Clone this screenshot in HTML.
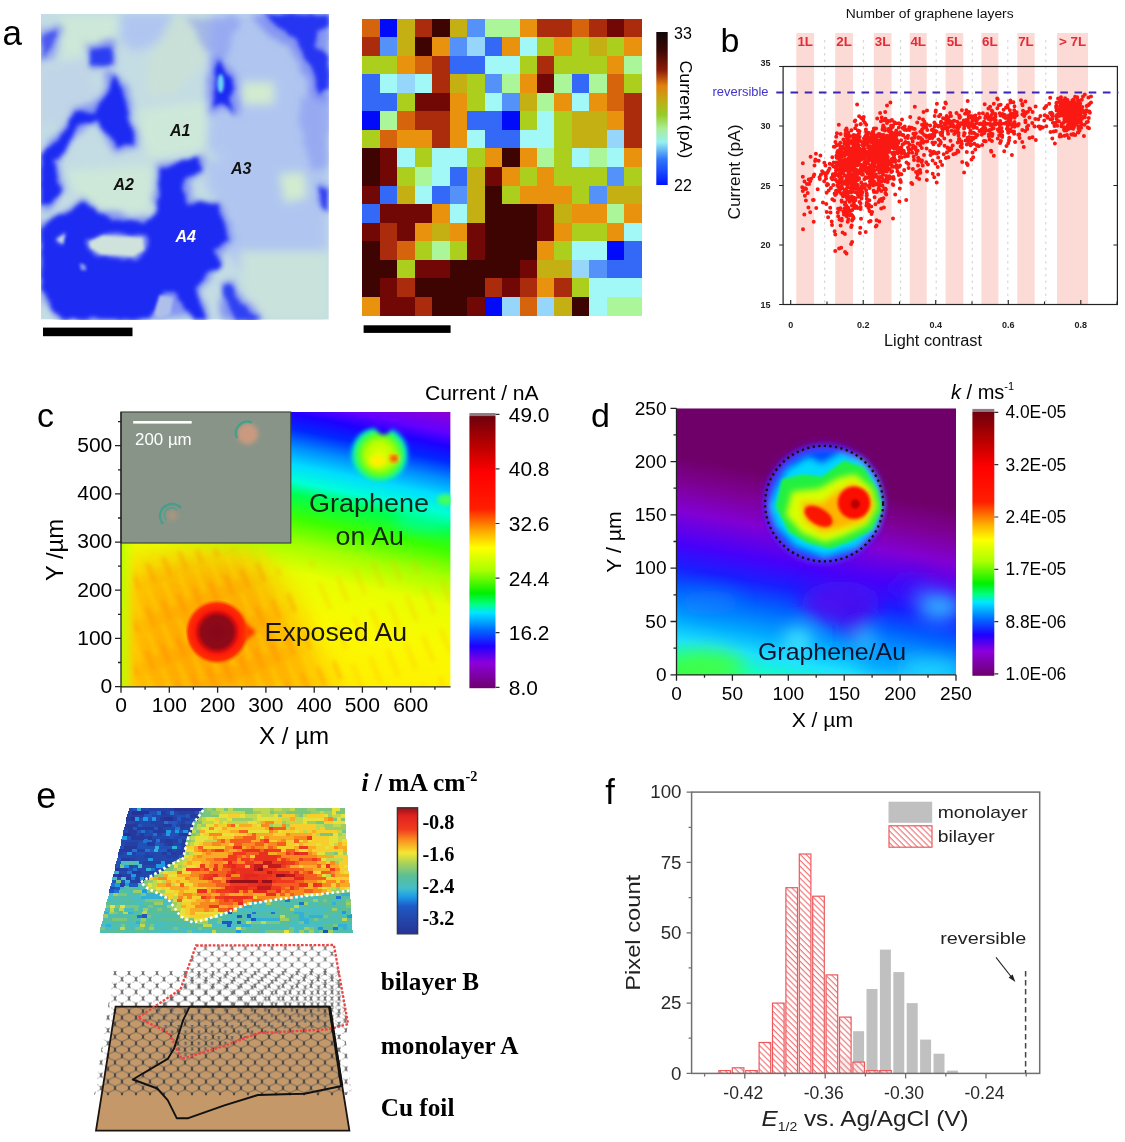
<!DOCTYPE html>
<html><head><meta charset="utf-8"><title>Figure</title>
<style>html,body{margin:0;padding:0;background:#fff}svg{display:block}text{font-family:"Liberation Sans",sans-serif}.sf{font-family:"Liberation Serif",serif}</style>
</head><body>
<svg width="1125" height="1142" viewBox="0 0 1125 1142">
<rect width="1125" height="1142" fill="#fff"/>
<g>
<defs><clipPath id="ca"><rect x="41" y="14" width="287.5" height="305.3"/></clipPath><filter id="ba" x="-5%" y="-5%" width="110%" height="110%"><feTurbulence type="fractalNoise" baseFrequency="0.07" numOctaves="2" seed="4" result="n"/><feDisplacementMap in="SourceGraphic" in2="n" scale="7.5" xChannelSelector="R" yChannelSelector="G"/><feGaussianBlur stdDeviation="2.1"/></filter><filter id="bap" x="-20%" y="-20%" width="140%" height="140%"><feGaussianBlur stdDeviation="1.6"/></filter><filter id="ba2" x="-20%" y="-20%" width="140%" height="140%"><feGaussianBlur stdDeviation="5"/></filter><filter id="ba3" x="-20%" y="-20%" width="140%" height="140%"><feTurbulence type="fractalNoise" baseFrequency="0.05" numOctaves="2" seed="9" result="n"/><feDisplacementMap in="SourceGraphic" in2="n" scale="14" xChannelSelector="R" yChannelSelector="G"/><feGaussianBlur stdDeviation="3.6"/></filter></defs>
<g clip-path="url(#ca)">
<rect x="41" y="14" width="288" height="306" fill="#c4dde4"/>
<g filter="url(#ba2)">
<polygon points="211.9,13.3 267.0,13.3 305.6,43.6 327.6,87.7 327.6,175.8 250.4,175.8 222.9,159.3 206.4,148.3 209.1,120.7 206.4,95.9 209.1,60.1" fill="#b0c6f0"/>
<polygon points="206.4,160.0 327.6,160.0 327.6,250.9 278.0,250.9 267.0,275.7 239.4,270.2 222.9,242.7 228.4,215.1 206.4,187.6" fill="#b0c6f0"/>
<polygon points="120.9,13.3 173.3,13.3 162.3,40.8 134.7,51.8 120.9,40.8" fill="#b0c6f0"/>
<polygon points="41.0,68.4 85.1,60.1 96.1,95.9 71.3,120.7 41.0,126.2" fill="#bccbea" opacity=".45"/>
<polygon points="140.2,109.7 206.4,101.4 206.4,148.3 151.2,159.3 140.2,134.5" fill="#cde8d8"/>
<polygon points="57.6,16.0 118.2,16.0 112.7,43.6 63.1,60.1" fill="#cde8d8"/>
<polygon points="173.3,16.0 211.9,16.0 206.4,60.1 173.3,95.9 145.7,95.9 148.5,60.1" fill="#c9e0d8"/>
<polygon points="242.2,82.2 273.9,82.2 273.9,104.2 242.2,104.2" fill="#d2ebcf"/>
<polygon points="278.0,21.5 322.1,38.1 316.6,60.1 286.3,46.3" fill="#c9e0d8"/>
<polygon points="65.8,171.0 151.2,165.5 151.2,209.6 112.7,215.1 79.6,198.6" fill="#cde8d8"/>
<polygon points="279.4,173.8 304.2,172.4 306.9,197.2 284.9,202.7" fill="#d2ebcf"/>
<polygon points="239.4,250.9 327.6,250.9 327.6,319.3 267.0,319.3 244.9,292.3" fill="#c9e2dc"/>
</g>
<g filter="url(#ba3)" fill="#8494f2">
<polygon points="184.3,18.8 239.4,18.8 228.4,57.4 206.4,51.8" opacity=".55"/>
<polygon points="251.8,14.3 328.6,14.3 328.6,101.0 317.2,103.9 307.3,84.0 301.6,66.9 293.1,51.3 274.6,38.4 260.3,27.1"/>
<polygon points="303.0,95.3 328.6,95.3 328.6,170.0 310.1,170.0 300.2,138.0 298.0,109.6" opacity=".55"/>
<polygon points="85.1,43.6 115.4,40.8 116.8,67.0 90.6,72.5"/>
<polygon points="109.9,69.8 126.4,84.9 138.8,145.5 118.2,151.0 96.1,126.2 79.6,131.8 63.1,159.3 41.0,175.8 41.0,148.3 57.6,134.5 74.1,107.0 92.0,108.3"/>
<polygon points="41.0,27.0 60.3,24.3 57.6,49.1 41.0,65.6" opacity=".8"/>
<polygon points="209.1,57.4 222.9,54.6 239.4,87.7 238.0,118.0 222.9,107.0 209.1,113.8"/>
<polygon points="155.4,165.5 206.4,155.9 206.4,173.8 188.4,179.3 191.2,201.3 220.1,201.3 235.3,239.9 217.4,250.9 225.6,266.1 200.8,292.3 209.1,319.3 184.3,314.3 162.3,319.3 54.8,319.3 41.0,297.8 41.0,223.4 71.3,206.8 85.1,197.2 98.9,209.6 148.5,219.2 155.4,209.6"/>
<polygon points="41.0,154.5 54.8,154.5 63.1,193.1 50.7,208.2 41.0,209.6"/>
<polygon points="220.1,281.2 233.9,281.2 244.9,303.3 267.0,319.3 222.9,319.3"/>
<polygon points="316.6,182.0 327.6,187.6 327.6,215.1 319.3,206.8"/>
</g>
<g filter="url(#ba)" fill="#1c2af2">
<polygon points="41.0,35.3 56.2,29.8 52.0,46.3 42.4,60.1" opacity=".6"/>
<polygon points="90.1,50.5 112.7,46.3 113.5,63.4 92.8,67.8" opacity=".82"/>
<polygon points="112.7,75.3 123.1,87.7 134.2,142.8 118.7,146.1 95.6,121.3 77.4,126.8 65.8,149.7 57.6,159.3 41.0,171.7 41.0,155.2 59.8,138.6 76.3,111.1 93.9,113.0 109.4,89.0"/>
<polygon points="263.2,14.3 328.6,14.3 327.9,27.1 317.2,31.3 315.1,38.4 317.2,46.3 328.6,56.9 328.6,89.7 318.7,95.3 315.8,81.1 311.6,66.9 303.0,56.9 300.2,47.0 297.3,39.2 283.1,31.3" opacity=".92"/>
<polygon points="220.1,61.5 229.0,77.2 234.5,87.7 229.0,98.7 234.5,113.8 222.9,102.0 213.0,108.6 215.2,87.7 213.0,73.9"/>
<path fill-rule="evenodd" d="M159.5,168.3 176.0,162.8 198.6,157.8 202.2,171.0 184.3,176.5 183.2,187.6 187.1,206.3 200.8,201.3 217.4,205.5 222.9,223.4 229.8,239.9 211.9,248.2 220.7,264.7 206.4,275.7 195.3,289.5 206.4,319.3 195.3,319.3 184.3,308.8 176.0,295.0 165.0,292.8 156.8,306.0 148.5,319.3 60.3,319.3 41.0,289.5 41.0,228.9 57.6,215.1 74.1,209.6 83.7,201.3 96.1,212.4 112.7,217.9 145.7,223.4 156.8,212.4 159.5,187.6Z M85.7,240.5 102.2,233.3 145.7,236.1 146.8,250.9 134.7,259.2 98.9,256.4 87.0,248.7Z M55.4,239.4 65.8,232.2 63.6,245.4Z"/>
<polygon points="41.0,154.5 52.0,154.5 57.6,176.5 60.3,193.1 49.3,204.1 41.0,206.8"/>
<polygon points="222.9,284.0 231.2,284.0 240.0,303.3 261.5,319.3 234.5,319.3 224.3,295.0" opacity=".8"/>
<polygon points="319.3,184.8 327.6,190.3 327.6,212.4 321.3,204.1" opacity=".85"/>
</g>
<g filter="url(#bap)">
<ellipse cx="220.7" cy="83.5" rx="3.2" ry="9.5" fill="#6cd4f6"/>
<polygon points="79.6,263.3 85.1,264.7 86.5,270.2 81.0,270.2" fill="#8f9cec"/>
<polygon points="89.2,241.6 103.0,235.5 143.0,237.7 144.1,249.8 133.6,256.4 100.3,254.2 90.1,247.6" fill="#cfe3dc"/>
<polygon points="56.5,239.4 65.3,233.3 63.1,244.3" fill="#c4d4e8"/>
<polygon points="159.5,295.0 173.3,297.8 170.5,314.3 159.5,319.3 154.0,314.3" fill="#aebfea"/>
</g>
</g>
<text x="170.0" y="136.0" font-size="16.5" fill="#111" textLength="20.5" lengthAdjust="spacingAndGlyphs" font-weight="bold" font-style="italic">A1</text>
<text x="231.0" y="174.0" font-size="16.5" fill="#111" textLength="20.5" lengthAdjust="spacingAndGlyphs" font-weight="bold" font-style="italic">A3</text>
<text x="113.5" y="190.0" font-size="16.5" fill="#111" textLength="20.5" lengthAdjust="spacingAndGlyphs" font-weight="bold" font-style="italic">A2</text>
<text x="175.5" y="241.7" font-size="16.5" fill="#fff" textLength="20.5" lengthAdjust="spacingAndGlyphs" font-weight="bold" font-style="italic">A4</text>
<rect x="43" y="327.6" width="89.5" height="8.6" fill="#000"/>
<text x="2.6" y="45.3" font-size="35">a</text>
</g>
<g>
<g shape-rendering="crispEdges">
<rect x="362.4" y="18.5" width="17.8" height="18.9" fill="#d6640c"/>
<rect x="379.9" y="18.5" width="17.8" height="18.9" fill="#020afa"/>
<rect x="397.3" y="18.5" width="17.8" height="18.9" fill="#c4b012"/>
<rect x="414.8" y="18.5" width="17.8" height="18.9" fill="#aa2c0c"/>
<rect x="432.2" y="18.5" width="17.8" height="18.9" fill="#3e0402"/>
<rect x="449.7" y="18.5" width="17.8" height="18.9" fill="#c4b012"/>
<rect x="467.1" y="18.5" width="17.8" height="18.9" fill="#5492fa"/>
<rect x="484.6" y="18.5" width="35.2" height="18.9" fill="#aaf698"/>
<rect x="519.5" y="18.5" width="17.8" height="18.9" fill="#e8920e"/>
<rect x="537.0" y="18.5" width="35.2" height="18.9" fill="#aa2c0c"/>
<rect x="571.9" y="18.5" width="17.8" height="18.9" fill="#d6640c"/>
<rect x="589.3" y="18.5" width="17.8" height="18.9" fill="#aa2c0c"/>
<rect x="606.8" y="18.5" width="17.8" height="18.9" fill="#720806"/>
<rect x="624.2" y="18.5" width="17.8" height="18.9" fill="#aa2c0c"/>
<rect x="362.4" y="37.0" width="17.8" height="18.9" fill="#aa2c0c"/>
<rect x="379.9" y="37.0" width="17.8" height="18.9" fill="#5492fa"/>
<rect x="397.3" y="37.0" width="17.8" height="18.9" fill="#c4b012"/>
<rect x="414.8" y="37.0" width="17.8" height="18.9" fill="#3e0402"/>
<rect x="432.2" y="37.0" width="17.8" height="18.9" fill="#e8920e"/>
<rect x="449.7" y="37.0" width="17.8" height="18.9" fill="#5492fa"/>
<rect x="467.1" y="37.0" width="17.8" height="18.9" fill="#96d6fa"/>
<rect x="484.6" y="37.0" width="17.8" height="18.9" fill="#3468f6"/>
<rect x="502.1" y="37.0" width="17.8" height="18.9" fill="#e8920e"/>
<rect x="519.5" y="37.0" width="17.8" height="18.9" fill="#a2f8f6"/>
<rect x="537.0" y="37.0" width="17.8" height="18.9" fill="#acce1c"/>
<rect x="554.4" y="37.0" width="17.8" height="18.9" fill="#e8920e"/>
<rect x="571.9" y="37.0" width="17.8" height="18.9" fill="#acce1c"/>
<rect x="589.3" y="37.0" width="17.8" height="18.9" fill="#c4b012"/>
<rect x="606.8" y="37.0" width="17.8" height="18.9" fill="#acce1c"/>
<rect x="624.2" y="37.0" width="17.8" height="18.9" fill="#e8920e"/>
<rect x="362.4" y="55.6" width="35.2" height="18.9" fill="#acce1c"/>
<rect x="397.3" y="55.6" width="17.8" height="18.9" fill="#e8920e"/>
<rect x="414.8" y="55.6" width="17.8" height="18.9" fill="#d6640c"/>
<rect x="432.2" y="55.6" width="17.8" height="18.9" fill="#aa2c0c"/>
<rect x="449.7" y="55.6" width="35.2" height="18.9" fill="#3468f6"/>
<rect x="484.6" y="55.6" width="35.2" height="18.9" fill="#a2f8f6"/>
<rect x="519.5" y="55.6" width="17.8" height="18.9" fill="#acce1c"/>
<rect x="537.0" y="55.6" width="17.8" height="18.9" fill="#aa2c0c"/>
<rect x="554.4" y="55.6" width="52.7" height="18.9" fill="#acce1c"/>
<rect x="606.8" y="55.6" width="17.8" height="18.9" fill="#e8920e"/>
<rect x="624.2" y="55.6" width="17.8" height="18.9" fill="#aaf698"/>
<rect x="362.4" y="74.2" width="17.8" height="18.9" fill="#3468f6"/>
<rect x="379.9" y="74.2" width="17.8" height="18.9" fill="#a2f8f6"/>
<rect x="397.3" y="74.2" width="17.8" height="18.9" fill="#96d6fa"/>
<rect x="414.8" y="74.2" width="17.8" height="18.9" fill="#a2f8f6"/>
<rect x="432.2" y="74.2" width="17.8" height="18.9" fill="#aa2c0c"/>
<rect x="449.7" y="74.2" width="17.8" height="18.9" fill="#c4b012"/>
<rect x="467.1" y="74.2" width="17.8" height="18.9" fill="#acce1c"/>
<rect x="484.6" y="74.2" width="17.8" height="18.9" fill="#5492fa"/>
<rect x="502.1" y="74.2" width="17.8" height="18.9" fill="#aaf698"/>
<rect x="519.5" y="74.2" width="17.8" height="18.9" fill="#e8920e"/>
<rect x="537.0" y="74.2" width="17.8" height="18.9" fill="#720806"/>
<rect x="554.4" y="74.2" width="17.8" height="18.9" fill="#aaf698"/>
<rect x="571.9" y="74.2" width="17.8" height="18.9" fill="#3468f6"/>
<rect x="589.3" y="74.2" width="17.8" height="18.9" fill="#aaf698"/>
<rect x="606.8" y="74.2" width="17.8" height="18.9" fill="#d6640c"/>
<rect x="624.2" y="74.2" width="17.8" height="18.9" fill="#acce1c"/>
<rect x="362.4" y="92.7" width="35.2" height="18.9" fill="#3468f6"/>
<rect x="397.3" y="92.7" width="17.8" height="18.9" fill="#acce1c"/>
<rect x="414.8" y="92.7" width="35.2" height="18.9" fill="#720806"/>
<rect x="449.7" y="92.7" width="17.8" height="18.9" fill="#e8920e"/>
<rect x="467.1" y="92.7" width="17.8" height="18.9" fill="#acce1c"/>
<rect x="484.6" y="92.7" width="17.8" height="18.9" fill="#a2f8f6"/>
<rect x="502.1" y="92.7" width="17.8" height="18.9" fill="#5492fa"/>
<rect x="519.5" y="92.7" width="17.8" height="18.9" fill="#c4b012"/>
<rect x="537.0" y="92.7" width="17.8" height="18.9" fill="#aaf698"/>
<rect x="554.4" y="92.7" width="17.8" height="18.9" fill="#e8920e"/>
<rect x="571.9" y="92.7" width="17.8" height="18.9" fill="#a2f8f6"/>
<rect x="589.3" y="92.7" width="17.8" height="18.9" fill="#e8920e"/>
<rect x="606.8" y="92.7" width="17.8" height="18.9" fill="#d6640c"/>
<rect x="624.2" y="92.7" width="17.8" height="18.9" fill="#aa2c0c"/>
<rect x="362.4" y="111.2" width="17.8" height="18.9" fill="#020afa"/>
<rect x="379.9" y="111.2" width="17.8" height="18.9" fill="#aaf698"/>
<rect x="397.3" y="111.2" width="17.8" height="18.9" fill="#d6640c"/>
<rect x="414.8" y="111.2" width="35.2" height="18.9" fill="#aa2c0c"/>
<rect x="449.7" y="111.2" width="17.8" height="18.9" fill="#e8920e"/>
<rect x="467.1" y="111.2" width="35.2" height="18.9" fill="#3468f6"/>
<rect x="502.1" y="111.2" width="17.8" height="18.9" fill="#020afa"/>
<rect x="519.5" y="111.2" width="17.8" height="18.9" fill="#acce1c"/>
<rect x="537.0" y="111.2" width="17.8" height="18.9" fill="#a2f8f6"/>
<rect x="554.4" y="111.2" width="17.8" height="18.9" fill="#acce1c"/>
<rect x="571.9" y="111.2" width="35.2" height="18.9" fill="#c4b012"/>
<rect x="606.8" y="111.2" width="17.8" height="18.9" fill="#e8920e"/>
<rect x="624.2" y="111.2" width="17.8" height="18.9" fill="#aa2c0c"/>
<rect x="362.4" y="129.8" width="17.8" height="18.9" fill="#acce1c"/>
<rect x="379.9" y="129.8" width="17.8" height="18.9" fill="#d6640c"/>
<rect x="397.3" y="129.8" width="35.2" height="18.9" fill="#e8920e"/>
<rect x="432.2" y="129.8" width="17.8" height="18.9" fill="#aa2c0c"/>
<rect x="449.7" y="129.8" width="17.8" height="18.9" fill="#e8920e"/>
<rect x="467.1" y="129.8" width="17.8" height="18.9" fill="#a2f8f6"/>
<rect x="484.6" y="129.8" width="35.2" height="18.9" fill="#3468f6"/>
<rect x="519.5" y="129.8" width="35.2" height="18.9" fill="#a2f8f6"/>
<rect x="554.4" y="129.8" width="17.8" height="18.9" fill="#acce1c"/>
<rect x="571.9" y="129.8" width="35.2" height="18.9" fill="#c4b012"/>
<rect x="606.8" y="129.8" width="17.8" height="18.9" fill="#96d6fa"/>
<rect x="624.2" y="129.8" width="17.8" height="18.9" fill="#aa2c0c"/>
<rect x="362.4" y="148.3" width="17.8" height="18.9" fill="#3e0402"/>
<rect x="379.9" y="148.3" width="17.8" height="18.9" fill="#720806"/>
<rect x="397.3" y="148.3" width="17.8" height="18.9" fill="#a2f8f6"/>
<rect x="414.8" y="148.3" width="17.8" height="18.9" fill="#acce1c"/>
<rect x="432.2" y="148.3" width="35.2" height="18.9" fill="#a2f8f6"/>
<rect x="467.1" y="148.3" width="17.8" height="18.9" fill="#acce1c"/>
<rect x="484.6" y="148.3" width="17.8" height="18.9" fill="#e8920e"/>
<rect x="502.1" y="148.3" width="17.8" height="18.9" fill="#3e0402"/>
<rect x="519.5" y="148.3" width="17.8" height="18.9" fill="#e8920e"/>
<rect x="537.0" y="148.3" width="17.8" height="18.9" fill="#aaf698"/>
<rect x="554.4" y="148.3" width="17.8" height="18.9" fill="#acce1c"/>
<rect x="571.9" y="148.3" width="17.8" height="18.9" fill="#a2f8f6"/>
<rect x="589.3" y="148.3" width="17.8" height="18.9" fill="#aaf698"/>
<rect x="606.8" y="148.3" width="17.8" height="18.9" fill="#a2f8f6"/>
<rect x="624.2" y="148.3" width="17.8" height="18.9" fill="#e8920e"/>
<rect x="362.4" y="166.9" width="17.8" height="18.9" fill="#3e0402"/>
<rect x="379.9" y="166.9" width="17.8" height="18.9" fill="#720806"/>
<rect x="397.3" y="166.9" width="17.8" height="18.9" fill="#acce1c"/>
<rect x="414.8" y="166.9" width="17.8" height="18.9" fill="#aaf698"/>
<rect x="432.2" y="166.9" width="17.8" height="18.9" fill="#a2f8f6"/>
<rect x="449.7" y="166.9" width="17.8" height="18.9" fill="#3468f6"/>
<rect x="467.1" y="166.9" width="17.8" height="18.9" fill="#c4b012"/>
<rect x="484.6" y="166.9" width="17.8" height="18.9" fill="#720806"/>
<rect x="502.1" y="166.9" width="17.8" height="18.9" fill="#e8920e"/>
<rect x="519.5" y="166.9" width="17.8" height="18.9" fill="#acce1c"/>
<rect x="537.0" y="166.9" width="17.8" height="18.9" fill="#e8920e"/>
<rect x="554.4" y="166.9" width="52.7" height="18.9" fill="#acce1c"/>
<rect x="606.8" y="166.9" width="17.8" height="18.9" fill="#5492fa"/>
<rect x="624.2" y="166.9" width="17.8" height="18.9" fill="#acce1c"/>
<rect x="362.4" y="185.5" width="17.8" height="18.9" fill="#720806"/>
<rect x="379.9" y="185.5" width="17.8" height="18.9" fill="#3468f6"/>
<rect x="397.3" y="185.5" width="17.8" height="18.9" fill="#c4b012"/>
<rect x="414.8" y="185.5" width="17.8" height="18.9" fill="#a2f8f6"/>
<rect x="432.2" y="185.5" width="17.8" height="18.9" fill="#3468f6"/>
<rect x="449.7" y="185.5" width="17.8" height="18.9" fill="#5492fa"/>
<rect x="467.1" y="185.5" width="17.8" height="18.9" fill="#c4b012"/>
<rect x="484.6" y="185.5" width="17.8" height="18.9" fill="#3e0402"/>
<rect x="502.1" y="185.5" width="17.8" height="18.9" fill="#acce1c"/>
<rect x="519.5" y="185.5" width="52.7" height="18.9" fill="#e8920e"/>
<rect x="571.9" y="185.5" width="17.8" height="18.9" fill="#acce1c"/>
<rect x="589.3" y="185.5" width="17.8" height="18.9" fill="#5492fa"/>
<rect x="606.8" y="185.5" width="35.2" height="18.9" fill="#c4b012"/>
<rect x="362.4" y="204.0" width="17.8" height="18.9" fill="#3468f6"/>
<rect x="379.9" y="204.0" width="52.7" height="18.9" fill="#720806"/>
<rect x="432.2" y="204.0" width="17.8" height="18.9" fill="#e8920e"/>
<rect x="449.7" y="204.0" width="17.8" height="18.9" fill="#a2f8f6"/>
<rect x="467.1" y="204.0" width="17.8" height="18.9" fill="#c4b012"/>
<rect x="484.6" y="204.0" width="52.7" height="18.9" fill="#3e0402"/>
<rect x="537.0" y="204.0" width="17.8" height="18.9" fill="#720806"/>
<rect x="554.4" y="204.0" width="17.8" height="18.9" fill="#c4b012"/>
<rect x="571.9" y="204.0" width="35.2" height="18.9" fill="#e8920e"/>
<rect x="606.8" y="204.0" width="17.8" height="18.9" fill="#aaf698"/>
<rect x="624.2" y="204.0" width="17.8" height="18.9" fill="#e8920e"/>
<rect x="362.4" y="222.6" width="17.8" height="18.9" fill="#720806"/>
<rect x="379.9" y="222.6" width="17.8" height="18.9" fill="#aa2c0c"/>
<rect x="397.3" y="222.6" width="17.8" height="18.9" fill="#720806"/>
<rect x="414.8" y="222.6" width="17.8" height="18.9" fill="#e8920e"/>
<rect x="432.2" y="222.6" width="17.8" height="18.9" fill="#c4b012"/>
<rect x="449.7" y="222.6" width="17.8" height="18.9" fill="#e8920e"/>
<rect x="467.1" y="222.6" width="17.8" height="18.9" fill="#720806"/>
<rect x="484.6" y="222.6" width="52.7" height="18.9" fill="#3e0402"/>
<rect x="537.0" y="222.6" width="17.8" height="18.9" fill="#720806"/>
<rect x="554.4" y="222.6" width="17.8" height="18.9" fill="#e8920e"/>
<rect x="571.9" y="222.6" width="35.2" height="18.9" fill="#acce1c"/>
<rect x="606.8" y="222.6" width="17.8" height="18.9" fill="#e8920e"/>
<rect x="624.2" y="222.6" width="17.8" height="18.9" fill="#a2f8f6"/>
<rect x="362.4" y="241.1" width="17.8" height="18.9" fill="#3e0402"/>
<rect x="379.9" y="241.1" width="17.8" height="18.9" fill="#aa2c0c"/>
<rect x="397.3" y="241.1" width="17.8" height="18.9" fill="#d6640c"/>
<rect x="414.8" y="241.1" width="17.8" height="18.9" fill="#acce1c"/>
<rect x="432.2" y="241.1" width="17.8" height="18.9" fill="#aaf698"/>
<rect x="449.7" y="241.1" width="17.8" height="18.9" fill="#acce1c"/>
<rect x="467.1" y="241.1" width="17.8" height="18.9" fill="#720806"/>
<rect x="484.6" y="241.1" width="52.7" height="18.9" fill="#3e0402"/>
<rect x="537.0" y="241.1" width="17.8" height="18.9" fill="#e8920e"/>
<rect x="554.4" y="241.1" width="17.8" height="18.9" fill="#acce1c"/>
<rect x="571.9" y="241.1" width="35.2" height="18.9" fill="#a2f8f6"/>
<rect x="606.8" y="241.1" width="17.8" height="18.9" fill="#020afa"/>
<rect x="624.2" y="241.1" width="17.8" height="18.9" fill="#3468f6"/>
<rect x="362.4" y="259.6" width="35.2" height="18.9" fill="#3e0402"/>
<rect x="397.3" y="259.6" width="17.8" height="18.9" fill="#acce1c"/>
<rect x="414.8" y="259.6" width="35.2" height="18.9" fill="#720806"/>
<rect x="449.7" y="259.6" width="70.1" height="18.9" fill="#3e0402"/>
<rect x="519.5" y="259.6" width="17.8" height="18.9" fill="#720806"/>
<rect x="537.0" y="259.6" width="35.2" height="18.9" fill="#c4b012"/>
<rect x="571.9" y="259.6" width="17.8" height="18.9" fill="#96d6fa"/>
<rect x="589.3" y="259.6" width="17.8" height="18.9" fill="#5492fa"/>
<rect x="606.8" y="259.6" width="35.2" height="18.9" fill="#3468f6"/>
<rect x="362.4" y="278.2" width="17.8" height="18.9" fill="#3e0402"/>
<rect x="379.9" y="278.2" width="17.8" height="18.9" fill="#720806"/>
<rect x="397.3" y="278.2" width="17.8" height="18.9" fill="#aa2c0c"/>
<rect x="414.8" y="278.2" width="70.1" height="18.9" fill="#3e0402"/>
<rect x="484.6" y="278.2" width="17.8" height="18.9" fill="#aa2c0c"/>
<rect x="502.1" y="278.2" width="17.8" height="18.9" fill="#720806"/>
<rect x="519.5" y="278.2" width="17.8" height="18.9" fill="#aa2c0c"/>
<rect x="537.0" y="278.2" width="17.8" height="18.9" fill="#e8920e"/>
<rect x="554.4" y="278.2" width="17.8" height="18.9" fill="#aa2c0c"/>
<rect x="571.9" y="278.2" width="17.8" height="18.9" fill="#acce1c"/>
<rect x="589.3" y="278.2" width="52.7" height="18.9" fill="#a2f8f6"/>
<rect x="362.4" y="296.8" width="17.8" height="18.9" fill="#e8920e"/>
<rect x="379.9" y="296.8" width="35.2" height="18.9" fill="#720806"/>
<rect x="414.8" y="296.8" width="17.8" height="18.9" fill="#aa2c0c"/>
<rect x="432.2" y="296.8" width="35.2" height="18.9" fill="#3e0402"/>
<rect x="467.1" y="296.8" width="17.8" height="18.9" fill="#720806"/>
<rect x="484.6" y="296.8" width="17.8" height="18.9" fill="#020afa"/>
<rect x="502.1" y="296.8" width="17.8" height="18.9" fill="#96d6fa"/>
<rect x="519.5" y="296.8" width="17.8" height="18.9" fill="#d6640c"/>
<rect x="537.0" y="296.8" width="17.8" height="18.9" fill="#96d6fa"/>
<rect x="554.4" y="296.8" width="17.8" height="18.9" fill="#c4b012"/>
<rect x="571.9" y="296.8" width="17.8" height="18.9" fill="#3e0402"/>
<rect x="589.3" y="296.8" width="17.8" height="18.9" fill="#a2f8f6"/>
<rect x="606.8" y="296.8" width="35.2" height="18.9" fill="#aaf698"/>
</g>
<rect x="363.6" y="325.3" width="87" height="7.6" fill="#000"/>
<defs><linearGradient id="ga2" x1="0" y1="32" x2="0" y2="185" gradientUnits="userSpaceOnUse"><stop offset="0.000" stop-color="#100808"/><stop offset="0.120" stop-color="#3c0804"/><stop offset="0.250" stop-color="#8c1c08"/><stop offset="0.350" stop-color="#e2800e"/><stop offset="0.450" stop-color="#c0ac14"/><stop offset="0.540" stop-color="#96cc28"/><stop offset="0.630" stop-color="#aaec96"/><stop offset="0.720" stop-color="#96f0f0"/><stop offset="0.830" stop-color="#3278fa"/><stop offset="1.000" stop-color="#0014ff"/></linearGradient></defs>
<rect x="656.3" y="32" width="11.4" height="153" fill="url(#ga2)"/>
<text x="674.0" y="38.9" font-size="16" textLength="17.8" lengthAdjust="spacingAndGlyphs">33</text>
<text x="674.0" y="191.2" font-size="16" textLength="17.8" lengthAdjust="spacingAndGlyphs">22</text>
<text x="679.5" y="60.5" font-size="16" textLength="98.0" lengthAdjust="spacingAndGlyphs" transform="rotate(90 679.5 60.5)">Current  (pA)</text>
</g>
<g>
<rect x="796.3" y="33" width="17.8" height="271.5" fill="#fcdad6"/>
<rect x="835.2" y="33" width="17.8" height="271.5" fill="#fcdad6"/>
<rect x="873.8" y="33" width="17.7" height="271.5" fill="#fcdad6"/>
<rect x="909.7" y="33" width="17.0" height="271.5" fill="#fcdad6"/>
<rect x="945.6" y="33" width="17.7" height="271.5" fill="#fcdad6"/>
<rect x="981.4" y="33" width="17.0" height="271.5" fill="#fcdad6"/>
<rect x="1017.3" y="33" width="17.4" height="271.5" fill="#fcdad6"/>
<rect x="1057" y="33" width="31.0" height="271.5" fill="#fcdad6"/>
<line x1="824.7" y1="40" x2="824.7" y2="304" stroke="#d4d4d4" stroke-width="1.1" stroke-dasharray="2.5 4"/>
<line x1="863.4" y1="40" x2="863.4" y2="304" stroke="#d4d4d4" stroke-width="1.1" stroke-dasharray="2.5 4"/>
<line x1="900.6" y1="40" x2="900.6" y2="304" stroke="#d4d4d4" stroke-width="1.1" stroke-dasharray="2.5 4"/>
<line x1="936.2" y1="40" x2="936.2" y2="304" stroke="#d4d4d4" stroke-width="1.1" stroke-dasharray="2.5 4"/>
<line x1="972.3" y1="40" x2="972.3" y2="304" stroke="#d4d4d4" stroke-width="1.1" stroke-dasharray="2.5 4"/>
<line x1="1007.8" y1="40" x2="1007.8" y2="304" stroke="#d4d4d4" stroke-width="1.1" stroke-dasharray="2.5 4"/>
<line x1="1045.8" y1="40" x2="1045.8" y2="304" stroke="#d4d4d4" stroke-width="1.1" stroke-dasharray="2.5 4"/>
<text x="805.2" y="45.6" font-size="13.4" text-anchor="middle" fill="#e22c38" font-weight="bold">1L</text>
<text x="844.1" y="45.6" font-size="13.4" text-anchor="middle" fill="#e22c38" font-weight="bold">2L</text>
<text x="882.6" y="45.6" font-size="13.4" text-anchor="middle" fill="#e22c38" font-weight="bold">3L</text>
<text x="918.2" y="45.6" font-size="13.4" text-anchor="middle" fill="#e22c38" font-weight="bold">4L</text>
<text x="954.5" y="45.6" font-size="13.4" text-anchor="middle" fill="#e22c38" font-weight="bold">5L</text>
<text x="989.9" y="45.6" font-size="13.4" text-anchor="middle" fill="#e22c38" font-weight="bold">6L</text>
<text x="1026.0" y="45.6" font-size="13.4" text-anchor="middle" fill="#e22c38" font-weight="bold">7L</text>
<text x="1072.5" y="45.6" font-size="13.4" text-anchor="middle" fill="#e22c38" font-weight="bold">&gt; 7L</text>
<path d="M890.6 131.5h.01M841.8 178.0h.01M847.9 168.6h.01M885.6 148.7h.01M883.9 163.2h.01M834.6 231.2h.01M912.3 152.8h.01M879.3 185.1h.01M992.0 128.8h.01M877.6 157.4h.01M854.4 138.5h.01M875.7 135.4h.01M885.3 140.1h.01M897.5 141.1h.01M836.7 157.7h.01M847.9 167.9h.01M950.5 140.8h.01M1024.1 111.7h.01M1060.1 113.1h.01M846.4 210.1h.01M1074.6 121.6h.01M880.2 158.3h.01M848.5 164.9h.01M1002.8 114.0h.01M839.2 165.0h.01M1078.4 132.5h.01M872.5 148.9h.01M1076.1 115.3h.01M851.3 153.1h.01M966.1 120.1h.01M890.5 134.6h.01M1008.2 132.2h.01M913.4 133.7h.01M832.3 165.0h.01M850.5 171.2h.01M1073.1 118.5h.01M847.0 184.9h.01M857.9 130.4h.01M936.7 182.4h.01M1008.3 130.5h.01M1071.2 124.7h.01M1081.0 112.9h.01M992.0 136.0h.01M1068.2 109.5h.01M941.9 126.3h.01M942.1 165.1h.01M983.5 126.9h.01M1083.9 136.0h.01M1077.8 105.7h.01M848.0 166.4h.01M856.7 206.8h.01M935.4 163.6h.01M835.1 194.9h.01M985.2 124.3h.01M1009.1 118.8h.01M854.8 137.6h.01M840.9 146.7h.01M899.4 201.5h.01M855.2 208.1h.01M850.5 182.9h.01M1077.2 97.2h.01M853.1 144.6h.01M892.6 125.7h.01M1076.6 123.8h.01M1032.5 137.3h.01M866.1 155.7h.01M843.4 211.6h.01M942.2 133.0h.01M871.0 169.5h.01M958.4 151.7h.01M968.7 122.8h.01M1027.0 126.9h.01M1056.2 116.5h.01M1081.9 110.7h.01M846.2 179.9h.01M851.8 141.7h.01M886.7 140.8h.01M868.8 204.5h.01M859.6 170.7h.01M1078.0 122.6h.01M847.8 192.7h.01M854.7 182.0h.01M921.8 130.4h.01M819.5 177.3h.01M849.7 135.9h.01M886.0 140.1h.01M1077.8 110.8h.01M843.9 148.5h.01M826.6 192.7h.01M904.4 129.8h.01M1025.4 101.4h.01M947.4 122.9h.01M813.6 176.2h.01M849.1 143.7h.01M859.1 178.9h.01M893.0 218.5h.01M861.6 159.2h.01M1065.7 115.4h.01M962.2 162.1h.01M1067.0 117.2h.01M856.7 152.1h.01M840.6 133.9h.01M958.5 135.5h.01M940.3 132.9h.01M995.0 117.3h.01M859.1 116.3h.01M1010.3 129.6h.01M854.0 150.2h.01M848.0 141.2h.01M851.2 179.1h.01M952.6 121.5h.01M851.7 196.8h.01M972.3 137.4h.01M938.5 139.4h.01M837.2 152.6h.01M1006.5 146.1h.01M1071.9 127.9h.01M806.1 189.1h.01M920.6 138.0h.01M976.9 128.0h.01M1010.5 121.1h.01M975.4 119.1h.01M833.5 175.3h.01M930.1 151.0h.01M992.5 118.7h.01M853.0 166.7h.01M872.5 178.7h.01M1076.2 110.2h.01M906.7 154.7h.01M1072.6 106.5h.01M833.6 166.4h.01M1065.7 112.5h.01M856.6 170.4h.01M943.0 118.3h.01M1049.2 103.8h.01M1046.2 105.9h.01M884.6 151.6h.01M888.4 140.9h.01M875.6 141.4h.01M1072.1 112.8h.01M873.1 134.3h.01M881.2 170.9h.01M853.8 137.5h.01M893.7 138.0h.01M847.7 187.5h.01M880.9 121.2h.01M977.7 135.1h.01M974.8 133.4h.01M1068.8 138.0h.01M926.4 135.7h.01M879.3 221.4h.01M846.1 190.2h.01M911.7 127.8h.01M932.2 129.8h.01M1067.6 113.0h.01M857.8 154.6h.01M851.0 152.4h.01M977.4 145.2h.01M861.0 167.7h.01M961.9 110.2h.01M857.9 179.9h.01M922.1 129.6h.01M1010.7 113.5h.01M833.8 146.8h.01M1040.4 115.9h.01M844.0 161.2h.01M992.1 125.3h.01M850.6 168.4h.01M848.2 171.5h.01M958.6 133.0h.01M846.2 208.2h.01M879.1 150.5h.01M863.1 170.5h.01M1080.1 126.7h.01M900.8 182.0h.01M866.5 140.8h.01M841.5 168.7h.01M892.7 184.3h.01M902.7 144.6h.01M1007.9 130.5h.01M934.1 136.1h.01M1008.2 143.3h.01M1055.8 130.9h.01M1073.4 113.3h.01M917.6 174.5h.01M1082.3 117.1h.01M1044.2 120.4h.01M1076.2 113.7h.01M920.2 145.2h.01M832.0 225.1h.01M869.4 146.9h.01M879.7 140.8h.01M863.1 142.1h.01M885.1 142.8h.01M877.9 151.4h.01M879.7 143.4h.01M835.6 167.7h.01M1072.3 114.8h.01M1084.9 117.3h.01M1077.1 119.7h.01M889.9 162.2h.01M967.9 120.2h.01M1008.5 120.4h.01M1056.6 110.4h.01M1007.8 125.3h.01M911.9 138.6h.01M887.6 181.9h.01M862.2 156.7h.01M903.7 150.8h.01M1071.4 110.5h.01M835.7 174.4h.01M867.0 159.9h.01M991.3 151.8h.01M880.4 141.3h.01M844.9 165.2h.01M846.5 128.5h.01M857.1 158.3h.01M837.1 181.5h.01M848.0 167.0h.01M855.6 178.2h.01M906.0 137.6h.01M1075.2 134.9h.01M868.8 146.0h.01M842.9 162.8h.01M828.1 217.2h.01M843.1 182.1h.01M854.4 166.2h.01M865.0 136.7h.01M870.9 140.6h.01M861.3 157.7h.01M915.5 147.2h.01M847.4 178.7h.01M870.8 180.3h.01M906.5 162.6h.01M877.2 118.5h.01M853.7 155.7h.01M864.9 122.8h.01M882.2 145.9h.01M1064.4 121.1h.01M851.9 205.4h.01M1068.1 104.1h.01M889.4 163.3h.01M881.2 208.5h.01M847.7 221.8h.01M1072.6 112.5h.01M1075.6 104.0h.01M848.9 151.2h.01M1068.2 129.1h.01M838.5 170.1h.01M873.8 138.5h.01M836.0 170.6h.01M908.7 129.4h.01M1073.8 120.3h.01M1078.3 126.6h.01M922.6 165.6h.01M876.6 184.2h.01M888.3 164.5h.01M871.4 134.2h.01M979.5 124.0h.01M1027.9 111.7h.01M857.8 194.6h.01M854.5 172.7h.01M1018.7 124.0h.01M1051.4 112.8h.01M994.9 123.0h.01M1051.8 114.9h.01M1078.9 100.5h.01M1078.5 110.3h.01M999.8 113.3h.01M844.7 148.6h.01M899.4 152.3h.01M852.8 155.9h.01M1064.5 135.8h.01M851.5 180.4h.01M918.0 165.6h.01M984.7 104.3h.01M877.2 148.2h.01M888.2 145.1h.01M908.4 163.9h.01M1091.0 96.5h.01M897.0 168.2h.01M922.3 132.9h.01M863.6 151.5h.01M868.0 163.5h.01M879.5 145.8h.01M884.4 164.5h.01M855.2 206.7h.01M885.3 167.0h.01M854.8 187.2h.01M870.3 175.0h.01M1064.9 115.6h.01M1065.7 104.2h.01M885.0 151.5h.01M805.0 188.3h.01M854.6 141.3h.01M980.7 131.5h.01M973.5 127.7h.01M991.8 110.4h.01M857.2 149.7h.01M999.0 123.2h.01M947.6 148.1h.01M1055.3 123.0h.01M1089.3 104.0h.01M856.3 135.5h.01M840.3 148.8h.01M868.1 186.0h.01M890.8 128.8h.01M1057.3 109.4h.01M949.7 150.3h.01M879.1 185.9h.01M884.9 130.4h.01M855.0 173.2h.01M867.5 134.5h.01M883.0 149.7h.01M845.8 209.0h.01M873.2 143.6h.01M997.2 98.4h.01M851.8 157.6h.01M860.5 203.2h.01M959.4 138.9h.01M908.1 142.7h.01M889.7 148.6h.01M879.1 177.3h.01M893.9 154.7h.01M867.9 138.5h.01M852.8 174.7h.01M989.3 123.9h.01M856.9 163.7h.01M863.9 138.4h.01M953.5 121.0h.01M845.9 183.7h.01M824.2 181.3h.01M924.3 121.6h.01M870.0 173.2h.01M873.0 185.5h.01M855.7 139.0h.01M1070.5 106.0h.01M868.4 142.2h.01M931.8 130.1h.01M882.4 137.8h.01M940.5 143.5h.01M844.7 141.7h.01M969.9 132.9h.01M1076.3 114.3h.01M1068.1 107.5h.01M1076.4 109.8h.01M864.4 152.2h.01M863.2 156.2h.01M859.5 202.0h.01M959.5 117.8h.01M849.8 136.8h.01M851.4 130.3h.01M965.6 140.4h.01M1061.6 124.2h.01M840.8 167.7h.01M886.4 153.6h.01M1084.1 112.6h.01M992.6 113.2h.01M975.1 119.2h.01M845.4 149.1h.01M832.6 176.6h.01M893.6 138.0h.01M840.0 189.8h.01M960.6 146.6h.01M1070.6 110.9h.01M897.4 146.8h.01M1067.7 116.7h.01M884.3 155.3h.01M882.4 185.8h.01M889.4 151.8h.01M1064.0 108.5h.01M1080.3 116.2h.01M853.7 170.0h.01M855.5 160.5h.01M984.3 133.0h.01M883.8 149.0h.01M970.5 145.2h.01M1067.8 125.6h.01M917.7 150.7h.01M825.4 165.4h.01M1073.4 116.8h.01M1054.5 126.0h.01M985.1 127.9h.01M871.4 150.8h.01M895.0 159.7h.01M848.5 198.6h.01M1035.8 140.0h.01M1008.7 131.2h.01M848.0 154.1h.01M859.0 178.0h.01M940.7 133.2h.01M844.3 143.5h.01M934.2 177.2h.01M862.2 186.5h.01M840.4 208.3h.01M1064.0 129.8h.01M936.9 103.7h.01M846.3 164.1h.01M845.9 192.3h.01M1002.2 135.5h.01M907.8 137.9h.01M872.7 157.3h.01M1073.8 118.4h.01M889.6 178.4h.01M973.3 138.7h.01M815.5 159.5h.01M872.4 148.0h.01M976.6 122.9h.01M1014.5 106.2h.01M1068.5 112.5h.01M1087.8 111.3h.01M845.1 141.8h.01M1072.6 111.9h.01M839.2 189.4h.01M1062.0 114.9h.01M927.3 141.2h.01M882.0 201.0h.01M1061.4 126.3h.01M852.0 178.4h.01M845.4 167.7h.01M835.5 174.6h.01M858.2 149.2h.01M870.5 169.6h.01M1059.2 115.9h.01M933.4 144.2h.01M1073.6 113.2h.01M861.2 189.7h.01M910.2 117.0h.01M1007.7 128.3h.01M848.1 195.9h.01M922.0 124.8h.01M1073.9 127.3h.01M908.6 129.2h.01M1032.6 111.9h.01M868.5 208.0h.01M891.2 162.0h.01M1061.8 112.5h.01M843.3 173.2h.01M1029.4 108.6h.01M895.9 123.2h.01M1084.8 94.6h.01M981.6 129.5h.01M1024.2 115.9h.01M891.6 144.0h.01M1060.1 112.6h.01M840.4 160.5h.01M835.3 234.6h.01M1063.6 127.2h.01M854.4 169.5h.01M951.2 148.9h.01M857.1 104.5h.01M891.6 132.3h.01M954.2 120.8h.01M877.6 161.7h.01M858.9 188.9h.01M1004.2 151.3h.01M1009.9 110.3h.01M1014.7 117.8h.01M1044.7 115.3h.01M1060.2 134.4h.01M826.7 211.9h.01M911.3 182.9h.01M883.0 127.2h.01M871.5 179.3h.01M848.4 170.3h.01M1071.2 103.7h.01M1014.2 110.3h.01M1082.3 117.0h.01M879.3 172.7h.01M873.2 146.3h.01M862.9 149.6h.01M1078.7 120.8h.01M1073.1 119.9h.01M957.4 125.7h.01M828.7 190.5h.01M927.9 164.5h.01M852.4 164.9h.01M956.1 127.0h.01M845.9 163.5h.01M886.6 169.4h.01M842.3 170.2h.01M1088.4 97.4h.01M861.6 186.5h.01M842.9 168.6h.01M853.2 149.0h.01M1089.9 112.8h.01M845.6 130.2h.01M849.4 191.7h.01M1086.1 111.3h.01M881.8 152.4h.01M891.5 134.1h.01M884.2 139.3h.01M865.9 129.5h.01M974.5 124.5h.01M892.5 141.7h.01M864.6 149.0h.01M880.7 161.7h.01M991.4 114.9h.01M838.8 162.2h.01M855.0 188.4h.01M841.8 152.6h.01M840.4 176.3h.01M972.0 123.5h.01M1052.3 138.5h.01M1062.1 114.6h.01M951.6 130.8h.01M856.4 164.2h.01M867.9 137.0h.01M858.9 138.9h.01M947.6 131.1h.01M887.0 145.6h.01M867.3 154.1h.01M832.3 199.2h.01M848.8 183.8h.01M870.8 154.5h.01M995.3 124.4h.01M898.9 160.7h.01M881.9 138.6h.01M900.9 150.9h.01M1077.9 132.2h.01M826.9 185.3h.01M1071.8 105.0h.01M903.3 151.9h.01M927.3 130.1h.01M1063.2 102.5h.01M853.4 175.4h.01M957.8 142.5h.01M857.4 162.4h.01M857.1 152.9h.01M872.7 141.1h.01M1074.4 116.4h.01M1061.8 100.2h.01M975.3 149.4h.01M950.1 126.5h.01M956.5 112.9h.01M810.2 212.2h.01M804.9 195.8h.01M877.4 143.3h.01M1072.3 111.1h.01M838.3 186.8h.01M874.2 181.8h.01M900.4 124.0h.01M1070.9 128.0h.01M857.5 156.3h.01M895.6 144.4h.01M1014.8 125.5h.01M999.4 128.4h.01M884.0 163.7h.01M879.7 144.7h.01M879.6 154.6h.01M869.8 152.5h.01M922.7 140.8h.01M921.2 141.7h.01M848.8 157.9h.01M876.6 176.8h.01M894.3 122.2h.01M1073.5 114.6h.01M856.8 178.3h.01M957.6 150.5h.01M917.7 143.5h.01M804.5 181.5h.01M887.5 179.5h.01M1067.8 104.6h.01M1014.9 123.9h.01M877.3 183.6h.01M880.1 112.9h.01M1014.0 131.5h.01M999.2 135.2h.01M841.8 201.8h.01M896.8 148.8h.01M836.4 155.8h.01M881.0 155.5h.01M889.3 176.2h.01M939.0 116.3h.01M841.7 218.7h.01M839.4 177.0h.01M870.9 138.7h.01M932.1 153.5h.01M899.5 173.8h.01M850.1 158.7h.01M1065.3 119.7h.01M871.5 213.9h.01M867.7 173.5h.01M845.6 135.6h.01M872.4 132.1h.01M869.5 211.1h.01M900.2 179.9h.01M926.2 127.5h.01M889.6 169.1h.01M903.8 143.8h.01M874.9 144.5h.01M1065.8 103.7h.01M1056.1 106.3h.01M934.3 136.0h.01M896.9 143.5h.01M848.3 132.7h.01M833.7 162.5h.01M917.0 177.4h.01M867.1 139.8h.01M847.1 183.7h.01M1000.2 121.1h.01M914.4 136.9h.01M904.4 152.9h.01M849.5 183.5h.01M847.0 213.1h.01M866.2 124.8h.01M892.6 135.0h.01M846.4 135.2h.01M868.4 132.7h.01M976.9 120.3h.01M878.7 146.7h.01M1060.1 101.5h.01M1080.8 111.2h.01M866.1 134.4h.01M1000.5 134.0h.01M975.7 137.2h.01M1064.5 130.5h.01M844.1 212.3h.01M887.9 121.0h.01M881.5 153.0h.01M1070.8 116.8h.01M883.0 174.6h.01M1060.3 107.9h.01M1067.5 119.5h.01M1007.8 107.4h.01M958.9 141.1h.01M990.5 133.6h.01M1072.1 109.0h.01M839.8 154.9h.01M864.6 164.8h.01M874.7 162.3h.01M967.7 124.4h.01M900.0 132.2h.01M838.8 152.2h.01M886.8 178.5h.01M964.7 122.8h.01M842.4 172.9h.01M999.6 124.9h.01M847.5 199.3h.01M845.7 150.3h.01M883.4 147.1h.01M866.2 161.8h.01M845.1 252.1h.01M937.7 167.0h.01M882.7 159.5h.01M885.0 181.2h.01M983.9 141.0h.01M846.4 162.5h.01M894.3 155.0h.01M1070.2 118.8h.01M957.2 121.8h.01M900.0 165.4h.01M891.5 143.9h.01M844.4 208.8h.01M998.6 130.9h.01M887.2 177.5h.01M842.6 169.5h.01M1012.3 115.5h.01M862.5 142.6h.01M920.4 172.8h.01M914.8 106.7h.01M851.8 170.7h.01M841.4 161.9h.01M945.9 158.0h.01M866.5 167.5h.01M840.0 156.8h.01M856.1 206.2h.01M873.7 183.9h.01M870.6 139.5h.01M858.2 188.8h.01M897.1 152.0h.01M1006.9 128.8h.01M959.3 125.9h.01M875.1 155.8h.01M891.8 165.6h.01M865.0 165.4h.01M966.7 163.3h.01M839.3 173.4h.01M1066.3 130.6h.01M892.4 143.3h.01M839.8 180.4h.01M852.2 187.5h.01M835.2 251.0h.01M949.0 122.6h.01M897.0 145.6h.01M920.0 170.0h.01M813.7 200.0h.01M811.1 178.7h.01M854.1 146.6h.01M963.9 135.6h.01M850.8 141.6h.01M1086.7 122.2h.01M1015.1 142.1h.01M1079.0 112.8h.01M831.4 177.9h.01M891.0 127.3h.01M926.8 180.0h.01M872.1 161.0h.01M845.9 183.8h.01M913.7 156.7h.01M856.2 186.4h.01M846.5 253.6h.01M857.5 147.2h.01M894.2 152.4h.01M861.5 192.1h.01M1067.6 112.2h.01M996.1 123.6h.01M918.5 137.9h.01M874.2 174.2h.01M960.0 117.0h.01M869.0 169.4h.01M1060.3 113.0h.01M1062.5 104.1h.01M820.9 174.7h.01M923.5 111.9h.01M1067.9 117.6h.01M950.3 125.2h.01M1074.0 121.7h.01M876.6 220.3h.01M1003.6 116.7h.01M891.9 120.0h.01M1013.4 123.4h.01M874.0 149.3h.01M1082.0 117.3h.01M1070.5 119.9h.01M855.5 198.3h.01M803.0 229.2h.01M834.1 200.4h.01M966.6 111.7h.01M861.5 198.6h.01M838.1 208.7h.01M1056.4 103.0h.01M1078.6 112.3h.01M926.4 136.9h.01M852.1 220.5h.01M877.5 169.6h.01M886.6 140.2h.01M837.8 212.6h.01M961.8 144.1h.01M901.7 153.4h.01M859.9 232.9h.01M843.9 192.5h.01M1082.0 118.8h.01M844.4 175.5h.01M873.9 128.6h.01M943.7 154.3h.01M1012.8 115.8h.01M1088.8 118.0h.01M809.0 184.1h.01M844.7 194.1h.01M1081.3 109.2h.01M904.2 170.3h.01M901.6 150.1h.01M873.5 168.8h.01M891.5 136.3h.01M1065.3 112.1h.01M1062.9 112.3h.01M827.3 184.0h.01M854.4 155.4h.01M875.4 204.3h.01M835.4 141.9h.01M870.3 148.3h.01M870.6 221.1h.01M886.6 150.1h.01M1089.3 111.5h.01M850.2 180.3h.01M848.8 179.4h.01M896.4 165.2h.01M1073.8 114.3h.01M854.3 207.1h.01M843.7 171.1h.01M883.1 150.7h.01M1065.1 98.2h.01M845.5 168.7h.01M888.5 129.1h.01M849.7 201.7h.01M843.8 152.5h.01M1068.5 109.4h.01M1081.3 124.5h.01M885.1 140.7h.01M861.4 156.1h.01M871.7 165.7h.01M845.3 210.0h.01M968.3 139.5h.01M887.0 135.8h.01M879.5 165.6h.01M1074.1 102.0h.01M1072.1 114.5h.01M896.3 147.2h.01M856.8 146.5h.01M1060.1 102.1h.01M886.5 169.5h.01M870.4 157.0h.01M940.9 134.7h.01M839.9 209.6h.01M878.8 178.3h.01M966.4 110.2h.01M979.8 117.6h.01M1059.1 112.9h.01M934.7 116.1h.01M888.7 147.8h.01M887.7 157.1h.01M851.2 181.4h.01M867.3 132.9h.01M867.0 144.9h.01M870.8 138.9h.01M964.1 172.5h.01M927.0 110.4h.01M966.8 151.9h.01M985.3 124.1h.01M854.3 142.5h.01M857.1 138.0h.01M877.7 143.8h.01M827.1 173.1h.01M974.1 116.0h.01M869.6 140.4h.01M873.3 161.7h.01M964.6 126.2h.01M911.4 149.3h.01M830.2 207.7h.01M923.3 128.0h.01M944.5 145.7h.01M869.4 200.3h.01M834.6 193.6h.01M805.9 200.4h.01M1000.1 124.6h.01M1010.4 102.5h.01M1071.5 109.3h.01M1013.8 113.6h.01M921.7 161.8h.01M876.9 141.8h.01M1073.9 108.4h.01M832.9 174.3h.01M933.9 132.3h.01M1004.9 114.9h.01M815.9 153.8h.01M872.5 165.9h.01M883.9 171.4h.01M953.4 154.2h.01M859.0 159.6h.01M836.3 162.4h.01M940.4 161.5h.01M883.9 152.0h.01M856.1 173.7h.01M864.2 143.3h.01M1061.7 108.4h.01M862.4 184.3h.01M864.2 151.1h.01M854.6 185.3h.01M843.3 183.7h.01M1002.1 131.5h.01M1070.0 118.2h.01M1066.7 117.5h.01M886.9 171.6h.01M838.5 165.7h.01M886.9 156.6h.01M883.1 161.7h.01M874.3 170.7h.01M881.4 181.8h.01M1079.4 108.0h.01M1063.6 122.7h.01M855.3 153.5h.01M1074.9 120.1h.01M1082.3 110.8h.01M1061.0 97.3h.01M914.0 160.1h.01M882.5 129.4h.01M1003.6 109.8h.01M967.9 113.8h.01M884.9 160.1h.01M822.9 202.4h.01M878.9 163.4h.01M839.5 219.4h.01M881.0 145.8h.01M854.8 153.0h.01M892.1 171.2h.01M850.1 183.3h.01M854.1 162.8h.01M1050.2 97.8h.01M1022.4 114.4h.01M1080.3 110.6h.01M884.9 158.3h.01M866.9 156.4h.01M877.5 145.5h.01M850.4 159.5h.01M930.5 155.1h.01M810.6 156.8h.01M886.3 150.1h.01M1066.4 121.3h.01M836.9 133.2h.01M850.9 192.4h.01M849.2 176.0h.01M1070.0 106.3h.01M884.6 189.3h.01M938.2 174.4h.01M861.0 218.7h.01M1071.2 134.4h.01M929.5 137.8h.01M873.6 190.6h.01M899.8 188.4h.01M1062.1 123.5h.01M885.4 193.1h.01M989.0 117.2h.01M964.2 133.0h.01M802.8 163.3h.01M916.3 153.9h.01M883.7 137.9h.01M974.5 120.0h.01M1071.5 125.2h.01M857.0 158.5h.01M896.3 135.8h.01M874.8 150.1h.01M886.7 138.1h.01M1056.6 119.1h.01M1078.2 110.5h.01M1071.9 128.2h.01M860.8 124.0h.01M901.4 174.2h.01M1011.9 154.9h.01M1081.0 122.8h.01M843.3 193.8h.01M1064.1 104.9h.01M906.5 130.1h.01M874.3 150.5h.01M948.1 133.7h.01M875.1 156.9h.01M1007.6 105.2h.01M1086.7 105.9h.01M923.0 125.1h.01M869.1 221.8h.01M966.2 113.5h.01M918.1 157.8h.01M815.1 161.0h.01M851.7 176.0h.01M865.0 165.3h.01M1053.6 131.6h.01M968.8 142.0h.01M871.6 169.2h.01M859.7 164.3h.01M892.2 137.4h.01M848.8 150.6h.01M981.8 134.7h.01M848.4 145.1h.01M1038.4 119.3h.01M1079.2 121.9h.01M874.1 160.1h.01M909.8 144.8h.01M857.5 208.1h.01M916.8 151.3h.01M1074.2 109.2h.01M881.2 199.0h.01M923.0 119.5h.01M890.0 121.0h.01M965.2 122.0h.01M856.9 192.1h.01M951.2 124.6h.01M848.3 219.3h.01M1039.7 126.8h.01M1000.1 143.0h.01M1080.2 103.6h.01M972.5 125.5h.01M1000.9 141.1h.01M839.1 248.5h.01M902.0 119.4h.01M866.7 202.8h.01M942.1 128.6h.01M852.7 178.2h.01M844.6 189.9h.01M874.4 163.5h.01M859.9 160.6h.01M920.2 131.8h.01M924.2 135.0h.01M1087.6 105.6h.01M855.2 157.7h.01M932.4 137.4h.01M847.1 178.3h.01M850.8 178.4h.01M1085.5 111.4h.01M1009.0 140.5h.01M1067.1 114.9h.01M1052.3 119.1h.01M835.7 173.8h.01M1073.0 116.6h.01M837.4 185.3h.01M1078.4 109.5h.01M994.6 119.7h.01M840.7 163.1h.01M1014.1 117.1h.01M934.5 126.8h.01M841.2 193.8h.01M892.6 139.8h.01M1080.2 114.7h.01M986.9 123.8h.01M851.7 190.6h.01M845.8 153.2h.01M813.7 221.7h.01M948.4 157.2h.01M851.8 164.6h.01M905.0 129.3h.01M858.2 157.1h.01M970.9 115.9h.01M972.7 119.5h.01M1081.8 99.7h.01M1047.5 117.7h.01M1069.4 116.6h.01M857.3 165.3h.01M886.2 194.4h.01M1008.6 115.8h.01M847.1 198.1h.01M1073.4 99.5h.01M846.4 205.8h.01M876.4 137.4h.01M1068.6 111.8h.01M852.5 182.0h.01M983.1 125.0h.01M956.8 131.4h.01M956.9 132.5h.01M989.6 123.7h.01M846.5 215.9h.01M1076.1 123.1h.01M848.0 175.3h.01M919.2 178.9h.01M877.8 136.4h.01M895.1 141.5h.01M942.4 131.4h.01M1081.0 119.5h.01M851.4 214.8h.01M853.8 164.5h.01M883.8 150.7h.01M883.5 160.1h.01M847.8 151.8h.01M891.1 140.2h.01M1061.2 136.2h.01M1014.6 122.1h.01M889.5 139.0h.01M1072.5 107.2h.01M1017.9 125.6h.01M988.9 136.2h.01M854.4 150.5h.01M857.8 138.4h.01M855.1 128.2h.01M1018.3 134.8h.01M851.2 227.0h.01M922.0 160.4h.01M842.2 156.2h.01M878.5 188.8h.01M870.6 141.5h.01M984.7 140.9h.01M969.1 111.9h.01M822.1 171.3h.01M940.9 122.4h.01M1067.5 114.8h.01M849.9 148.6h.01M1064.9 112.8h.01M837.9 151.1h.01M852.8 149.3h.01M866.5 195.7h.01M864.5 144.2h.01M888.7 146.1h.01M1074.5 125.3h.01M863.9 143.6h.01M870.6 183.3h.01M874.8 160.1h.01M880.5 177.1h.01M840.6 225.6h.01M1078.5 101.0h.01M1083.0 110.8h.01M1073.0 134.8h.01M856.3 177.8h.01M858.0 153.1h.01M878.9 136.2h.01M947.8 127.8h.01M898.4 142.9h.01M853.2 152.2h.01M868.3 147.7h.01M995.7 120.2h.01M861.3 173.3h.01M859.5 131.3h.01M856.9 156.8h.01M1059.2 111.8h.01M842.6 166.0h.01M845.9 193.5h.01M861.3 164.9h.01M864.2 158.7h.01M808.4 207.6h.01M970.5 130.6h.01M888.6 164.0h.01M859.1 194.3h.01M865.6 154.0h.01M848.3 148.4h.01M852.8 154.8h.01M1063.9 101.1h.01M857.0 170.3h.01M1007.6 125.9h.01M1066.8 111.0h.01M892.8 146.4h.01M1065.5 114.6h.01M848.1 207.8h.01M1016.6 112.2h.01M855.4 200.3h.01M922.1 139.2h.01M1075.8 111.0h.01M963.9 124.2h.01M847.1 165.0h.01M1022.2 103.9h.01M832.3 157.2h.01M847.1 161.0h.01M848.3 174.0h.01M1078.1 107.4h.01M1038.6 126.5h.01M944.0 107.9h.01M836.2 136.8h.01M968.6 117.1h.01M1008.9 123.7h.01M935.1 142.5h.01M804.3 214.5h.01M1073.2 110.2h.01M1071.2 124.6h.01M848.0 168.7h.01M938.5 152.6h.01M851.7 153.7h.01M855.5 162.3h.01M877.5 151.7h.01M951.1 148.3h.01M896.5 139.0h.01M1019.6 138.0h.01M1073.3 134.1h.01M978.8 146.3h.01M873.1 132.8h.01M1045.9 106.8h.01M872.5 162.7h.01M1035.3 119.0h.01M851.5 152.1h.01M1077.2 110.4h.01M852.5 177.0h.01M882.1 163.4h.01M1084.5 124.7h.01M869.2 159.2h.01M853.9 155.7h.01M1071.0 120.2h.01M860.3 227.8h.01M991.0 150.7h.01M879.7 171.3h.01M1025.5 113.6h.01M1022.5 105.2h.01M933.3 130.4h.01M862.2 174.8h.01M845.3 202.4h.01M810.2 181.3h.01M972.5 152.6h.01M837.1 191.3h.01M863.4 153.9h.01M972.3 120.8h.01M872.1 160.2h.01M907.9 155.9h.01M1071.3 107.2h.01M843.2 154.0h.01M972.3 118.4h.01M873.9 165.0h.01M931.7 135.1h.01M1060.9 108.3h.01M973.6 132.7h.01M979.4 131.1h.01M1065.0 129.5h.01M884.6 128.0h.01M876.3 143.8h.01M1001.5 128.1h.01M866.2 154.4h.01M852.8 219.1h.01M847.0 153.9h.01M897.8 153.3h.01M854.6 156.0h.01M849.7 170.9h.01M1054.9 143.5h.01M882.2 146.1h.01M892.7 127.0h.01M893.8 148.5h.01M885.8 139.4h.01M878.6 202.1h.01M985.8 115.9h.01M841.2 169.5h.01M1060.9 107.5h.01M903.7 151.0h.01M873.3 173.8h.01M883.0 154.0h.01M1012.7 115.0h.01M838.2 164.1h.01M846.8 181.1h.01M893.4 166.8h.01M853.6 175.1h.01M836.8 164.4h.01M877.3 150.0h.01M1056.2 107.7h.01M1064.6 110.2h.01M1056.9 106.0h.01M990.7 129.6h.01M886.4 148.3h.01M1073.2 115.3h.01M871.8 177.2h.01M859.1 193.3h.01M870.9 155.2h.01M951.0 116.1h.01M870.9 142.1h.01M841.8 220.6h.01M936.7 153.5h.01M844.7 156.1h.01M1070.3 119.4h.01M1082.1 110.7h.01M879.0 179.8h.01M833.3 184.9h.01M901.1 140.2h.01M1087.9 121.8h.01M893.9 142.5h.01M1050.4 119.2h.01M1011.6 131.2h.01M1052.9 122.7h.01M1058.9 121.3h.01M1060.0 99.7h.01M861.5 158.6h.01M1087.8 127.6h.01M1062.0 109.6h.01M858.8 145.1h.01M896.2 130.4h.01M853.1 216.8h.01M1078.8 100.6h.01M866.4 205.4h.01M838.2 216.3h.01M971.4 140.5h.01M941.0 121.7h.01M847.0 138.2h.01M841.3 157.0h.01M1064.7 101.8h.01M852.3 155.7h.01M874.5 170.6h.01M851.3 158.9h.01M846.0 148.6h.01M840.5 169.4h.01M1052.6 114.1h.01M856.8 184.3h.01M881.3 160.2h.01M852.9 168.3h.01M961.5 144.4h.01M1070.9 114.7h.01M917.2 122.6h.01M846.6 197.3h.01M837.8 190.7h.01M912.9 168.9h.01M894.3 158.2h.01M883.6 145.2h.01M1072.3 116.4h.01M868.7 155.9h.01M889.3 163.5h.01M960.6 123.3h.01M959.4 124.2h.01M873.5 146.2h.01M1065.5 116.8h.01M884.1 165.0h.01M807.7 193.1h.01M875.4 152.3h.01M860.4 124.2h.01M846.8 154.0h.01M1079.6 112.7h.01M938.9 145.2h.01M869.6 187.9h.01M856.1 153.3h.01M851.9 161.8h.01M879.1 168.3h.01M893.3 177.1h.01M855.9 145.1h.01M879.8 154.3h.01M1077.5 100.1h.01M850.1 162.6h.01M887.0 151.8h.01M868.3 167.8h.01M865.3 142.7h.01M871.3 206.4h.01M1057.0 102.4h.01M993.8 155.7h.01M991.8 124.2h.01M874.5 184.8h.01M915.7 149.4h.01M858.9 136.9h.01M1014.1 133.8h.01M881.8 172.1h.01M993.8 103.7h.01M1067.0 134.9h.01M851.4 177.3h.01M883.3 160.4h.01M802.8 176.7h.01M849.8 158.3h.01M1059.7 110.1h.01M848.8 210.0h.01M835.5 173.6h.01M846.2 189.0h.01M904.2 169.9h.01M1062.4 109.8h.01M932.7 173.7h.01M834.7 146.8h.01M884.0 180.2h.01M940.3 114.8h.01M825.8 176.1h.01M1082.3 107.0h.01M971.5 123.2h.01M1035.6 106.6h.01M1021.0 100.3h.01M861.3 182.6h.01M1073.2 128.8h.01M1040.2 128.8h.01M887.5 136.6h.01M935.8 131.1h.01M1078.2 102.5h.01M914.7 129.1h.01M1066.4 119.2h.01M913.2 145.8h.01M1058.1 98.6h.01M1078.4 104.8h.01M1064.2 107.4h.01M888.6 148.7h.01M847.7 142.4h.01M967.6 164.6h.01M853.2 139.5h.01M846.9 164.1h.01M887.9 160.0h.01M919.0 170.8h.01M845.8 170.0h.01M988.4 108.4h.01M870.7 159.6h.01M846.7 129.4h.01M945.4 125.1h.01M851.0 162.4h.01M1068.5 116.8h.01M1010.4 100.4h.01M1082.3 111.2h.01M989.6 139.6h.01M1071.0 112.1h.01M850.8 198.9h.01M887.2 166.6h.01M857.0 148.7h.01M847.0 182.6h.01M1025.2 131.1h.01M872.1 166.9h.01M851.4 167.9h.01M1063.1 103.0h.01M928.6 136.9h.01M1034.6 126.5h.01M1067.7 118.6h.01M857.9 155.4h.01M844.7 195.4h.01M855.9 169.4h.01M855.1 151.9h.01M895.7 166.9h.01M883.0 148.4h.01M858.4 196.0h.01M848.2 175.3h.01M895.2 161.8h.01M922.6 140.3h.01M836.2 168.1h.01M925.3 126.5h.01M850.2 177.0h.01M874.6 166.2h.01M841.3 149.8h.01M1076.0 110.2h.01M892.8 154.1h.01M872.9 152.4h.01M884.3 155.1h.01M848.7 138.1h.01M874.6 159.8h.01M854.7 121.3h.01M859.0 133.4h.01M884.4 164.7h.01M883.8 144.7h.01M921.8 147.9h.01M844.4 167.1h.01M846.7 146.8h.01M866.3 171.8h.01M948.4 117.3h.01M1059.7 136.4h.01M942.2 135.6h.01M875.8 226.5h.01M985.7 141.2h.01M877.8 168.4h.01M980.5 123.5h.01M839.4 151.8h.01M875.5 162.1h.01M1030.1 109.1h.01M971.2 144.4h.01M898.8 127.5h.01M990.4 125.1h.01M885.2 112.1h.01M988.7 119.1h.01M864.3 155.6h.01M853.5 169.6h.01M992.5 111.8h.01M884.9 144.3h.01M1000.6 104.7h.01M871.3 136.2h.01M863.0 150.3h.01M898.9 123.2h.01M897.4 171.4h.01M858.1 145.6h.01M882.7 137.3h.01M894.5 147.4h.01M839.7 191.9h.01M862.6 145.2h.01M935.0 123.8h.01M876.9 140.3h.01M852.4 150.5h.01M866.0 131.4h.01M857.5 165.3h.01M952.7 145.4h.01M934.7 152.7h.01M964.2 127.0h.01M946.7 115.9h.01M875.7 174.6h.01M1010.4 131.1h.01M820.4 155.5h.01M869.5 149.8h.01M877.5 183.5h.01M1076.3 104.7h.01M905.4 142.0h.01M948.4 120.7h.01M904.7 126.5h.01M893.3 134.1h.01M893.0 161.5h.01M1078.8 120.3h.01M857.9 184.9h.01M898.7 174.9h.01M865.5 184.3h.01M836.5 145.3h.01M878.7 151.6h.01M1025.2 130.9h.01M839.1 183.2h.01M940.8 142.2h.01M864.5 169.4h.01M904.9 156.5h.01M1019.3 134.4h.01M1009.0 121.2h.01M1072.3 124.2h.01M841.6 200.5h.01M944.6 123.3h.01M998.8 105.3h.01M855.3 192.2h.01M853.9 150.8h.01M883.3 146.9h.01M887.5 148.5h.01M885.5 118.8h.01M1023.8 147.0h.01M1006.0 107.5h.01M997.8 129.6h.01M982.9 113.2h.01M830.9 188.0h.01M838.8 124.8h.01M855.3 120.5h.01M868.5 160.5h.01M850.9 214.8h.01M1068.3 109.7h.01M879.6 189.8h.01M875.1 158.0h.01M1062.4 113.1h.01M973.2 157.3h.01M841.8 180.5h.01M885.9 189.6h.01M869.8 145.9h.01M860.7 159.5h.01M958.9 139.0h.01M893.8 179.0h.01M929.7 135.2h.01M886.0 165.0h.01M850.2 154.8h.01M843.6 160.2h.01M861.8 195.0h.01M883.5 198.3h.01M850.1 155.9h.01M847.9 165.6h.01M982.2 144.9h.01M967.6 137.7h.01M961.2 142.5h.01M836.0 190.7h.01M860.6 209.1h.01M850.6 159.1h.01M859.9 151.8h.01M847.3 148.6h.01M885.5 188.7h.01M850.7 164.5h.01M894.4 133.6h.01M1079.6 117.4h.01M897.3 133.6h.01M861.2 172.4h.01M980.3 130.4h.01M1086.5 110.3h.01M844.7 159.8h.01M1091.0 102.5h.01M850.2 191.9h.01M860.0 148.7h.01M845.6 168.6h.01M1061.3 110.0h.01M1076.7 106.9h.01M847.9 150.6h.01M946.7 120.3h.01M893.0 145.6h.01M1027.2 129.1h.01M1067.5 99.9h.01M1068.6 128.7h.01M1008.2 132.7h.01M1070.8 122.7h.01M857.3 148.1h.01M923.1 142.7h.01M962.5 124.1h.01M1014.6 126.8h.01M885.9 142.2h.01M868.4 170.3h.01M1001.9 123.7h.01M1068.9 108.6h.01M807.0 183.9h.01M826.3 204.1h.01M874.0 191.9h.01M918.0 160.7h.01M945.9 103.6h.01M886.3 148.6h.01M874.5 163.8h.01M966.4 124.0h.01M892.1 165.9h.01M876.6 161.8h.01M940.0 140.7h.01M885.8 168.7h.01M881.7 117.5h.01M967.7 100.9h.01M849.1 157.5h.01M838.6 144.7h.01M957.4 131.1h.01M872.1 212.0h.01M888.6 130.4h.01M883.5 167.0h.01M949.2 120.7h.01M964.7 133.3h.01M869.5 171.4h.01M873.7 177.0h.01M1078.7 112.6h.01M990.1 106.7h.01M1064.8 112.7h.01M1076.3 106.5h.01M838.9 158.7h.01M860.7 168.7h.01M854.3 169.2h.01M992.5 133.9h.01M856.3 125.2h.01M1073.4 104.4h.01M977.8 118.8h.01M848.9 159.3h.01M964.1 128.5h.01M861.0 155.0h.01M971.5 133.0h.01M886.7 153.6h.01M860.0 171.7h.01M977.0 145.8h.01M912.9 148.1h.01M850.4 169.8h.01M828.0 184.5h.01M934.4 122.6h.01M1069.9 120.4h.01M849.9 211.2h.01M895.1 143.0h.01M936.2 125.0h.01M817.7 189.3h.01M1008.6 120.9h.01M852.5 161.5h.01M873.2 136.6h.01M902.4 134.9h.01M866.7 152.3h.01M887.0 105.6h.01M860.6 207.1h.01M938.3 126.4h.01M921.6 162.0h.01M893.7 155.5h.01M830.5 212.6h.01M974.7 127.1h.01M1085.1 114.4h.01M860.6 190.2h.01M899.2 166.7h.01M1071.9 102.7h.01M876.1 128.6h.01M945.9 119.6h.01M1066.4 105.0h.01M1010.7 119.1h.01M884.1 156.5h.01M878.3 166.7h.01M997.4 108.3h.01M868.1 154.0h.01M1012.4 126.4h.01M878.6 163.4h.01M915.9 133.3h.01M866.1 140.0h.01M816.2 208.0h.01M1077.8 106.5h.01M853.8 154.9h.01M881.8 142.9h.01M841.5 162.0h.01M863.4 120.3h.01M852.2 215.5h.01M1013.2 115.6h.01M849.8 175.2h.01M841.5 186.5h.01M891.2 172.1h.01M1072.3 100.6h.01M835.6 179.8h.01M886.0 149.1h.01M879.4 181.4h.01M884.5 142.3h.01M1089.2 111.8h.01M889.8 138.0h.01M862.9 174.3h.01M845.5 161.8h.01M916.0 172.1h.01M847.6 186.9h.01M887.3 152.1h.01M873.8 166.6h.01M935.8 110.5h.01M1061.9 111.4h.01M1071.5 107.4h.01M834.4 176.1h.01M824.3 162.8h.01M991.1 129.5h.01M1008.3 117.8h.01M872.4 158.9h.01M1002.1 136.9h.01M842.0 172.2h.01M861.6 174.0h.01M862.5 192.2h.01M1069.6 107.8h.01M843.4 139.6h.01M992.1 124.7h.01M884.4 137.4h.01M932.4 142.6h.01M853.9 202.8h.01M926.2 141.4h.01M899.7 157.0h.01M1078.6 113.8h.01M944.3 138.6h.01M849.4 160.3h.01M842.6 170.8h.01M1069.0 112.5h.01M849.8 215.2h.01M873.4 130.9h.01M869.9 181.4h.01M900.6 149.4h.01M1064.1 116.1h.01M861.1 158.5h.01M1052.5 115.7h.01M1028.2 125.4h.01M864.4 167.0h.01M878.5 180.1h.01M891.4 125.9h.01M882.3 168.6h.01M961.5 141.4h.01M979.1 113.4h.01M852.3 163.4h.01M1071.6 103.4h.01M883.9 150.6h.01M842.4 165.9h.01M938.2 157.6h.01M884.2 188.6h.01M879.1 166.6h.01M1025.4 122.3h.01M861.2 117.9h.01M863.7 146.2h.01M1072.7 112.3h.01M887.1 156.1h.01M909.4 129.9h.01M900.5 180.8h.01M881.3 190.9h.01M872.8 154.7h.01M903.3 134.9h.01M854.7 185.8h.01M856.6 177.2h.01M857.2 152.2h.01M853.6 152.9h.01M926.2 162.3h.01M935.6 111.8h.01M1071.9 107.4h.01M867.3 133.0h.01M853.6 218.3h.01M876.8 192.1h.01M850.7 188.3h.01M1065.7 109.3h.01M864.3 162.5h.01M855.2 181.9h.01M958.1 132.4h.01M853.8 134.9h.01M914.7 135.4h.01M866.2 190.3h.01M851.1 243.9h.01M930.1 138.2h.01M829.5 168.6h.01M902.6 128.1h.01M1005.4 118.0h.01M870.0 184.2h.01M853.9 137.2h.01M990.7 120.0h.01M1004.7 123.6h.01M1006.6 122.3h.01M1073.6 114.3h.01M853.2 135.5h.01M850.0 143.1h.01M883.2 125.4h.01M890.7 164.6h.01M1013.4 102.3h.01M969.1 136.9h.01M981.6 124.0h.01M1067.7 121.9h.01M854.1 205.0h.01M1050.1 112.9h.01M1072.0 112.5h.01M879.2 146.4h.01M905.3 137.7h.01M1046.9 116.2h.01M947.7 147.5h.01M848.4 150.6h.01M826.0 178.6h.01M1009.7 116.6h.01M1064.8 127.5h.01M939.5 125.7h.01M889.7 177.4h.01M887.1 170.4h.01M888.6 143.8h.01M849.8 172.5h.01M966.8 144.4h.01M871.0 140.2h.01M1063.0 109.5h.01M988.9 130.3h.01M891.6 133.8h.01M1078.8 116.0h.01M840.3 142.8h.01M856.2 154.5h.01M1050.5 131.9h.01M842.2 188.1h.01M864.3 179.3h.01M851.7 149.6h.01M892.2 153.0h.01M1062.2 115.6h.01M1068.8 107.8h.01M1072.4 109.4h.01M926.6 124.2h.01M846.0 144.5h.01M1065.6 115.5h.01M878.5 164.7h.01M864.6 188.0h.01M1046.3 126.3h.01M882.0 177.7h.01M912.3 184.0h.01M860.1 140.9h.01M908.0 147.4h.01M879.7 199.9h.01M944.8 128.6h.01M863.6 146.6h.01M854.5 167.9h.01M847.3 147.3h.01M988.8 134.4h.01M837.5 175.0h.01M866.7 193.6h.01M1081.6 107.6h.01M1075.0 104.4h.01M932.4 138.1h.01M868.8 172.5h.01M1065.6 116.1h.01M854.7 147.6h.01M906.2 199.9h.01M866.9 177.9h.01M844.9 233.9h.01M859.1 150.0h.01M944.2 118.6h.01M919.2 118.2h.01M901.5 157.5h.01M878.2 134.2h.01M808.7 179.4h.01M845.5 133.8h.01M967.8 140.3h.01M870.4 149.4h.01M851.9 148.2h.01M955.7 153.4h.01M1010.1 124.6h.01M886.4 162.0h.01M970.7 117.4h.01M1047.6 116.6h.01M843.0 196.2h.01M1081.2 127.8h.01M854.2 180.0h.01M864.5 163.9h.01M967.3 125.0h.01M918.4 137.2h.01M1074.0 125.2h.01M869.3 187.2h.01M952.2 125.7h.01M1067.8 109.5h.01M1072.8 113.6h.01M851.5 182.8h.01M887.0 123.0h.01M847.1 161.5h.01M874.6 197.3h.01M1066.7 105.4h.01M852.7 176.6h.01M986.2 130.4h.01M1072.5 104.1h.01M912.7 141.5h.01M814.2 174.4h.01M855.6 187.4h.01M991.9 141.1h.01M945.4 102.6h.01M1032.2 123.0h.01M1000.4 115.6h.01M848.8 153.0h.01M851.6 190.4h.01M954.2 133.9h.01M961.8 147.5h.01M883.5 135.1h.01M853.5 160.3h.01M1029.4 117.5h.01M913.3 128.7h.01M1061.6 105.4h.01M1077.0 119.9h.01M1029.4 138.1h.01M841.1 220.0h.01M1068.3 110.6h.01M879.4 133.9h.01M1071.6 114.1h.01M1073.5 115.1h.01M895.2 194.6h.01M1063.0 110.0h.01M926.6 148.6h.01M842.2 152.3h.01M847.0 210.5h.01M853.7 170.7h.01M898.8 148.8h.01M927.0 171.6h.01M1065.5 116.4h.01M974.4 143.7h.01M857.2 151.2h.01M872.0 171.7h.01M884.2 138.6h.01M882.7 141.5h.01M1056.9 115.1h.01M968.8 127.3h.01M849.9 153.4h.01M829.7 163.8h.01M865.7 232.1h.01M893.2 159.3h.01M860.3 197.1h.01M891.1 146.8h.01M844.8 192.9h.01M1065.4 103.1h.01M882.8 136.5h.01M967.6 164.9h.01M882.0 135.1h.01M1077.8 109.1h.01M899.3 134.6h.01M922.8 165.5h.01M1076.2 111.4h.01M1078.7 106.7h.01M959.3 126.3h.01M852.8 163.6h.01M894.5 145.3h.01M993.6 128.2h.01M855.4 153.5h.01M901.2 147.6h.01M832.3 179.3h.01M867.0 163.1h.01M1078.5 128.4h.01M882.4 156.7h.01M975.4 115.4h.01M950.2 112.9h.01M845.8 154.5h.01M870.7 165.3h.01M802.8 191.0h.01M997.8 138.5h.01M865.7 141.5h.01M945.7 125.4h.01M856.3 145.5h.01M1025.4 120.5h.01M850.6 187.8h.01M863.7 116.9h.01M846.0 165.3h.01M1059.3 114.9h.01M914.5 137.7h.01M1080.1 113.1h.01M884.5 165.3h.01M1075.4 117.2h.01M853.3 197.5h.01M1069.3 102.8h.01M858.1 154.2h.01M1072.7 128.6h.01M878.6 153.4h.01M896.4 133.8h.01M934.2 134.4h.01M889.0 131.3h.01M1022.3 130.1h.01M953.0 125.1h.01M866.3 151.7h.01M841.8 179.0h.01M936.6 131.4h.01M846.5 176.7h.01M887.7 143.0h.01M824.0 173.1h.01M841.1 151.8h.01M1068.6 108.8h.01M955.0 131.0h.01M893.0 125.6h.01M858.0 173.9h.01M990.0 118.5h.01M885.0 136.6h.01M844.3 162.8h.01M869.4 148.7h.01M854.1 177.5h.01M841.2 247.7h.01M851.5 159.1h.01M995.4 113.9h.01M1088.6 105.1h.01M844.9 204.8h.01M1071.8 119.1h.01M891.8 158.9h.01M1062.6 104.7h.01M958.0 128.8h.01M1009.3 137.7h.01M949.8 121.5h.01M874.2 170.8h.01M880.3 140.1h.01M1059.7 109.6h.01M1042.7 127.5h.01M853.4 200.2h.01M883.9 137.8h.01M857.2 154.5h.01M891.7 177.7h.01M881.3 151.2h.01M906.1 142.4h.01M891.1 125.8h.01M1088.4 111.5h.01M858.9 196.7h.01M813.0 199.9h.01M908.0 135.7h.01M873.4 182.2h.01M892.5 136.3h.01M876.2 146.1h.01M876.6 225.4h.01M852.7 157.8h.01M866.8 199.1h.01M1023.0 110.7h.01M886.2 176.1h.01M1065.6 113.7h.01M847.5 168.3h.01M859.2 188.4h.01M1077.0 105.6h.01M831.7 221.6h.01M1071.1 102.9h.01M846.9 160.9h.01M846.5 154.2h.01M930.1 125.4h.01M852.5 191.7h.01M884.6 155.4h.01M873.7 153.7h.01M859.6 136.8h.01M1076.3 109.4h.01M1075.1 96.7h.01M847.3 153.2h.01M884.0 143.9h.01M1060.5 106.4h.01M819.8 179.0h.01M869.6 151.2h.01M851.7 225.5h.01M900.1 147.7h.01M878.1 161.0h.01M827.8 172.1h.01M853.6 168.8h.01M1083.0 96.5h.01M846.9 160.4h.01M1079.6 130.5h.01M850.2 169.7h.01M852.2 210.0h.01M1076.1 111.2h.01M860.0 152.3h.01M971.5 159.6h.01M1016.8 115.3h.01M854.0 166.6h.01M924.0 155.1h.01M1066.6 118.5h.01M919.3 159.4h.01M871.2 153.7h.01M886.1 164.0h.01M959.1 115.5h.01M852.1 162.9h.01M1060.7 104.3h.01M848.1 159.2h.01M876.9 176.8h.01M868.4 177.6h.01M856.5 179.9h.01M908.6 168.1h.01M965.0 113.7h.01M909.3 127.2h.01M1067.1 127.4h.01M883.9 207.4h.01M802.2 187.3h.01M862.3 158.6h.01M881.4 143.8h.01M873.9 144.6h.01M848.5 174.0h.01M879.3 154.7h.01M842.6 147.0h.01M851.5 185.1h.01M1080.6 116.4h.01M908.8 149.7h.01M881.3 167.1h.01M1080.0 106.5h.01M847.9 158.9h.01M814.5 165.6h.01M841.4 155.1h.01M1064.4 119.3h.01M849.9 166.8h.01M892.7 166.8h.01M883.5 156.3h.01M843.9 214.4h.01M851.9 176.6h.01M875.5 153.7h.01M842.6 232.4h.01M970.3 126.0h.01M987.2 113.9h.01M880.7 145.4h.01M908.8 152.9h.01M842.3 183.0h.01M881.1 171.5h.01M881.9 145.9h.01M1074.8 118.8h.01M1034.4 126.3h.01M843.0 161.1h.01M860.7 191.5h.01M953.8 127.1h.01M851.7 140.9h.01M1025.7 113.6h.01M1089.0 128.2h.01M876.3 156.4h.01M892.8 140.8h.01M1072.3 124.2h.01M884.6 155.3h.01M1040.6 126.8h.01M995.4 116.4h.01M853.3 201.1h.01M963.8 120.4h.01M1073.3 120.0h.01M836.2 193.9h.01M852.1 242.0h.01M1022.3 142.0h.01M977.2 135.0h.01M1080.0 109.2h.01M857.4 144.6h.01M889.9 144.4h.01M888.1 146.2h.01M1057.6 121.5h.01M984.1 121.8h.01M861.7 168.4h.01M883.1 126.4h.01M947.0 152.2h.01M933.7 151.8h.01M818.7 160.7h.01M892.7 126.7h.01M885.4 139.7h.01M877.3 167.6h.01M893.6 160.1h.01M932.8 153.4h.01M983.7 130.3h.01M893.3 184.9h.01M866.9 195.3h.01M969.9 124.3h.01M979.8 124.1h.01M935.7 132.1h.01M884.2 120.3h.01M890.4 102.4h.01M849.3 163.1h.01M1069.5 113.6h.01M1079.4 119.5h.01M883.1 146.1h.01M875.8 160.1h.01M889.7 136.8h.01M894.0 133.2h.01M1057.2 125.8h.01M873.6 165.9h.01M961.9 123.3h.01M1073.3 113.3h.01M865.6 177.3h.01M850.0 165.1h.01M945.9 126.7h.01M828.5 170.6h.01M870.7 167.1h.01M997.7 99.2h.01M985.2 118.1h.01M857.5 142.3h.01M880.5 147.9h.01M1066.8 106.0h.01M890.4 142.8h.01M1044.4 108.3h.01M896.2 142.4h.01M932.6 160.5h.01" stroke="#fa1812" stroke-width="4" stroke-linecap="round" fill="none"/>
<rect x="783.1" y="66.5" width="334.3" height="238.0" fill="none" stroke="#222" stroke-width="1.2"/>
<line x1="776.3" y1="92.6" x2="1118.4" y2="92.6" stroke="#3a26b4" stroke-width="2" stroke-dasharray="7.6 6.6"/>
<text x="712.5" y="95.5" font-size="12.5" fill="#4035c8" textLength="56.0" lengthAdjust="spacingAndGlyphs">reversible</text>
<text x="770.5" y="307.7" font-size="9" text-anchor="end" fill="#222" font-weight="bold">15</text>
<text x="770.5" y="248.2" font-size="9" text-anchor="end" fill="#222" font-weight="bold">20</text>
<text x="770.5" y="188.7" font-size="9" text-anchor="end" fill="#222" font-weight="bold">25</text>
<text x="770.5" y="129.2" font-size="9" text-anchor="end" fill="#222" font-weight="bold">30</text>
<text x="770.5" y="66.3" font-size="9" text-anchor="end" fill="#222" font-weight="bold">35</text>
<text x="790.7" y="328.2" font-size="9" text-anchor="middle" fill="#222" font-weight="bold">0</text>
<text x="863.2" y="328.2" font-size="9" text-anchor="middle" fill="#222" font-weight="bold">0.2</text>
<text x="935.7" y="328.2" font-size="9" text-anchor="middle" fill="#222" font-weight="bold">0.4</text>
<text x="1008.3" y="328.2" font-size="9" text-anchor="middle" fill="#222" font-weight="bold">0.6</text>
<text x="1080.8" y="328.2" font-size="9" text-anchor="middle" fill="#222" font-weight="bold">0.8</text>
<path d="M779.1 304.5H783.1M1113.4 304.5H1117.4M779.1 245.0H783.1M1113.4 245.0H1117.4M779.1 185.5H783.1M1113.4 185.5H1117.4M779.1 126.0H783.1M1113.4 126.0H1117.4M779.1 66.5H783.1M1113.4 66.5H1117.4M790.7 304.5V300.0M863.2 304.5V300.0M935.7 304.5V300.0M1008.3 304.5V300.0M1080.8 304.5V300.0M827.0 304.5V301.5M899.5 304.5V301.5M972.0 304.5V301.5M1044.5 304.5V301.5M1117.0 304.5V301.5" stroke="#222" stroke-width="1.1" fill="none"/>
<text x="929.7" y="17.5" font-size="12.5" text-anchor="middle" fill="#111" textLength="168.0" lengthAdjust="spacingAndGlyphs">Number of graphene layers</text>
<text x="740.0" y="172.0" font-size="16" text-anchor="middle" fill="#111" textLength="95.0" lengthAdjust="spacingAndGlyphs" transform="rotate(-90 740.0 172.0)">Current  (pA)</text>
<text x="933.0" y="346.0" font-size="16" text-anchor="middle" fill="#111" textLength="98.0" lengthAdjust="spacingAndGlyphs">Light contrast</text>
<text x="720.5" y="52.0" font-size="34">b</text>
</g>
<g>
<defs><linearGradient id="gc" x1="298.6" y1="375.8" x2="227.65" y2="714.5" gradientUnits="userSpaceOnUse"><stop offset="0.000" stop-color="#9600c8"/><stop offset="0.071" stop-color="#6400ff"/><stop offset="0.110" stop-color="#1e00ff"/><stop offset="0.154" stop-color="#0028ff"/><stop offset="0.204" stop-color="#008cff"/><stop offset="0.254" stop-color="#00dcff"/><stop offset="0.301" stop-color="#00ffd7"/><stop offset="0.338" stop-color="#00ff50"/><stop offset="0.405" stop-color="#3cff00"/><stop offset="0.480" stop-color="#a5ff00"/><stop offset="0.561" stop-color="#e8ff00"/><stop offset="0.682" stop-color="#fafa00"/><stop offset="0.827" stop-color="#fff000"/><stop offset="1.000" stop-color="#ffe100"/></linearGradient><linearGradient id="gcb" x1="0" y1="413" x2="0" y2="688.2" gradientUnits="userSpaceOnUse"><stop offset="0.000" stop-color="#928086"/><stop offset="0.010" stop-color="#8c767e"/><stop offset="0.013" stop-color="#70000c"/><stop offset="0.114" stop-color="#b60000"/><stop offset="0.216" stop-color="#ff0000"/><stop offset="0.348" stop-color="#ff1e00"/><stop offset="0.389" stop-color="#ff6400"/><stop offset="0.430" stop-color="#ffaa00"/><stop offset="0.490" stop-color="#ffff00"/><stop offset="0.572" stop-color="#aaff00"/><stop offset="0.654" stop-color="#00f000"/><stop offset="0.695" stop-color="#00ff82"/><stop offset="0.725" stop-color="#00e6ff"/><stop offset="0.786" stop-color="#006eff"/><stop offset="0.847" stop-color="#1e00ff"/><stop offset="0.908" stop-color="#8c00dc"/><stop offset="1.000" stop-color="#6e006e"/></linearGradient><radialGradient id="gc1" cx="217" cy="632" r="33" gradientUnits="userSpaceOnUse"><stop offset="0" stop-color="#86081a"/><stop offset=".48" stop-color="#8e0a18"/><stop offset=".6" stop-color="#d80c0c"/><stop offset=".68" stop-color="#fb1a0a"/><stop offset=".86" stop-color="#ff3000"/><stop offset="1" stop-color="#ff7a00" stop-opacity="0"/></radialGradient><radialGradient id="gc2" cx="215" cy="640" r="110" gradientUnits="userSpaceOnUse"><stop offset="0" stop-color="#ff8400" stop-opacity=".6"/><stop offset=".5" stop-color="#ff9400" stop-opacity=".3"/><stop offset="1" stop-color="#ffb000" stop-opacity="0"/></radialGradient><radialGradient id="gc3" cx="378" cy="452" r="29" gradientUnits="userSpaceOnUse"><stop offset="0" stop-color="#e8ff00"/><stop offset=".45" stop-color="#b4ff00"/><stop offset=".72" stop-color="#30ff30"/><stop offset=".86" stop-color="#00f0c0"/><stop offset="1" stop-color="#00c0ff" stop-opacity="0"/></radialGradient><linearGradient id="gc4" x1="121" y1="0" x2="136" y2="0" gradientUnits="userSpaceOnUse"><stop offset="0" stop-color="#b0ff00" stop-opacity=".9"/><stop offset="1" stop-color="#d0ff00" stop-opacity="0"/></linearGradient><clipPath id="cc"><rect x="121.0" y="412.0" width="329.6" height="274.8"/></clipPath><filter id="bc" x="-30%" y="-30%" width="160%" height="160%"><feGaussianBlur stdDeviation="2.2"/></filter><pattern id="stk" width="17" height="40" patternUnits="userSpaceOnUse" patternTransform="rotate(-22)"><rect x="0" y="0" width="4" height="26" fill="#ffe000"/><rect x="9" y="18" width="3" height="20" fill="#ff7800"/></pattern><pattern id="stk2" width="19" height="44" patternUnits="userSpaceOnUse" patternTransform="rotate(-22)"><rect x="0" y="0" width="4" height="28" fill="#ffb000"/></pattern><filter id="bc3" x="-50%" y="-50%" width="200%" height="200%"><feGaussianBlur stdDeviation="15"/></filter><filter id="bc2" x="-30%" y="-30%" width="160%" height="160%"><feGaussianBlur stdDeviation="6"/></filter></defs>
<g clip-path="url(#cc)">
<rect x="121.0" y="412.0" width="329.6" height="274.8" fill="url(#gc)"/>
<rect x="121.0" y="412.0" width="329.6" height="274.8" fill="url(#gc2)"/>
<polygon points="128,562 248,556 276,592 338,700 128,700" fill="#ff9800" opacity=".62" filter="url(#bc3)"/>
<polygon points="134,552 262,548 300,600 352,690 300,690 134,690" fill="url(#stk)" opacity=".42" filter="url(#bc)"/>
<polygon points="300,560 450,560 450,690 360,690" fill="url(#stk2)" opacity=".26" filter="url(#bc)"/>
<rect x="121.0" y="543" width="16" height="144" fill="url(#gc4)"/>
<ellipse cx="446" cy="500" rx="9" ry="6" fill="#40ff60" filter="url(#bc)"/>
<ellipse cx="425" cy="520" rx="30" ry="12" fill="#00ffd0" opacity=".45" filter="url(#bc2)"/>
<path d="M186 631 C186 612 200 600 217 600 C234 600 246 612 249 624 L257 632 L248 641 C244 656 232 664 218 664 C200 664 186 650 186 631Z" fill="url(#gc1)"/>
<polygon points="245,623 256.5,632 245,641" fill="#ff3400" filter="url(#bc)"/>
<g transform="translate(379.5 455) scale(1.06) translate(-378 -452)"><g filter="url(#bc)"><path d="M351 452 C351 436 362 426 374 427 C379 435 385 435 390 427 C400 428 406 440 405 452 C405 466 394 477 380 477 C364 478 351 468 351 452Z" fill="url(#gc3)"/><ellipse cx="376" cy="458" rx="8" ry="5" fill="#fff000"/><ellipse cx="391" cy="455" rx="5" ry="4.5" fill="#ffb000"/></g>
<circle cx="391.8" cy="455.4" r="2.6" fill="#f02000" filter="url(#bc)" /></g>
</g>
<rect x="121" y="412" width="169.8" height="131" fill="#899488" stroke="#3c463c" stroke-width="1.2"/>
<circle cx="247.7" cy="433.8" r="10.5" fill="#c99a80" filter="url(#bc)"/>
<path d="M237 438 A11.5 11.5 0 0 1 252 422.6" fill="none" stroke="#3fa08c" stroke-width="2.6" opacity=".9"/>
<circle cx="172.2" cy="515.5" r="5" fill="#a89680" filter="url(#bc)"/>
<path d="M163 524 A11 11 0 0 1 181 508" fill="none" stroke="#3fa08c" stroke-width="2.4" opacity=".9"/>
<path d="M166.5 520 A7 7 0 0 1 177 510" fill="none" stroke="#4aa090" stroke-width="1.6" opacity=".8"/>
<rect x="133.2" y="421" width="58.5" height="2.6" fill="#fff"/>
<text x="135.0" y="445.2" font-size="16" fill="#fff" textLength="56.7" lengthAdjust="spacingAndGlyphs">200 µm</text>
<text x="121.0" y="711.8" font-size="20" text-anchor="middle" textLength="11.7" lengthAdjust="spacingAndGlyphs">0</text>
<text x="169.3" y="711.8" font-size="20" text-anchor="middle" textLength="35.1" lengthAdjust="spacingAndGlyphs">100</text>
<text x="217.6" y="711.8" font-size="20" text-anchor="middle" textLength="35.1" lengthAdjust="spacingAndGlyphs">200</text>
<text x="265.9" y="711.8" font-size="20" text-anchor="middle" textLength="35.1" lengthAdjust="spacingAndGlyphs">300</text>
<text x="314.2" y="711.8" font-size="20" text-anchor="middle" textLength="35.1" lengthAdjust="spacingAndGlyphs">400</text>
<text x="362.4" y="711.8" font-size="20" text-anchor="middle" textLength="35.1" lengthAdjust="spacingAndGlyphs">500</text>
<text x="410.7" y="711.8" font-size="20" text-anchor="middle" textLength="35.1" lengthAdjust="spacingAndGlyphs">600</text>
<text x="112.3" y="692.9" font-size="20" text-anchor="end" textLength="11.7" lengthAdjust="spacingAndGlyphs">0</text>
<text x="112.3" y="644.7" font-size="20" text-anchor="end" textLength="35.1" lengthAdjust="spacingAndGlyphs">100</text>
<text x="112.3" y="596.5" font-size="20" text-anchor="end" textLength="35.1" lengthAdjust="spacingAndGlyphs">200</text>
<text x="112.3" y="548.4" font-size="20" text-anchor="end" textLength="35.1" lengthAdjust="spacingAndGlyphs">300</text>
<text x="112.3" y="500.2" font-size="20" text-anchor="end" textLength="35.1" lengthAdjust="spacingAndGlyphs">400</text>
<text x="112.3" y="452.0" font-size="20" text-anchor="end" textLength="35.1" lengthAdjust="spacingAndGlyphs">500</text>
<path d="M121.0 412.0V686.8H450.6M121.0 686.8v6M145.1 686.8v3M169.3 686.8v6M193.4 686.8v3M217.6 686.8v6M241.7 686.8v3M265.9 686.8v6M290.0 686.8v3M314.2 686.8v6M338.3 686.8v3M362.4 686.8v6M386.6 686.8v3M410.7 686.8v6M434.9 686.8v3M121.0 686.6h-6M121.0 662.5h-3M121.0 638.4h-6M121.0 614.3h-3M121.0 590.2h-6M121.0 566.1h-3M121.0 542.1h-6M121.0 518.0h-3M121.0 493.9h-6M121.0 469.8h-3M121.0 445.7h-6M121.0 421.6h-3" stroke="#222" stroke-width="1.3" fill="none"/>
<text x="294.0" y="743.5" font-size="24" text-anchor="middle" textLength="70.0" lengthAdjust="spacingAndGlyphs">X / µm</text>
<text x="62.8" y="550.0" font-size="24" text-anchor="middle" textLength="62.0" lengthAdjust="spacingAndGlyphs" transform="rotate(-90 62.8 550.0)">Y /µm</text>
<text x="309.0" y="512.0" font-size="25.5" fill="#142814" textLength="120.0" lengthAdjust="spacingAndGlyphs">Graphene</text>
<text x="335.5" y="544.7" font-size="25.5" fill="#142814" textLength="68.5" lengthAdjust="spacingAndGlyphs">on Au</text>
<text x="264.6" y="641.1" font-size="25.5" fill="#1a1408" textLength="142.5" lengthAdjust="spacingAndGlyphs">Exposed Au</text>
<rect x="469.4" y="413" width="26.1" height="275.2" fill="url(#gcb)"/>
<text x="508.8" y="421.7" font-size="20" textLength="40.6" lengthAdjust="spacingAndGlyphs">49.0</text>
<text x="508.8" y="476.3" font-size="20" textLength="40.6" lengthAdjust="spacingAndGlyphs">40.8</text>
<text x="508.8" y="530.9" font-size="20" textLength="40.6" lengthAdjust="spacingAndGlyphs">32.6</text>
<text x="508.8" y="585.5" font-size="20" textLength="40.6" lengthAdjust="spacingAndGlyphs">24.4</text>
<text x="508.8" y="640.1" font-size="20" textLength="40.6" lengthAdjust="spacingAndGlyphs">16.2</text>
<text x="508.8" y="694.7" font-size="20" textLength="29.0" lengthAdjust="spacingAndGlyphs">8.0</text>
<path d="M495.5 414.3h4M495.5 468.9h4M495.5 523.5h4M495.5 578.1h4M495.5 632.7h4M495.5 687.3h4" stroke="#333" stroke-width="1.2" fill="none"/>
<text x="424.9" y="400.0" font-size="20" textLength="113.8" lengthAdjust="spacingAndGlyphs">Current / nA</text>
<text x="37.0" y="426.5" font-size="34">c</text>
</g>
<g>
<defs><linearGradient id="gd" x1="678.5" y1="355.2" x2="619.8" y2="663.7" gradientUnits="userSpaceOnUse"><stop offset="0.000" stop-color="#700069"/><stop offset="0.315" stop-color="#700069"/><stop offset="0.400" stop-color="#7e0096"/><stop offset="0.485" stop-color="#8200d2"/><stop offset="0.587" stop-color="#4800fa"/><stop offset="0.663" stop-color="#191eff"/><stop offset="0.739" stop-color="#0064ff"/><stop offset="0.824" stop-color="#00aaff"/><stop offset="0.892" stop-color="#1ee1ff"/><stop offset="0.952" stop-color="#14ffbe"/><stop offset="1.000" stop-color="#28ff3c"/></linearGradient><linearGradient id="gdb" x1="0" y1="408.9" x2="0" y2="675.8" gradientUnits="userSpaceOnUse"><stop offset="0.000" stop-color="#928086"/><stop offset="0.010" stop-color="#8c767e"/><stop offset="0.013" stop-color="#70000c"/><stop offset="0.114" stop-color="#b60000"/><stop offset="0.216" stop-color="#ff0000"/><stop offset="0.348" stop-color="#ff1e00"/><stop offset="0.389" stop-color="#ff6400"/><stop offset="0.430" stop-color="#ffaa00"/><stop offset="0.490" stop-color="#ffff00"/><stop offset="0.572" stop-color="#aaff00"/><stop offset="0.654" stop-color="#00f000"/><stop offset="0.695" stop-color="#00ff82"/><stop offset="0.725" stop-color="#00e6ff"/><stop offset="0.786" stop-color="#006eff"/><stop offset="0.847" stop-color="#1e00ff"/><stop offset="0.908" stop-color="#8c00dc"/><stop offset="1.000" stop-color="#6e006e"/></linearGradient><clipPath id="cd"><rect x="676.5" y="408.3" width="279.5" height="266.5"/></clipPath><filter id="bd" x="-30%" y="-30%" width="160%" height="160%"><feGaussianBlur stdDeviation="3"/></filter><filter id="bd1" x="-30%" y="-30%" width="160%" height="160%"><feGaussianBlur stdDeviation="1.8"/></filter><filter id="bd2" x="-100%" y="-100%" width="300%" height="300%"><feGaussianBlur stdDeviation="9"/></filter></defs>
<g clip-path="url(#cd)">
<rect x="676.5" y="408.3" width="279.5" height="266.5" fill="url(#gd)"/>
<g filter="url(#bd2)">
<ellipse cx="840.7" cy="602.7" rx="40" ry="22" fill="#5008f0" opacity="0.9"/>
<ellipse cx="855.3" cy="618.7" rx="14" ry="22" fill="#4008f0" opacity="0.9"/>
<ellipse cx="939.3" cy="606.7" rx="22" ry="14" fill="#30b4ff" opacity="0.95"/>
<ellipse cx="910.0" cy="586.7" rx="20" ry="10" fill="#3020f8" opacity="0.7"/>
<ellipse cx="888.7" cy="660.0" rx="30" ry="12" fill="#0090ff" opacity="0.7"/>
<ellipse cx="798.0" cy="641.3" rx="14" ry="14" fill="#50f0ff" opacity="0.85"/>
<ellipse cx="864.7" cy="640.0" rx="10" ry="10" fill="#40e0ff" opacity="0.7"/>
<ellipse cx="704.7" cy="666.7" rx="40" ry="16" fill="#40ff40" opacity="0.95"/>
<ellipse cx="710.0" cy="602.7" rx="30" ry="12" fill="#1080ff" opacity="0.6"/>
<ellipse cx="931.3" cy="669.3" rx="30" ry="10" fill="#30e0ff" opacity="0.7"/>
</g>
<g filter="url(#bd)">
<circle cx="824.1" cy="504" r="61" fill="#5a10f0"/>
<circle cx="824.1" cy="504" r="56" fill="#0050ff"/>
<polygon points="777.4,488.2 787.9,469.9 808.9,458.0 822.0,464.6 840.4,454.1 861.4,460.7 875.9,480.4 882.4,504.0 875.9,527.6 856.2,546.0 824.7,555.2 795.8,544.7 777.4,525.0 770.8,506.6" fill="#00d8ff"/>
</g>
<g filter="url(#bd1)">
<polygon points="781.9,479.2 802.6,474.5 821.9,476.4 844.0,460.4 863.9,467.6 877.7,490.2 881.8,509.5 872.2,529.4 852.8,540.4 830.2,548.7 808.1,543.2 788.8,532.2 775.8,506.8" fill="#20f040"/>
</g><g filter="url(#bd)">
<polygon points="792.0,491.5 819.1,488.7 838.6,477.7 855.2,474.0 872.4,488.7 877.4,506.8 867.7,524.8 844.1,535.9 824.7,542.3 801.9,533.1 785.9,515.1" fill="#d8ff00"/>
<polygon points="801.1,501.2 821.9,502.6 835.8,491.5 852.4,482.4 869.6,492.4 873.8,506.8 864.1,521.2 841.3,528.4 821.9,533.1 804.2,521.2" fill="#ffb400"/>
</g><g filter="url(#bd1)">
<circle cx="854.0" cy="502.7" r="16.2" fill="#fb0a00"/>
<ellipse cx="818.5" cy="516.3" rx="15.5" ry="8.5" fill="#fb1400" transform="rotate(30 818.5 516.3)"/>
<circle cx="855.3" cy="504.0" r="4.5" fill="#b40000"/>
</g>
<ellipse cx="824.1" cy="503.6" rx="59" ry="57.8" fill="none" stroke="#111" stroke-width="2.3" stroke-dasharray="2.3 3.3"/>
</g>
<text x="758.0" y="660.0" font-size="24" fill="#0a1430" textLength="148.0" lengthAdjust="spacingAndGlyphs">Graphene/Au</text>
<text x="676.5" y="699.7" font-size="19" text-anchor="middle" textLength="10.6" lengthAdjust="spacingAndGlyphs">0</text>
<text x="666.5" y="681.0" font-size="19" text-anchor="end" textLength="10.6" lengthAdjust="spacingAndGlyphs">0</text>
<text x="732.4" y="699.7" font-size="19" text-anchor="middle" textLength="21.2" lengthAdjust="spacingAndGlyphs">50</text>
<text x="666.5" y="627.7" font-size="19" text-anchor="end" textLength="21.2" lengthAdjust="spacingAndGlyphs">50</text>
<text x="788.3" y="699.7" font-size="19" text-anchor="middle" textLength="31.8" lengthAdjust="spacingAndGlyphs">100</text>
<text x="666.5" y="574.4" font-size="19" text-anchor="end" textLength="31.8" lengthAdjust="spacingAndGlyphs">100</text>
<text x="844.2" y="699.7" font-size="19" text-anchor="middle" textLength="31.8" lengthAdjust="spacingAndGlyphs">150</text>
<text x="666.5" y="521.1" font-size="19" text-anchor="end" textLength="31.8" lengthAdjust="spacingAndGlyphs">150</text>
<text x="900.1" y="699.7" font-size="19" text-anchor="middle" textLength="31.8" lengthAdjust="spacingAndGlyphs">200</text>
<text x="666.5" y="467.8" font-size="19" text-anchor="end" textLength="31.8" lengthAdjust="spacingAndGlyphs">200</text>
<text x="956.0" y="699.7" font-size="19" text-anchor="middle" textLength="31.8" lengthAdjust="spacingAndGlyphs">250</text>
<text x="666.5" y="414.5" font-size="19" text-anchor="end" textLength="31.8" lengthAdjust="spacingAndGlyphs">250</text>
<path d="M676.5 408.3V674.8H956.0M676.5 674.8v6M676.5 674.8h-6M704.5 674.8v3M676.5 648.2h-3M732.4 674.8v6M676.5 621.5h-6M760.4 674.8v3M676.5 594.9h-3M788.3 674.8v6M676.5 568.2h-6M816.2 674.8v3M676.5 541.5h-3M844.2 674.8v6M676.5 514.9h-6M872.1 674.8v3M676.5 488.2h-3M900.1 674.8v6M676.5 461.6h-6M928.0 674.8v3M676.5 434.9h-3M956.0 674.8v6M676.5 408.3h-6" stroke="#222" stroke-width="1.3" fill="none"/>
<text x="822.4" y="727.1" font-size="21" text-anchor="middle" textLength="61.5" lengthAdjust="spacingAndGlyphs">X / µm</text>
<text x="621.4" y="542.0" font-size="21" text-anchor="middle" textLength="61.7" lengthAdjust="spacingAndGlyphs" transform="rotate(-90 621.4 542.0)">Y / µm</text>
<rect x="972.4" y="408.9" width="21.9" height="266.9" fill="url(#gdb)"/>
<text x="1005.4" y="418.3" font-size="17.5" textLength="60.9" lengthAdjust="spacingAndGlyphs">4.0E-05</text>
<text x="1005.4" y="470.6" font-size="17.5" textLength="60.9" lengthAdjust="spacingAndGlyphs">3.2E-05</text>
<text x="1005.4" y="522.9" font-size="17.5" textLength="60.9" lengthAdjust="spacingAndGlyphs">2.4E-05</text>
<text x="1005.4" y="575.2" font-size="17.5" textLength="60.9" lengthAdjust="spacingAndGlyphs">1.7E-05</text>
<text x="1005.4" y="627.5" font-size="17.5" textLength="60.9" lengthAdjust="spacingAndGlyphs">8.8E-06</text>
<text x="1005.4" y="679.8" font-size="17.5" textLength="60.9" lengthAdjust="spacingAndGlyphs">1.0E-06</text>
<path d="M994.3 412.4h4M994.3 464.7h4M994.3 517.0h4M994.3 569.3h4M994.3 621.6h4M994.3 673.9h4" stroke="#333" stroke-width="1.2" fill="none"/>
<text x="951" y="399.2" font-size="20"><tspan font-style="italic">k</tspan> / ms<tspan font-size="11" dy="-9">-1</tspan></text>
<text x="591.0" y="426.8" font-size="34">d</text>
</g>
<g>
<defs><linearGradient id="geb" x1="0" y1="807.2" x2="0" y2="934.2" gradientUnits="userSpaceOnUse"><stop offset="0.000" stop-color="#960f19"/><stop offset="0.070" stop-color="#e1231e"/><stop offset="0.175" stop-color="#f03c1e"/><stop offset="0.254" stop-color="#fa8c1e"/><stop offset="0.360" stop-color="#f5e632"/><stop offset="0.440" stop-color="#aad25a"/><stop offset="0.543" stop-color="#5abe96"/><stop offset="0.636" stop-color="#46bec8"/><stop offset="0.700" stop-color="#1ea0e6"/><stop offset="0.780" stop-color="#1e5ac8"/><stop offset="0.885" stop-color="#2346aa"/><stop offset="1.000" stop-color="#283296"/></linearGradient><pattern id="hex" width="14" height="12.8" patternUnits="userSpaceOnUse" x="3" y="971"><path d="M0 3.6L7 6.4L14 3.6M0 12.8L7 10L14 12.8" stroke="#a8a8a8" stroke-width=".8" fill="none" stroke-dasharray="2.4 1.2"/><path d="M0 .2V3.4M14 .2V3.4M7 6.6V9.8" stroke="#505050" stroke-width="1.5" fill="none"/><path d="M-1.7 .4H1.7M-1.7 3.2H1.7M12.3 .4H15.7M12.3 3.2H15.7M5.3 6.8H8.7M5.3 9.6H8.7" stroke="#606060" stroke-width=".9" fill="none"/></pattern><pattern id="hex3" width="14" height="12.8" patternUnits="userSpaceOnUse" x="3" y="971"><path d="M0 3.6L7 6.4L14 3.6M0 12.8L7 10L14 12.8" stroke="#7c6850" stroke-width="1.3" fill="none" opacity=".75"/><path d="M0 .2V3.4M14 .2V3.4M7 6.6V9.8" stroke="#4a4038" stroke-width="1.7" fill="none"/></pattern><pattern id="hex2" width="13.3" height="11.2" patternUnits="userSpaceOnUse" x="6" y="946.5"><path d="M0 3.2L6.65 5.6L13.3 3.2M0 11.2L6.65 8.8L13.3 11.2" stroke="#a8a8a8" stroke-width=".8" fill="none" stroke-dasharray="2.4 1.2"/><path d="M0 .2V3M13.3 .2V3M6.65 5.8V8.6" stroke="#505050" stroke-width="1.5" fill="none"/><path d="M-1.6 .4H1.6M-1.6 2.8H1.6M11.7 .4H14.9M11.7 2.8H14.9M5.05 6H8.25M5.05 8.4H8.25" stroke="#606060" stroke-width=".9" fill="none"/></pattern></defs>
<g shape-rendering="crispEdges">
<path fill="#2348ad" d="M128.6 808.0H133.0V811.3H128.6ZM145.2 808.0H149.6V811.3H145.2ZM165.4 811.1H169.7V814.5H165.4ZM173.7 811.1H178.1V814.5H173.7ZM152.2 814.3H156.6V817.6H152.2ZM156.4 814.3H160.8V817.6H156.4ZM173.2 814.3H177.6V817.6H173.2ZM155.8 817.4H160.2V820.7H155.8ZM189.4 817.4H193.8V820.7H189.4ZM193.6 817.4H198.0V820.7H193.6ZM125.7 820.5H130.1V823.9H125.7ZM129.9 820.5H134.3V823.9H129.9ZM138.3 820.5H142.7V823.9H138.3ZM142.5 820.5H147.0V823.9H142.5ZM146.8 820.5H151.2V823.9H146.8ZM176.3 820.5H180.7V823.9H176.3ZM141.9 823.6H146.3V827.0H141.9ZM146.1 823.6H150.5V827.0H146.1ZM150.3 823.6H154.8V827.0H150.3ZM175.8 823.6H180.2V827.0H175.8ZM162.5 826.8H166.9V830.1H162.5ZM166.7 826.8H171.2V830.1H166.7ZM171.0 826.8H175.5V830.1H171.0ZM123.4 829.9H127.9V833.2H123.4ZM144.8 829.9H149.3V833.2H144.8ZM187.6 829.9H192.0V833.2H187.6ZM135.6 833.0H140.1V836.4H135.6ZM144.2 833.0H148.7V836.4H144.2ZM148.5 833.0H152.9V836.4H148.5ZM152.1 836.2H156.6V839.5H152.1ZM156.4 836.2H161.0V839.5H156.4ZM160.8 836.2H165.3V839.5H160.8ZM165.1 836.2H169.6V839.5H165.1ZM173.7 836.2H178.2V839.5H173.7ZM178.0 836.2H182.5V839.5H178.0ZM182.3 836.2H186.8V839.5H182.3ZM121.2 839.3H125.7V842.6H121.2ZM125.5 839.3H130.1V842.6H125.5ZM129.9 839.3H134.4V842.6H129.9ZM134.2 839.3H138.7V842.6H134.2ZM138.5 839.3H143.1V842.6H138.5ZM120.5 842.4H125.0V845.8H120.5ZM172.6 842.4H177.2V845.8H172.6ZM177.0 842.4H181.5V845.8H177.0ZM171.6 848.7H176.2V852.0H171.6ZM122.6 851.8H127.2V855.2H122.6ZM149.1 851.8H153.7V855.2H149.1ZM153.5 851.8H158.1V855.2H153.5ZM157.9 851.8H162.5V855.2H157.9ZM117.5 855.0H122.1V858.3H117.5ZM121.9 855.0H126.5V858.3H121.9ZM126.3 855.0H131.0V858.3H126.3ZM130.8 855.0H135.4V858.3H130.8ZM135.2 855.0H139.8V858.3H135.2ZM139.6 855.0H144.2V858.3H139.6ZM152.9 855.0H157.5V858.3H152.9ZM157.3 855.0H161.9V858.3H157.3ZM161.7 855.0H166.3V858.3H161.7ZM134.5 858.1H139.1V861.4H134.5ZM138.9 858.1H143.6V861.4H138.9ZM143.4 858.1H148.0V861.4H143.4ZM152.3 858.1H156.9V861.4H152.3ZM156.7 858.1H161.3V861.4H156.7ZM161.1 858.1H165.8V861.4H161.1ZM165.6 858.1H170.2V861.4H165.6ZM170.0 858.1H174.7V861.4H170.0ZM174.5 858.1H179.1V861.4H174.5ZM138.3 861.2H143.0V864.5H138.3ZM128.7 864.3H133.4V867.7H128.7ZM142.1 864.3H146.8V867.7H142.1ZM146.6 864.3H151.3V867.7H146.6ZM151.1 864.3H155.8V867.7H151.1ZM137.0 867.5H141.7V870.8H137.0ZM141.5 867.5H146.2V870.8H141.5ZM155.0 867.5H159.7V870.8H155.0ZM159.5 867.5H164.2V870.8H159.5ZM118.3 870.6H123.0V873.9H118.3ZM122.8 870.6H127.5V873.9H122.8ZM140.9 870.6H145.6V873.9H140.9ZM145.4 870.6H150.1V873.9H145.4ZM154.4 870.6H159.1V873.9H154.4ZM140.2 873.7H145.0V877.1H140.2ZM144.8 873.7H149.5V877.1H144.8ZM110.1 886.2H114.9V889.6H110.1Z"/>
<path fill="#2150b9" d="M132.8 808.0H137.1V811.3H132.8ZM148.7 811.1H153.1V814.5H148.7ZM152.9 811.1H157.2V814.5H152.9ZM194.5 811.1H198.9V814.5H194.5ZM177.4 814.3H181.7V817.6H177.4ZM181.5 814.3H185.9V817.6H181.5ZM139.0 817.4H143.4V820.7H139.0ZM147.4 817.4H151.8V820.7H147.4ZM184.7 820.5H189.2V823.9H184.7ZM189.0 820.5H193.4V823.9H189.0ZM136.3 829.9H140.7V833.2H136.3ZM149.1 829.9H153.6V833.2H149.1ZM170.5 829.9H174.9V833.2H170.5ZM179.0 829.9H183.5V833.2H179.0ZM161.3 833.0H165.8V836.4H161.3ZM169.9 833.0H174.4V836.4H169.9ZM174.2 833.0H178.7V836.4H174.2ZM126.3 836.2H130.8V839.5H126.3ZM169.4 836.2H173.9V839.5H169.4ZM137.9 842.4H142.4V845.8H137.9ZM142.2 842.4H146.8V845.8H142.2ZM159.6 842.4H164.1V845.8H159.6ZM119.7 845.6H124.3V848.9H119.7ZM137.2 845.6H141.8V848.9H137.2ZM141.6 845.6H146.1V848.9H141.6ZM145.9 845.6H150.5V848.9H145.9ZM150.3 845.6H154.9V848.9H150.3ZM159.0 845.6H163.6V848.9H159.0ZM163.4 845.6H168.0V848.9H163.4ZM167.8 845.6H172.3V848.9H167.8ZM176.5 845.6H181.1V848.9H176.5ZM135.8 851.8H140.5V855.2H135.8ZM140.3 851.8H144.9V855.2H140.3ZM166.7 851.8H171.3V855.2H166.7ZM116.0 861.2H120.7V864.5H116.0ZM115.3 864.3H119.9V867.7H115.3ZM133.2 864.3H137.8V867.7H133.2ZM164.5 864.3H169.2V867.7H164.5ZM128.0 867.5H132.7V870.8H128.0ZM116.8 876.9H121.6V880.2H116.8ZM120.7 880.0H125.5V883.3H120.7ZM227.6 911.3H232.6V914.6H227.6ZM323.2 930.1H328.3V933.4H323.2Z"/>
<path fill="#33b0d6" d="M136.9 808.0H141.3V811.3H136.9ZM154.7 845.6H159.2V848.9H154.7ZM172.1 845.6H176.7V848.9H172.1ZM154.1 848.7H158.6V852.0H154.1ZM146.0 867.5H150.7V870.8H146.0ZM113.8 870.6H118.5V873.9H113.8ZM125.3 880.0H130.0V883.3H125.3ZM119.3 886.2H124.1V889.6H119.3ZM145.7 892.5H150.5V895.8H145.7ZM150.3 892.5H155.2V895.8H150.3ZM155.0 892.5H159.8V895.8H155.0ZM340.6 892.5H345.5V895.8H340.6ZM345.3 892.5H350.1V895.8H345.3ZM140.5 895.6H145.3V899.0H140.5ZM145.1 895.6H150.0V899.0H145.1ZM149.8 895.6H154.6V899.0H149.8ZM154.4 895.6H159.3V899.0H154.4ZM159.1 895.6H163.9V899.0H159.1ZM331.7 901.9H336.6V905.2H331.7ZM242.3 905.0H247.2V908.4H242.3ZM247.0 905.0H251.9V908.4H247.0ZM104.1 911.3H109.1V914.6H104.1ZM127.9 911.3H132.8V914.6H127.9ZM294.1 911.3H299.1V914.6H294.1ZM298.9 911.3H303.8V914.6H298.9ZM298.9 914.4H303.9V917.8H298.9ZM308.4 914.4H313.4V917.8H308.4ZM313.2 914.4H318.2V917.8H313.2ZM318.0 914.4H322.9V917.8H318.0ZM255.8 917.6H260.8V920.9H255.8ZM260.6 917.6H265.6V920.9H260.6ZM265.4 917.6H270.4V920.9H265.4ZM270.2 917.6H275.2V920.9H270.2ZM275.0 917.6H280.0V920.9H275.0ZM298.9 917.6H303.9V920.9H298.9ZM303.7 917.6H308.7V920.9H303.7ZM135.5 920.7H140.5V924.0H135.5ZM303.7 920.7H308.7V924.0H303.7ZM106.0 923.8H111.0V927.1H106.0ZM241.0 923.8H246.1V927.1H241.0ZM245.9 923.8H250.9V927.1H245.9ZM337.5 923.8H342.5V927.1H337.5ZM342.3 923.8H347.4V927.1H342.3ZM342.5 926.9H347.5V930.3H342.5Z"/>
<path fill="#2440a4" d="M141.1 808.0H145.4V811.3H141.1ZM149.4 808.0H153.7V811.3H149.4ZM153.5 808.0H157.9V811.3H153.5ZM157.7 808.0H162.0V811.3H157.7ZM161.8 808.0H166.2V811.3H161.8ZM166.0 808.0H170.3V811.3H166.0ZM170.1 808.0H174.5V811.3H170.1ZM127.9 811.1H132.3V814.5H127.9ZM177.9 811.1H182.2V814.5H177.9ZM182.0 811.1H186.4V814.5H182.0ZM186.2 811.1H190.6V814.5H186.2ZM190.4 811.1H194.7V814.5H190.4ZM127.1 814.3H131.5V817.6H127.1ZM131.3 814.3H135.7V817.6H131.3ZM135.5 814.3H139.9V817.6H135.5ZM139.7 814.3H144.1V817.6H139.7ZM160.6 814.3H165.0V817.6H160.6ZM164.8 814.3H169.2V817.6H164.8ZM169.0 814.3H173.4V817.6H169.0ZM172.6 817.4H177.0V820.7H172.6ZM181.0 817.4H185.4V820.7H181.0ZM185.2 817.4H189.6V820.7H185.2ZM134.1 820.5H138.5V823.9H134.1ZM151.0 820.5H155.4V823.9H151.0ZM155.2 820.5H159.6V823.9H155.2ZM159.4 820.5H163.8V823.9H159.4ZM180.5 820.5H184.9V823.9H180.5ZM154.6 823.6H159.0V827.0H154.6ZM158.8 823.6H163.3V827.0H158.8ZM184.3 823.6H188.7V827.0H184.3ZM124.2 826.8H128.6V830.1H124.2ZM179.5 826.8H184.0V830.1H179.5ZM183.8 826.8H188.2V830.1H183.8ZM188.0 826.8H192.5V830.1H188.0ZM157.0 833.0H161.5V836.4H157.0ZM143.5 836.2H148.0V839.5H143.5ZM151.5 839.3H156.0V842.6H151.5ZM160.2 839.3H164.7V842.6H160.2ZM173.2 839.3H177.7V842.6H173.2ZM124.8 842.4H129.4V845.8H124.8ZM129.2 842.4H133.7V845.8H129.2ZM133.5 842.4H138.1V845.8H133.5ZM163.9 842.4H168.5V845.8H163.9ZM181.3 842.4H185.9V845.8H181.3ZM180.9 845.6H185.4V848.9H180.9ZM136.5 848.7H141.1V852.0H136.5ZM140.9 848.7H145.5V852.0H140.9ZM176.0 848.7H180.6V852.0H176.0ZM180.4 848.7H185.0V852.0H180.4ZM118.2 851.8H122.8V855.2H118.2ZM131.4 851.8H136.0V855.2H131.4ZM144.7 851.8H149.3V855.2H144.7ZM175.5 851.8H180.1V855.2H175.5ZM144.0 855.0H148.6V858.3H144.0ZM148.4 855.0H153.1V858.3H148.4ZM166.1 855.0H170.8V858.3H166.1ZM170.6 855.0H175.2V858.3H170.6ZM175.0 855.0H179.6V858.3H175.0ZM130.1 858.1H134.7V861.4H130.1ZM142.8 861.2H147.4V864.5H142.8ZM147.2 861.2H151.9V864.5H147.2ZM151.7 861.2H156.3V864.5H151.7ZM156.1 861.2H160.8V864.5H156.1ZM165.0 861.2H169.7V864.5H165.0ZM169.5 861.2H174.2V864.5H169.5ZM119.0 867.5H123.7V870.8H119.0ZM123.5 867.5H128.2V870.8H123.5ZM149.9 870.6H154.6V873.9H149.9ZM113.0 873.7H117.8V877.1H113.0ZM122.1 873.7H126.8V877.1H122.1ZM126.6 873.7H131.4V877.1H126.6ZM135.7 873.7H140.4V877.1H135.7ZM135.0 876.9H139.8V880.2H135.0ZM144.1 876.9H148.9V880.2H144.1ZM129.8 880.0H134.6V883.3H129.8ZM134.4 880.0H139.2V883.3H134.4ZM139.0 880.0H143.7V883.3H139.0ZM120.0 883.1H124.8V886.5H120.0Z"/>
<path fill="#283296" d="M174.3 808.0H178.6V811.3H174.3ZM178.4 808.0H182.7V811.3H178.4ZM182.5 808.0H186.9V811.3H182.5ZM186.7 808.0H191.0V811.3H186.7ZM190.8 808.0H195.2V811.3H190.8ZM195.0 808.0H199.3V811.3H195.0ZM199.1 808.0H203.5V811.3H199.1ZM132.1 811.1H136.4V814.5H132.1ZM136.2 811.1H140.6V814.5H136.2ZM140.4 811.1H144.7V814.5H140.4ZM144.5 811.1H148.9V814.5H144.5ZM130.6 817.4H135.0V820.7H130.6ZM164.2 817.4H168.6V820.7H164.2ZM168.4 817.4H172.8V820.7H168.4ZM122.7 833.0H127.2V836.4H122.7ZM127.0 833.0H131.5V836.4H127.0ZM182.8 833.0H187.3V836.4H182.8ZM187.1 833.0H191.6V836.4H187.1ZM117.6 873.7H122.3V877.1H117.6Z"/>
<path fill="#7bc67d" d="M203.3 808.0H207.6V811.3H203.3ZM211.6 808.0H215.9V811.3H211.6ZM224.0 808.0H228.4V811.3H224.0ZM232.3 808.0H236.7V811.3H232.3ZM236.5 808.0H240.8V811.3H236.5ZM240.6 808.0H245.0V811.3H240.6ZM244.8 808.0H249.1V811.3H244.8ZM248.9 808.0H253.3V811.3H248.9ZM294.5 808.0H298.9V811.3H294.5ZM298.7 808.0H303.0V811.3H298.7ZM302.8 808.0H307.2V811.3H302.8ZM315.3 808.0H319.6V811.3H315.3ZM319.4 808.0H323.8V811.3H319.4ZM323.6 808.0H327.9V811.3H323.6ZM327.7 808.0H332.1V811.3H327.7ZM340.2 808.0H344.5V811.3H340.2ZM202.9 811.1H207.2V814.5H202.9ZM207.0 811.1H211.4V814.5H207.0ZM244.5 811.1H248.9V814.5H244.5ZM248.7 811.1H253.1V814.5H248.7ZM269.5 811.1H273.9V814.5H269.5ZM286.2 811.1H290.6V814.5H286.2ZM290.4 811.1H294.7V814.5H290.4ZM294.5 811.1H298.9V814.5H294.5ZM298.7 811.1H303.1V814.5H298.7ZM302.9 811.1H307.2V814.5H302.9ZM307.0 811.1H311.4V814.5H307.0ZM336.2 811.1H340.5V814.5H336.2ZM340.3 811.1H344.7V814.5H340.3ZM198.3 814.3H202.7V817.6H198.3ZM202.5 814.3H206.8V817.6H202.5ZM206.6 814.3H211.0V817.6H206.6ZM210.8 814.3H215.2V817.6H210.8ZM215.0 814.3H219.4V817.6H215.0ZM277.8 814.3H282.2V817.6H277.8ZM298.7 814.3H303.1V817.6H298.7ZM332.3 817.4H336.7V820.7H332.3ZM340.7 817.4H345.1V820.7H340.7ZM193.2 820.5H197.6V823.9H193.2ZM197.4 820.5H201.8V823.9H197.4ZM315.6 820.5H320.0V823.9H315.6ZM319.8 820.5H324.2V823.9H319.8ZM192.7 823.6H197.2V827.0H192.7ZM196.1 829.9H200.6V833.2H196.1ZM341.5 829.9H346.0V833.2H341.5ZM191.4 833.0H195.9V836.4H191.4ZM320.2 833.0H324.7V836.4H320.2ZM324.5 833.0H329.0V836.4H324.5ZM328.8 833.0H333.3V836.4H328.8ZM186.2 839.3H190.7V842.6H186.2ZM334.0 851.8H338.6V855.2H334.0ZM119.7 864.3H124.4V867.7H119.7ZM169.0 864.3H173.7V867.7H169.0ZM164.0 867.5H168.7V870.8H164.0ZM168.5 867.5H173.2V870.8H168.5ZM153.8 873.7H158.5V877.1H153.8ZM116.1 880.0H120.9V883.3H116.1ZM143.5 880.0H148.3V883.3H143.5ZM146.3 889.4H151.1V892.7H146.3ZM150.9 889.4H155.7V892.7H150.9ZM340.5 889.4H345.3V892.7H340.5ZM345.1 889.4H349.9V892.7H345.1ZM117.9 892.5H122.7V895.8H117.9ZM122.5 892.5H127.3V895.8H122.5ZM141.1 892.5H145.9V895.8H141.1ZM163.7 895.6H168.6V899.0H163.7ZM144.5 898.8H149.4V902.1H144.5ZM149.2 898.8H154.1V902.1H149.2ZM153.9 898.8H158.7V902.1H153.9ZM158.5 898.8H163.4V902.1H158.5ZM167.9 898.8H172.8V902.1H167.9ZM322.3 898.8H327.1V902.1H322.3ZM345.6 898.8H350.5V902.1H345.6ZM105.6 905.0H110.5V908.4H105.6ZM115.0 905.0H120.0V908.4H115.0ZM124.5 905.0H129.4V908.4H124.5ZM129.2 905.0H134.1V908.4H129.2ZM133.9 905.0H138.8V908.4H133.9ZM148.0 905.0H153.0V908.4H148.0ZM346.0 905.0H350.9V908.4H346.0ZM133.3 908.2H138.2V911.5H133.3ZM156.9 908.2H161.9V911.5H156.9ZM113.6 911.3H118.6V914.6H113.6ZM146.3 914.4H151.3V917.8H146.3ZM322.7 914.4H327.7V917.8H322.7ZM112.2 917.6H117.2V920.9H112.2ZM117.0 917.6H122.0V920.9H117.0ZM121.8 917.6H126.8V920.9H121.8ZM188.8 917.6H193.8V920.9H188.8ZM217.5 917.6H222.5V920.9H217.5ZM313.3 917.6H318.3V920.9H313.3ZM140.3 920.7H145.3V924.0H140.3ZM217.2 920.7H222.2V924.0H217.2ZM250.9 920.7H255.9V924.0H250.9ZM255.7 920.7H260.7V924.0H255.7ZM265.3 920.7H270.3V924.0H265.3ZM270.1 920.7H275.1V924.0H270.1ZM274.9 920.7H279.9V924.0H274.9ZM298.9 920.7H303.9V924.0H298.9ZM120.5 923.8H125.5V927.1H120.5ZM149.4 923.8H154.4V927.1H149.4ZM332.7 923.8H337.7V927.1H332.7ZM100.4 926.9H105.5V930.3H100.4ZM134.3 926.9H139.3V930.3H134.3ZM139.1 926.9H144.2V930.3H139.1ZM173.0 926.9H178.1V930.3H173.0ZM197.3 926.9H202.3V930.3H197.3ZM240.8 926.9H245.9V930.3H240.8ZM289.2 926.9H294.3V930.3H289.2ZM308.6 926.9H313.7V930.3H308.6ZM187.2 930.1H192.2V933.4H187.2ZM264.9 930.1H270.0V933.4H264.9ZM269.8 930.1H274.8V933.4H269.8ZM274.6 930.1H279.7V933.4H274.6ZM279.5 930.1H284.6V933.4H279.5ZM289.2 930.1H294.3V933.4H289.2ZM318.4 930.1H323.4V933.4H318.4Z"/>
<path fill="#9cce65" d="M207.4 808.0H211.8V811.3H207.4ZM269.6 808.0H274.0V811.3H269.6ZM282.1 808.0H286.4V811.3H282.1ZM286.2 808.0H290.6V811.3H286.2ZM307.0 808.0H311.3V811.3H307.0ZM311.1 808.0H315.5V811.3H311.1ZM211.2 811.1H215.6V814.5H211.2ZM215.4 811.1H219.7V814.5H215.4ZM252.9 811.1H257.2V814.5H252.9ZM257.0 811.1H261.4V814.5H257.0ZM273.7 811.1H278.1V814.5H273.7ZM277.9 811.1H282.2V814.5H277.9ZM282.0 811.1H286.4V814.5H282.0ZM311.2 811.1H315.6V814.5H311.2ZM315.4 811.1H319.7V814.5H315.4ZM323.7 811.1H328.0V814.5H323.7ZM327.8 811.1H332.2V814.5H327.8ZM294.5 814.3H298.9V817.6H294.5ZM328.0 814.3H332.4V817.6H328.0ZM197.8 817.4H202.2V820.7H197.8ZM231.5 817.4H235.9V820.7H231.5ZM235.7 817.4H240.1V820.7H235.7ZM239.9 817.4H244.3V820.7H239.9ZM244.1 817.4H248.5V820.7H244.1ZM248.3 817.4H252.7V820.7H248.3ZM281.8 820.5H286.2V823.9H281.8ZM307.1 820.5H311.6V823.9H307.1ZM311.4 820.5H315.8V823.9H311.4ZM201.2 823.6H205.7V827.0H201.2ZM269.0 823.6H273.5V827.0H269.0ZM286.0 823.6H290.4V827.0H286.0ZM324.1 823.6H328.6V827.0H324.1ZM328.4 823.6H332.8V827.0H328.4ZM341.1 823.6H345.5V827.0H341.1ZM192.3 826.8H196.7V830.1H192.3ZM324.3 826.8H328.7V830.1H324.3ZM328.5 826.8H333.0V830.1H328.5ZM332.8 826.8H337.2V830.1H332.8ZM337.0 826.8H341.5V830.1H337.0ZM341.3 826.8H345.7V830.1H341.3ZM195.7 833.0H200.2V836.4H195.7ZM337.4 833.0H341.9V836.4H337.4ZM186.6 836.2H191.1V839.5H186.6ZM190.5 839.3H195.0V842.6H190.5ZM185.7 842.4H190.2V845.8H185.7ZM184.3 851.8H188.9V855.2H184.3ZM325.2 851.8H329.8V855.2H325.2ZM329.6 851.8H334.2V855.2H329.6ZM342.8 851.8H347.4V855.2H342.8ZM178.9 858.1H183.5V861.4H178.9ZM174.0 861.2H178.6V864.5H174.0ZM334.5 861.2H339.1V864.5H334.5ZM177.9 864.3H182.6V867.7H177.9ZM173.0 867.5H177.6V870.8H173.0ZM158.3 873.7H163.1V877.1H158.3ZM148.1 880.0H152.9V883.3H148.1ZM142.9 883.1H147.7V886.5H142.9ZM335.7 886.2H340.5V889.6H335.7ZM132.4 889.4H137.3V892.7H132.4ZM137.1 889.4H141.9V892.7H137.1ZM160.2 889.4H165.0V892.7H160.2ZM331.2 889.4H336.0V892.7H331.2ZM335.8 889.4H340.7V892.7H335.8ZM113.2 892.5H118.1V895.8H113.2ZM312.9 898.8H317.8V902.1H312.9ZM153.3 901.9H158.2V905.2H153.3ZM158.0 901.9H162.9V905.2H158.0ZM172.1 901.9H177.0V905.2H172.1ZM266.0 901.9H270.9V905.2H266.0ZM303.6 901.9H308.5V905.2H303.6ZM345.8 901.9H350.7V905.2H345.8ZM166.9 905.0H171.8V908.4H166.9ZM171.6 905.0H176.5V908.4H171.6ZM142.7 908.2H147.7V911.5H142.7ZM171.1 908.2H176.1V911.5H171.1ZM289.4 908.2H294.4V911.5H289.4ZM332.0 908.2H336.9V911.5H332.0ZM108.9 911.3H113.8V914.6H108.9ZM222.9 911.3H227.8V914.6H222.9ZM103.4 914.4H108.4V917.8H103.4ZM140.9 917.6H145.9V920.9H140.9ZM279.8 917.6H284.7V920.9H279.8ZM284.5 917.6H289.5V920.9H284.5ZM198.0 920.7H203.0V924.0H198.0ZM202.8 920.7H207.8V924.0H202.8ZM148.8 926.9H153.9V930.3H148.8ZM303.8 926.9H308.8V930.3H303.8ZM298.9 930.1H304.0V933.4H298.9ZM308.7 930.1H313.7V933.4H308.7ZM328.1 930.1H333.2V933.4H328.1Z"/>
<path fill="#c0d84e" d="M215.7 808.0H220.1V811.3H215.7ZM219.9 808.0H224.2V811.3H219.9ZM228.2 808.0H232.5V811.3H228.2ZM253.1 808.0H257.4V811.3H253.1ZM257.2 808.0H261.6V811.3H257.2ZM261.4 808.0H265.7V811.3H261.4ZM265.5 808.0H269.8V811.3H265.5ZM273.8 808.0H278.1V811.3H273.8ZM277.9 808.0H282.3V811.3H277.9ZM290.4 808.0H294.7V811.3H290.4ZM219.5 811.1H223.9V814.5H219.5ZM223.7 811.1H228.1V814.5H223.7ZM227.9 811.1H232.2V814.5H227.9ZM232.0 811.1H236.4V814.5H232.0ZM236.2 811.1H240.6V814.5H236.2ZM240.4 811.1H244.7V814.5H240.4ZM261.2 811.1H265.6V814.5H261.2ZM265.4 811.1H269.7V814.5H265.4ZM319.5 811.1H323.9V814.5H319.5ZM244.3 814.3H248.7V817.6H244.3ZM248.5 814.3H252.9V817.6H248.5ZM252.7 814.3H257.1V817.6H252.7ZM261.0 814.3H265.4V817.6H261.0ZM265.2 814.3H269.6V817.6H265.2ZM269.4 814.3H273.8V817.6H269.4ZM302.9 814.3H307.3V817.6H302.9ZM332.2 814.3H336.6V817.6H332.2ZM336.4 814.3H340.7V817.6H336.4ZM202.0 817.4H206.4V820.7H202.0ZM218.9 817.4H223.3V820.7H218.9ZM223.1 817.4H227.5V820.7H223.1ZM252.5 817.4H256.9V820.7H252.5ZM281.9 817.4H286.3V820.7H281.9ZM286.1 817.4H290.5V820.7H286.1ZM294.5 817.4H298.9V820.7H294.5ZM298.7 817.4H303.1V820.7H298.7ZM201.6 820.5H206.1V823.9H201.6ZM205.9 820.5H210.3V823.9H205.9ZM210.1 820.5H214.5V823.9H210.1ZM218.5 820.5H222.9V823.9H218.5ZM227.0 820.5H231.4V823.9H227.0ZM231.2 820.5H235.6V823.9H231.2ZM235.4 820.5H239.8V823.9H235.4ZM239.6 820.5H244.0V823.9H239.6ZM243.8 820.5H248.3V823.9H243.8ZM256.5 820.5H260.9V823.9H256.5ZM286.0 820.5H290.5V823.9H286.0ZM290.3 820.5H294.7V823.9H290.3ZM294.5 820.5H298.9V823.9H294.5ZM298.7 820.5H303.1V823.9H298.7ZM197.0 823.6H201.4V827.0H197.0ZM273.3 823.6H277.7V827.0H273.3ZM277.5 823.6H282.0V827.0H277.5ZM315.7 823.6H320.1V827.0H315.7ZM319.9 823.6H324.3V827.0H319.9ZM332.6 823.6H337.1V827.0H332.6ZM336.9 823.6H341.3V827.0H336.9ZM196.5 826.8H201.0V830.1H196.5ZM285.9 826.8H290.4V830.1H285.9ZM315.7 826.8H320.2V830.1H315.7ZM191.8 829.9H196.3V833.2H191.8ZM303.0 829.9H307.5V833.2H303.0ZM337.2 829.9H341.7V833.2H337.2ZM315.9 833.0H320.4V836.4H315.9ZM341.7 833.0H346.2V836.4H341.7ZM190.9 836.2H195.5V839.5H190.9ZM337.5 836.2H342.1V839.5H337.5ZM341.9 836.2H346.4V839.5H341.9ZM203.5 839.3H208.0V842.6H203.5ZM207.8 839.3H212.3V842.6H207.8ZM212.1 839.3H216.7V842.6H212.1ZM337.7 839.3H342.2V842.6H337.7ZM190.0 842.4H194.6V845.8H190.0ZM333.5 842.4H338.1V845.8H333.5ZM188.7 851.8H193.3V855.2H188.7ZM183.3 858.1H188.0V861.4H183.3ZM325.4 858.1H330.1V861.4H325.4ZM329.9 858.1H334.5V861.4H329.9ZM334.3 858.1H338.9V861.4H334.3ZM338.7 858.1H343.4V861.4H338.7ZM178.4 861.2H183.1V864.5H178.4ZM182.4 864.3H187.1V867.7H182.4ZM177.4 867.5H182.1V870.8H177.4ZM158.9 870.6H163.6V873.9H158.9ZM326.0 873.7H330.7V877.1H326.0ZM152.7 880.0H157.4V883.3H152.7ZM161.8 880.0H166.6V883.3H161.8ZM152.1 883.1H156.9V886.5H152.1ZM170.4 883.1H175.2V886.5H170.4ZM146.9 886.2H151.7V889.6H146.9ZM151.5 886.2H156.3V889.6H151.5ZM326.5 886.2H331.3V889.6H326.5ZM331.1 886.2H335.9V889.6H331.1ZM155.5 889.4H160.4V892.7H155.5ZM159.6 892.5H164.5V895.8H159.6ZM173.1 895.6H177.9V899.0H173.1ZM176.8 901.9H181.7V905.2H176.8ZM176.3 905.0H181.2V908.4H176.3ZM294.2 905.0H299.1V908.4H294.2ZM109.6 908.2H114.5V911.5H109.6ZM119.1 908.2H124.0V911.5H119.1ZM175.9 908.2H180.8V911.5H175.9ZM123.1 911.3H128.1V914.6H123.1ZM142.1 911.3H147.1V914.6H142.1ZM279.8 914.4H284.8V917.8H279.8ZM184.0 917.6H189.0V920.9H184.0ZM342.0 917.6H347.0V920.9H342.0ZM246.1 920.7H251.1V924.0H246.1ZM260.5 920.7H265.5V924.0H260.5ZM139.7 923.8H144.8V927.1H139.7ZM202.5 923.8H207.5V927.1H202.5ZM207.3 923.8H212.3V927.1H207.3ZM119.8 926.9H124.8V930.3H119.8ZM211.5 930.1H216.5V933.4H211.5Z"/>
<path fill="#e7e23a" d="M331.9 808.0H336.2V811.3H331.9ZM336.0 808.0H340.4V811.3H336.0ZM332.0 811.1H336.4V814.5H332.0ZM219.2 814.3H223.6V817.6H219.2ZM223.4 814.3H227.8V817.6H223.4ZM240.1 814.3H244.5V817.6H240.1ZM256.9 814.3H261.2V817.6H256.9ZM273.6 814.3H278.0V817.6H273.6ZM323.8 814.3H328.2V817.6H323.8ZM340.5 814.3H344.9V817.6H340.5ZM206.2 817.4H210.6V820.7H206.2ZM210.4 817.4H214.9V820.7H210.4ZM227.3 817.4H231.7V820.7H227.3ZM256.7 817.4H261.1V820.7H256.7ZM260.9 817.4H265.3V820.7H260.9ZM265.1 817.4H269.5V820.7H265.1ZM269.3 817.4H273.7V820.7H269.3ZM273.5 817.4H277.9V820.7H273.5ZM302.9 817.4H307.3V820.7H302.9ZM307.1 817.4H311.5V820.7H307.1ZM311.3 817.4H315.7V820.7H311.3ZM315.5 817.4H319.9V820.7H315.5ZM319.7 817.4H324.1V820.7H319.7ZM336.5 817.4H340.9V820.7H336.5ZM214.3 820.5H218.7V823.9H214.3ZM222.7 820.5H227.2V823.9H222.7ZM248.1 820.5H252.5V823.9H248.1ZM252.3 820.5H256.7V823.9H252.3ZM302.9 820.5H307.3V823.9H302.9ZM332.5 820.5H336.9V823.9H332.5ZM336.7 820.5H341.1V823.9H336.7ZM340.9 820.5H345.3V823.9H340.9ZM205.5 823.6H209.9V827.0H205.5ZM209.7 823.6H214.1V827.0H209.7ZM235.1 823.6H239.6V827.0H235.1ZM256.3 823.6H260.8V827.0H256.3ZM200.8 826.8H205.3V830.1H200.8ZM205.1 826.8H209.5V830.1H205.1ZM213.6 826.8H218.0V830.1H213.6ZM217.8 826.8H222.3V830.1H217.8ZM204.7 829.9H209.1V833.2H204.7ZM208.9 829.9H213.4V833.2H208.9ZM213.2 829.9H217.7V833.2H213.2ZM247.4 829.9H251.9V833.2H247.4ZM251.7 829.9H256.2V833.2H251.7ZM256.0 829.9H260.4V833.2H256.0ZM260.2 829.9H264.7V833.2H260.2ZM264.5 829.9H269.0V833.2H264.5ZM277.3 829.9H281.8V833.2H277.3ZM294.5 829.9H298.9V833.2H294.5ZM200.0 833.0H204.5V836.4H200.0ZM221.4 833.0H225.9V836.4H221.4ZM225.7 833.0H230.2V836.4H225.7ZM230.0 833.0H234.5V836.4H230.0ZM333.1 833.0H337.6V836.4H333.1ZM195.3 836.2H199.8V839.5H195.3ZM199.6 836.2H204.1V839.5H199.6ZM203.9 836.2H208.4V839.5H203.9ZM259.9 836.2H264.4V839.5H259.9ZM328.9 836.2H333.4V839.5H328.9ZM333.2 836.2H337.7V839.5H333.2ZM194.8 839.3H199.3V842.6H194.8ZM199.1 839.3H203.7V842.6H199.1ZM298.7 839.3H303.3V842.6H298.7ZM307.4 839.3H311.9V842.6H307.4ZM329.1 839.3H333.6V842.6H329.1ZM333.4 839.3H337.9V842.6H333.4ZM342.0 839.3H346.6V842.6H342.0ZM194.4 842.4H198.9V845.8H194.4ZM294.4 842.4H299.0V845.8H294.4ZM316.1 842.4H320.7V845.8H316.1ZM329.2 842.4H333.7V845.8H329.2ZM325.0 845.6H329.5V848.9H325.0ZM184.8 848.7H189.3V852.0H184.8ZM189.1 848.7H193.7V852.0H189.1ZM298.8 848.7H303.4V852.0H298.8ZM303.2 848.7H307.7V852.0H303.2ZM316.4 851.8H321.0V855.2H316.4ZM320.8 851.8H325.4V855.2H320.8ZM338.4 851.8H343.0V855.2H338.4ZM183.8 855.0H188.4V858.3H183.8ZM321.0 858.1H325.6V861.4H321.0ZM173.5 864.3H178.1V867.7H173.5ZM186.9 864.3H191.6V867.7H186.9ZM191.4 864.3H196.0V867.7H191.4ZM343.6 864.3H348.2V867.7H343.6ZM181.9 867.5H186.6V870.8H181.9ZM163.4 870.6H168.1V873.9H163.4ZM181.5 870.6H186.2V873.9H181.5ZM186.0 870.6H190.7V873.9H186.0ZM316.9 870.6H321.6V873.9H316.9ZM343.9 870.6H348.7V873.9H343.9ZM167.4 873.7H172.1V877.1H167.4ZM171.9 873.7H176.7V877.1H171.9ZM321.5 873.7H326.2V877.1H321.5ZM157.2 880.0H162.0V883.3H157.2ZM147.5 883.1H152.3V886.5H147.5ZM175.0 883.1H179.8V886.5H175.0ZM184.2 883.1H189.0V886.5H184.2ZM188.8 883.1H193.6V886.5H188.8ZM156.1 886.2H160.9V889.6H156.1ZM165.3 886.2H170.1V889.6H165.3ZM321.9 886.2H326.7V889.6H321.9ZM344.9 886.2H349.7V889.6H344.9ZM164.8 889.4H169.6V892.7H164.8ZM169.4 889.4H174.2V892.7H169.4ZM173.6 892.5H178.4V895.8H173.6ZM303.5 892.5H308.3V895.8H303.5ZM308.1 892.5H313.0V895.8H308.1ZM181.9 898.8H186.8V902.1H181.9ZM186.6 898.8H191.5V902.1H186.6ZM247.2 901.9H252.1V905.2H247.2ZM110.3 905.0H115.2V908.4H110.3ZM119.8 905.0H124.7V908.4H119.8ZM180.6 908.2H185.5V911.5H180.6ZM180.1 911.3H185.1V914.6H180.1ZM194.4 911.3H199.3V914.6H194.4ZM199.1 911.3H204.1V914.6H199.1ZM203.9 911.3H208.8V914.6H203.9ZM208.6 911.3H213.6V914.6H208.6ZM213.4 911.3H218.3V914.6H213.4ZM218.1 911.3H223.1V914.6H218.1ZM179.7 914.4H184.7V917.8H179.7ZM184.5 914.4H189.4V917.8H184.5ZM213.1 914.4H218.0V917.8H213.1ZM193.6 917.6H198.6V920.9H193.6ZM198.4 917.6H203.4V920.9H198.4ZM203.2 917.6H208.2V920.9H203.2ZM236.0 926.9H241.0V930.3H236.0ZM284.4 930.1H289.4V933.4H284.4Z"/>
<path fill="#1e74d3" d="M157.0 811.1H161.4V814.5H157.0ZM169.5 811.1H173.9V814.5H169.5ZM163.6 820.5H168.1V823.9H163.6ZM175.3 826.8H179.7V830.1H175.3ZM140.5 829.9H145.0V833.2H140.5ZM152.7 833.0H157.2V836.4H152.7ZM142.9 839.3H147.4V842.6H142.9ZM147.2 839.3H151.7V842.6H147.2ZM155.8 839.3H160.4V842.6H155.8ZM132.1 848.7H136.7V852.0H132.1ZM145.3 848.7H149.9V852.0H145.3ZM132.5 867.5H137.2V870.8H132.5ZM150.5 867.5H155.2V870.8H150.5ZM127.3 870.6H132.0V873.9H127.3ZM130.5 876.9H135.2V880.2H130.5ZM110.8 883.1H115.6V886.5H110.8ZM113.9 889.4H118.8V892.7H113.9ZM336.1 895.6H341.0V899.0H336.1ZM284.8 898.8H289.7V902.1H284.8ZM298.9 901.9H303.8V905.2H298.9ZM251.4 911.3H256.3V914.6H251.4ZM270.4 911.3H275.3V914.6H270.4ZM136.8 914.4H141.7V917.8H136.8ZM332.8 926.9H337.9V930.3H332.8Z"/>
<path fill="#26399d" d="M161.2 811.1H165.6V814.5H161.2ZM189.9 814.3H194.3V817.6H189.9ZM194.1 814.3H198.5V817.6H194.1ZM126.4 817.4H130.8V820.7H126.4ZM160.0 817.4H164.4V820.7H160.0ZM124.9 823.6H129.4V827.0H124.9ZM129.2 823.6H133.6V827.0H129.2ZM133.4 823.6H137.8V827.0H133.4ZM163.1 823.6H167.5V827.0H163.1ZM167.3 823.6H171.7V827.0H167.3ZM180.0 823.6H184.5V827.0H180.0ZM188.5 823.6H192.9V827.0H188.5ZM128.4 826.8H132.9V830.1H128.4ZM136.9 826.8H141.4V830.1H136.9ZM141.2 826.8H145.7V830.1H141.2ZM145.5 826.8H149.9V830.1H145.5ZM149.7 826.8H154.2V830.1H149.7ZM158.2 826.8H162.7V830.1H158.2ZM127.7 829.9H132.2V833.2H127.7ZM132.0 829.9H136.5V833.2H132.0ZM153.4 829.9H157.8V833.2H153.4ZM157.6 829.9H162.1V833.2H157.6ZM161.9 829.9H166.4V833.2H161.9ZM131.3 833.0H135.8V836.4H131.3ZM139.9 833.0H144.4V836.4H139.9ZM178.5 833.0H183.0V836.4H178.5ZM130.6 836.2H135.1V839.5H130.6ZM134.9 836.2H139.4V839.5H134.9ZM139.2 836.2H143.7V839.5H139.2ZM147.8 836.2H152.3V839.5H147.8ZM164.5 839.3H169.0V842.6H164.5ZM168.8 839.3H173.4V842.6H168.8ZM181.8 839.3H186.4V842.6H181.8ZM146.6 842.4H151.1V845.8H146.6ZM150.9 842.4H155.4V845.8H150.9ZM168.3 842.4H172.8V845.8H168.3ZM124.1 845.6H128.7V848.9H124.1ZM128.5 845.6H133.0V848.9H128.5ZM132.8 845.6H137.4V848.9H132.8ZM119.0 848.7H123.6V852.0H119.0ZM123.4 848.7H127.9V852.0H123.4ZM127.7 848.7H132.3V852.0H127.7ZM167.2 848.7H171.8V852.0H167.2ZM162.3 851.8H166.9V855.2H162.3ZM171.1 851.8H175.7V855.2H171.1ZM179.9 851.8H184.5V855.2H179.9ZM121.2 858.1H125.8V861.4H121.2ZM125.6 858.1H130.3V861.4H125.6ZM114.5 867.5H119.2V870.8H114.5ZM131.8 870.6H136.5V873.9H131.8ZM136.3 870.6H141.1V873.9H136.3ZM125.9 876.9H130.7V880.2H125.9Z"/>
<path fill="#5bbe95" d="M198.7 811.1H203.1V814.5H198.7ZM129.4 861.2H134.0V864.5H129.4ZM128.5 886.2H133.3V889.6H128.5ZM133.1 886.2H137.9V889.6H133.1ZM142.3 886.2H147.1V889.6H142.3ZM118.6 889.4H123.4V892.7H118.6ZM322.1 892.5H326.9V895.8H322.1ZM336.0 892.5H340.8V895.8H336.0ZM112.5 895.6H117.4V899.0H112.5ZM317.5 895.6H322.4V899.0H317.5ZM322.2 895.6H327.0V899.0H322.2ZM326.8 895.6H331.7V899.0H326.8ZM331.5 895.6H336.3V899.0H331.5ZM340.8 895.6H345.7V899.0H340.8ZM121.1 898.8H126.0V902.1H121.1ZM125.8 898.8H130.7V902.1H125.8ZM303.5 898.8H308.4V902.1H303.5ZM308.2 898.8H313.1V902.1H308.2ZM341.0 898.8H345.8V902.1H341.0ZM106.4 901.9H111.2V905.2H106.4ZM143.9 901.9H148.8V905.2H143.9ZM148.6 901.9H153.5V905.2H148.6ZM270.7 901.9H275.6V905.2H270.7ZM275.4 901.9H280.3V905.2H275.4ZM317.7 901.9H322.6V905.2H317.7ZM322.4 901.9H327.3V905.2H322.4ZM327.1 901.9H331.9V905.2H327.1ZM336.4 901.9H341.3V905.2H336.4ZM341.1 901.9H346.0V905.2H341.1ZM251.7 905.0H256.7V908.4H251.7ZM275.3 905.0H280.2V908.4H275.3ZM280.0 905.0H284.9V908.4H280.0ZM298.9 905.0H303.8V908.4H298.9ZM114.3 908.2H119.3V911.5H114.3ZM152.2 908.2H157.1V911.5H152.2ZM161.7 908.2H166.6V911.5H161.7ZM166.4 908.2H171.3V911.5H166.4ZM280.0 908.2H284.9V911.5H280.0ZM284.7 908.2H289.6V911.5H284.7ZM341.5 908.2H346.4V911.5H341.5ZM346.2 908.2H351.1V911.5H346.2ZM118.4 911.3H123.3V914.6H118.4ZM137.4 911.3H142.3V914.6H137.4ZM146.9 911.3H151.8V914.6H146.9ZM151.6 911.3H156.6V914.6H151.6ZM156.4 911.3H161.3V914.6H156.4ZM165.9 911.3H170.8V914.6H165.9ZM170.6 911.3H175.6V914.6H170.6ZM175.4 911.3H180.3V914.6H175.4ZM232.4 911.3H237.3V914.6H232.4ZM246.6 911.3H251.6V914.6H246.6ZM279.9 911.3H284.8V914.6H279.9ZM284.6 911.3H289.6V914.6H284.6ZM322.6 911.3H327.6V914.6H322.6ZM327.4 911.3H332.3V914.6H327.4ZM332.1 911.3H337.1V914.6H332.1ZM132.0 914.4H137.0V917.8H132.0ZM270.3 914.4H275.3V917.8H270.3ZM275.1 914.4H280.0V917.8H275.1ZM284.6 914.4H289.6V917.8H284.6ZM289.4 914.4H294.3V917.8H289.4ZM294.1 914.4H299.1V917.8H294.1ZM337.1 914.4H342.0V917.8H337.1ZM131.4 917.6H136.4V920.9H131.4ZM160.1 917.6H165.1V920.9H160.1ZM164.9 917.6H169.9V920.9H164.9ZM169.7 917.6H174.6V920.9H169.7ZM174.4 917.6H179.4V920.9H174.4ZM179.2 917.6H184.2V920.9H179.2ZM236.7 917.6H241.7V920.9H236.7ZM241.5 917.6H246.5V920.9H241.5ZM346.8 917.6H351.8V920.9H346.8ZM279.7 920.7H284.7V924.0H279.7ZM188.0 923.8H193.0V927.1H188.0ZM192.8 923.8H197.8V927.1H192.8ZM197.6 923.8H202.7V927.1H197.6ZM284.5 923.8H289.5V927.1H284.5ZM323.0 923.8H328.1V927.1H323.0ZM327.9 923.8H332.9V927.1H327.9ZM124.6 926.9H129.7V930.3H124.6ZM144.0 926.9H149.0V930.3H144.0ZM202.1 926.9H207.1V930.3H202.1ZM206.9 926.9H212.0V930.3H206.9ZM211.8 926.9H216.8V930.3H211.8ZM216.6 926.9H221.7V930.3H216.6ZM313.5 926.9H318.5V930.3H313.5ZM109.4 930.1H114.5V933.4H109.4ZM114.3 930.1H119.3V933.4H114.3ZM119.1 930.1H124.2V933.4H119.1ZM133.7 930.1H138.8V933.4H133.7ZM138.6 930.1H143.6V933.4H138.6ZM143.4 930.1H148.5V933.4H143.4ZM177.4 930.1H182.5V933.4H177.4ZM216.3 930.1H221.4V933.4H216.3ZM221.2 930.1H226.2V933.4H221.2ZM226.0 930.1H231.1V933.4H226.0ZM230.9 930.1H236.0V933.4H230.9ZM240.6 930.1H245.7V933.4H240.6ZM245.5 930.1H250.5V933.4H245.5ZM250.3 930.1H255.4V933.4H250.3ZM255.2 930.1H260.3V933.4H255.2ZM303.8 930.1H308.9V933.4H303.8Z"/>
<path fill="#1f58c5" d="M143.9 814.3H148.3V817.6H143.9ZM148.1 814.3H152.4V817.6H148.1ZM185.7 814.3H190.1V817.6H185.7ZM176.8 817.4H181.2V820.7H176.8ZM167.9 820.5H172.3V823.9H167.9ZM172.1 820.5H176.5V823.9H172.1ZM137.6 823.6H142.1V827.0H137.6ZM171.5 823.6H176.0V827.0H171.5ZM132.7 826.8H137.1V830.1H132.7ZM154.0 826.8H158.4V830.1H154.0ZM177.5 839.3H182.0V842.6H177.5ZM155.2 842.4H159.8V845.8H155.2ZM149.7 848.7H154.3V852.0H149.7ZM158.4 848.7H163.0V852.0H158.4ZM162.8 848.7H167.4V852.0H162.8ZM179.4 855.0H184.0V858.3H179.4ZM116.7 858.1H121.4V861.4H116.7ZM149.3 873.7H154.0V877.1H149.3ZM111.6 880.0H116.3V883.3H111.6ZM129.2 883.1H133.9V886.5H129.2ZM133.7 883.1H138.5V886.5H133.7ZM114.7 886.2H119.5V889.6H114.7ZM109.3 889.4H114.1V892.7H109.3ZM141.5 914.4H146.5V917.8H141.5ZM236.9 914.4H241.9V917.8H236.9ZM246.4 914.4H251.4V917.8H246.4ZM251.0 917.6H256.0V920.9H251.0ZM222.0 920.7H227.0V924.0H222.0ZM226.8 920.7H231.8V924.0H226.8ZM236.4 920.7H241.5V924.0H236.4ZM226.6 923.8H231.6V927.1H226.6Z"/>
<path fill="#f6cf2d" d="M227.6 814.3H231.9V817.6H227.6ZM231.7 814.3H236.1V817.6H231.7ZM235.9 814.3H240.3V817.6H235.9ZM282.0 814.3H286.3V817.6H282.0ZM286.1 814.3H290.5V817.6H286.1ZM290.3 814.3H294.7V817.6H290.3ZM307.1 814.3H311.4V817.6H307.1ZM311.2 814.3H315.6V817.6H311.2ZM315.4 814.3H319.8V817.6H315.4ZM319.6 814.3H324.0V817.6H319.6ZM214.7 817.4H219.1V820.7H214.7ZM277.7 817.4H282.1V820.7H277.7ZM273.4 820.5H277.8V823.9H273.4ZM277.6 820.5H282.0V823.9H277.6ZM324.0 820.5H328.5V823.9H324.0ZM328.3 820.5H332.7V823.9H328.3ZM218.2 823.6H222.6V827.0H218.2ZM222.4 823.6H226.9V827.0H222.4ZM252.1 823.6H256.5V827.0H252.1ZM290.2 823.6H294.7V827.0H290.2ZM294.5 823.6H298.9V827.0H294.5ZM298.7 823.6H303.2V827.0H298.7ZM303.0 823.6H307.4V827.0H303.0ZM307.2 823.6H311.6V827.0H307.2ZM311.4 823.6H315.9V827.0H311.4ZM226.3 826.8H230.8V830.1H226.3ZM230.6 826.8H235.1V830.1H230.6ZM234.9 826.8H239.3V830.1H234.9ZM239.1 826.8H243.6V830.1H239.1ZM243.4 826.8H247.8V830.1H243.4ZM247.6 826.8H252.1V830.1H247.6ZM251.9 826.8H256.3V830.1H251.9ZM256.1 826.8H260.6V830.1H256.1ZM260.4 826.8H264.9V830.1H260.4ZM294.5 826.8H298.9V830.1H294.5ZM298.7 826.8H303.2V830.1H298.7ZM303.0 826.8H307.4V830.1H303.0ZM307.2 826.8H311.7V830.1H307.2ZM311.5 826.8H315.9V830.1H311.5ZM320.0 826.8H324.5V830.1H320.0ZM217.5 829.9H222.0V833.2H217.5ZM221.8 829.9H226.2V833.2H221.8ZM226.0 829.9H230.5V833.2H226.0ZM281.6 829.9H286.1V833.2H281.6ZM285.9 829.9H290.4V833.2H285.9ZM290.2 829.9H294.7V833.2H290.2ZM298.7 829.9H303.2V833.2H298.7ZM307.3 829.9H311.8V833.2H307.3ZM315.8 829.9H320.3V833.2H315.8ZM320.1 829.9H324.6V833.2H320.1ZM324.4 829.9H328.9V833.2H324.4ZM328.7 829.9H333.1V833.2H328.7ZM332.9 829.9H337.4V833.2H332.9ZM204.3 833.0H208.8V836.4H204.3ZM234.3 833.0H238.8V836.4H234.3ZM238.6 833.0H243.1V836.4H238.6ZM242.9 833.0H247.4V836.4H242.9ZM273.0 833.0H277.5V836.4H273.0ZM277.3 833.0H281.8V836.4H277.3ZM281.6 833.0H286.1V836.4H281.6ZM311.6 833.0H316.1V836.4H311.6ZM208.2 836.2H212.7V839.5H208.2ZM216.8 836.2H221.3V839.5H216.8ZM221.1 836.2H225.6V839.5H221.1ZM225.4 836.2H229.9V839.5H225.4ZM229.7 836.2H234.3V839.5H229.7ZM311.7 836.2H316.2V839.5H311.7ZM316.0 836.2H320.5V839.5H316.0ZM320.3 836.2H324.8V839.5H320.3ZM324.6 836.2H329.1V839.5H324.6ZM268.4 839.3H273.0V842.6H268.4ZM272.8 839.3H277.3V842.6H272.8ZM285.8 839.3H290.3V842.6H285.8ZM290.1 839.3H294.6V842.6H290.1ZM311.7 839.3H316.3V842.6H311.7ZM316.1 839.3H320.6V842.6H316.1ZM320.4 839.3H324.9V842.6H320.4ZM324.7 839.3H329.3V842.6H324.7ZM198.7 842.4H203.3V845.8H198.7ZM229.2 842.4H233.7V845.8H229.2ZM285.7 842.4H290.3V845.8H285.7ZM290.1 842.4H294.6V845.8H290.1ZM303.1 842.4H307.6V845.8H303.1ZM307.4 842.4H312.0V845.8H307.4ZM311.8 842.4H316.3V845.8H311.8ZM320.5 842.4H325.0V845.8H320.5ZM324.8 842.4H329.4V845.8H324.8ZM342.2 842.4H346.8V845.8H342.2ZM185.2 845.6H189.8V848.9H185.2ZM189.6 845.6H194.2V848.9H189.6ZM202.7 845.6H207.3V848.9H202.7ZM207.1 845.6H211.6V848.9H207.1ZM211.4 845.6H216.0V848.9H211.4ZM215.8 845.6H220.4V848.9H215.8ZM220.2 845.6H224.7V848.9H220.2ZM276.9 845.6H281.5V848.9H276.9ZM281.3 845.6H285.9V848.9H281.3ZM285.7 845.6H290.2V848.9H285.7ZM290.0 845.6H294.6V848.9H290.0ZM316.2 845.6H320.8V848.9H316.2ZM320.6 845.6H325.2V848.9H320.6ZM329.3 845.6H333.9V848.9H329.3ZM281.2 848.7H285.8V852.0H281.2ZM311.9 848.7H316.5V852.0H311.9ZM316.3 848.7H320.9V852.0H316.3ZM320.7 848.7H325.3V852.0H320.7ZM325.1 848.7H329.7V852.0H325.1ZM329.5 848.7H334.0V852.0H329.5ZM333.8 848.7H338.4V852.0H333.8ZM338.2 848.7H342.8V852.0H338.2ZM193.1 851.8H197.7V855.2H193.1ZM197.5 851.8H202.1V855.2H197.5ZM188.2 855.0H192.9V858.3H188.2ZM250.1 855.0H254.8V858.3H250.1ZM334.2 855.0H338.8V858.3H334.2ZM338.6 855.0H343.2V858.3H338.6ZM343.0 855.0H347.6V858.3H343.0ZM187.8 858.1H192.4V861.4H187.8ZM343.2 858.1H347.8V861.4H343.2ZM182.9 861.2H187.5V864.5H182.9ZM191.8 861.2H196.5V864.5H191.8ZM196.3 861.2H200.9V864.5H196.3ZM325.5 861.2H330.2V864.5H325.5ZM338.9 861.2H343.6V864.5H338.9ZM343.4 861.2H348.0V864.5H343.4ZM195.8 864.3H200.5V867.7H195.8ZM298.8 864.3H303.5V867.7H298.8ZM321.2 864.3H325.9V867.7H321.2ZM339.1 864.3H343.8V867.7H339.1ZM339.3 867.5H344.0V870.8H339.3ZM343.8 867.5H348.4V870.8H343.8ZM167.9 870.6H172.6V873.9H167.9ZM172.4 870.6H177.2V873.9H172.4ZM312.3 870.6H317.1V873.9H312.3ZM339.4 870.6H344.1V873.9H339.4ZM148.7 876.9H153.4V880.2H148.7ZM166.9 876.9H171.6V880.2H166.9ZM171.4 876.9H176.2V880.2H171.4ZM176.0 876.9H180.7V880.2H176.0ZM180.5 876.9H185.3V880.2H180.5ZM326.1 876.9H330.9V880.2H326.1ZM330.7 876.9H335.4V880.2H330.7ZM335.2 876.9H340.0V880.2H335.2ZM339.8 876.9H344.5V880.2H339.8ZM344.3 876.9H349.1V880.2H344.3ZM170.9 880.0H175.7V883.3H170.9ZM180.1 880.0H184.8V883.3H180.1ZM184.6 880.0H189.4V883.3H184.6ZM321.7 880.0H326.4V883.3H321.7ZM335.4 880.0H340.1V883.3H335.4ZM330.9 883.1H335.7V886.5H330.9ZM160.7 886.2H165.5V889.6H160.7ZM188.3 886.2H193.1V889.6H188.3ZM192.9 886.2H197.7V889.6H192.9ZM197.5 886.2H202.4V889.6H197.5ZM202.2 886.2H207.0V889.6H202.2ZM317.3 886.2H322.1V889.6H317.3ZM340.3 886.2H345.1V889.6H340.3ZM174.0 889.4H178.9V892.7H174.0ZM183.3 889.4H188.1V892.7H183.3ZM187.9 889.4H192.7V892.7H187.9ZM192.5 889.4H197.4V892.7H192.5ZM326.6 889.4H331.4V892.7H326.6ZM164.3 892.5H169.1V895.8H164.3ZM168.9 892.5H173.8V895.8H168.9ZM312.8 892.5H317.6V895.8H312.8ZM317.4 892.5H322.3V895.8H317.4ZM168.4 895.6H173.3V899.0H168.4ZM182.4 895.6H187.2V899.0H182.4ZM191.7 895.6H196.6V899.0H191.7ZM196.4 895.6H201.2V899.0H196.4ZM252.3 895.6H257.1V899.0H252.3ZM172.6 898.8H177.5V902.1H172.6ZM191.3 898.8H196.2V902.1H191.3ZM210.0 898.8H214.9V902.1H210.0ZM181.5 901.9H186.4V905.2H181.5ZM186.2 901.9H191.1V905.2H186.2ZM185.7 905.0H190.7V908.4H185.7ZM190.5 905.0H195.4V908.4H190.5ZM185.3 908.2H190.2V911.5H185.3ZM213.7 908.2H218.6V911.5H213.7ZM232.6 908.2H237.6V911.5H232.6ZM184.9 911.3H189.8V914.6H184.9ZM189.2 914.4H194.2V917.8H189.2ZM194.0 914.4H199.0V917.8H194.0ZM198.8 914.4H203.7V917.8H198.8ZM203.5 914.4H208.5V917.8H203.5ZM208.3 914.4H213.3V917.8H208.3Z"/>
<path fill="#1e99e3" d="M134.8 817.4H139.2V820.7H134.8ZM143.2 817.4H147.6V820.7H143.2ZM151.6 817.4H156.0V820.7H151.6ZM166.2 829.9H170.7V833.2H166.2ZM174.7 829.9H179.2V833.2H174.7ZM183.3 829.9H187.8V833.2H183.3ZM165.6 833.0H170.1V836.4H165.6ZM121.9 836.2H126.5V839.5H121.9ZM127.0 851.8H131.6V855.2H127.0ZM147.8 858.1H152.5V861.4H147.8ZM160.6 861.2H165.2V864.5H160.6ZM124.2 864.3H128.9V867.7H124.2ZM155.6 864.3H160.2V867.7H155.6ZM160.0 864.3H164.7V867.7H160.0ZM131.2 873.7H135.9V877.1H131.2ZM139.6 876.9H144.3V880.2H139.6ZM115.4 883.1H120.2V886.5H115.4ZM124.6 883.1H129.4V886.5H124.6ZM141.7 889.4H146.5V892.7H141.7ZM341.7 911.3H346.6V914.6H341.7ZM346.6 914.4H351.6V917.8H346.6ZM318.3 926.9H323.3V930.3H318.3ZM235.8 930.1H240.8V933.4H235.8Z"/>
<path fill="#f8ac25" d="M290.3 817.4H294.7V820.7H290.3ZM323.9 817.4H328.3V820.7H323.9ZM260.7 820.5H265.1V823.9H260.7ZM213.9 823.6H218.4V827.0H213.9ZM239.4 823.6H243.8V827.0H239.4ZM243.6 823.6H248.0V827.0H243.6ZM247.8 823.6H252.3V827.0H247.8ZM222.1 826.8H226.5V830.1H222.1ZM264.7 826.8H269.1V830.1H264.7ZM290.2 826.8H294.7V830.1H290.2ZM200.4 829.9H204.9V833.2H200.4ZM230.3 829.9H234.8V833.2H230.3ZM234.6 829.9H239.1V833.2H234.6ZM273.1 829.9H277.5V833.2H273.1ZM311.6 829.9H316.0V833.2H311.6ZM247.2 833.0H251.7V836.4H247.2ZM255.8 833.0H260.3V836.4H255.8ZM260.1 833.0H264.6V836.4H260.1ZM264.4 833.0H268.9V836.4H264.4ZM268.7 833.0H273.2V836.4H268.7ZM290.1 833.0H294.6V836.4H290.1ZM294.4 833.0H298.9V836.4H294.4ZM298.7 833.0H303.2V836.4H298.7ZM303.0 833.0H307.5V836.4H303.0ZM307.3 833.0H311.8V836.4H307.3ZM212.5 836.2H217.0V839.5H212.5ZM255.6 836.2H260.1V839.5H255.6ZM268.6 836.2H273.1V839.5H268.6ZM272.9 836.2H277.4V839.5H272.9ZM277.2 836.2H281.7V839.5H277.2ZM281.5 836.2H286.0V839.5H281.5ZM285.8 836.2H290.3V839.5H285.8ZM290.1 836.2H294.6V839.5H290.1ZM225.1 839.3H229.7V842.6H225.1ZM251.1 839.3H255.6V842.6H251.1ZM255.4 839.3H260.0V842.6H255.4ZM277.1 839.3H281.6V842.6H277.1ZM303.1 839.3H307.6V842.6H303.1ZM203.1 842.4H207.6V845.8H203.1ZM207.4 842.4H212.0V845.8H207.4ZM220.5 842.4H225.0V845.8H220.5ZM224.8 842.4H229.4V845.8H224.8ZM264.0 842.4H268.5V845.8H264.0ZM298.8 842.4H303.3V845.8H298.8ZM337.9 842.4H342.4V845.8H337.9ZM194.0 845.6H198.5V848.9H194.0ZM242.0 845.6H246.6V848.9H242.0ZM263.8 845.6H268.4V848.9H263.8ZM294.4 845.6H299.0V848.9H294.4ZM307.5 845.6H312.1V848.9H307.5ZM311.9 845.6H316.4V848.9H311.9ZM338.1 845.6H342.6V848.9H338.1ZM342.4 845.6H347.0V848.9H342.4ZM193.5 848.7H198.1V852.0H193.5ZM228.6 848.7H233.2V852.0H228.6ZM233.0 848.7H237.6V852.0H233.0ZM294.4 848.7H299.0V852.0H294.4ZM307.5 848.7H312.1V852.0H307.5ZM342.6 848.7H347.2V852.0H342.6ZM201.9 851.8H206.5V855.2H201.9ZM210.7 851.8H215.3V855.2H210.7ZM215.1 851.8H219.7V855.2H215.1ZM219.5 851.8H224.1V855.2H219.5ZM223.9 851.8H228.5V855.2H223.9ZM267.9 851.8H272.6V855.2H267.9ZM272.4 851.8H277.0V855.2H272.4ZM312.0 851.8H316.6V855.2H312.0ZM192.7 855.0H197.3V858.3H192.7ZM201.5 855.0H206.1V858.3H201.5ZM205.9 855.0H210.5V858.3H205.9ZM210.3 855.0H215.0V858.3H210.3ZM214.8 855.0H219.4V858.3H214.8ZM219.2 855.0H223.8V858.3H219.2ZM223.6 855.0H228.2V858.3H223.6ZM316.5 855.0H321.1V858.3H316.5ZM320.9 855.0H325.5V858.3H320.9ZM325.3 855.0H329.9V858.3H325.3ZM329.7 855.0H334.4V858.3H329.7ZM192.2 858.1H196.9V861.4H192.2ZM196.7 858.1H201.3V861.4H196.7ZM201.1 858.1H205.7V861.4H201.1ZM187.3 861.2H192.0V864.5H187.3ZM200.7 861.2H205.4V864.5H200.7ZM205.2 861.2H209.8V864.5H205.2ZM223.0 861.2H227.7V864.5H223.0ZM316.6 861.2H321.3V864.5H316.6ZM321.1 861.2H325.7V864.5H321.1ZM204.8 864.3H209.5V867.7H204.8ZM245.1 864.3H249.8V867.7H245.1ZM289.8 864.3H294.5V867.7H289.8ZM294.3 864.3H299.0V867.7H294.3ZM303.3 864.3H308.0V867.7H303.3ZM307.8 864.3H312.4V867.7H307.8ZM312.2 864.3H316.9V867.7H312.2ZM330.1 864.3H334.8V867.7H330.1ZM334.6 864.3H339.3V867.7H334.6ZM208.9 867.5H213.6V870.8H208.9ZM312.3 867.5H317.0V870.8H312.3ZM316.8 867.5H321.5V870.8H316.8ZM321.3 867.5H326.0V870.8H321.3ZM325.8 867.5H330.5V870.8H325.8ZM334.9 870.6H339.6V873.9H334.9ZM162.9 873.7H167.6V877.1H162.9ZM176.5 873.7H181.2V877.1H176.5ZM181.0 873.7H185.7V877.1H181.0ZM185.5 873.7H190.3V877.1H185.5ZM335.1 873.7H339.8V877.1H335.1ZM339.6 873.7H344.3V877.1H339.6ZM344.1 873.7H348.9V877.1H344.1ZM153.2 876.9H158.0V880.2H153.2ZM189.6 876.9H194.4V880.2H189.6ZM194.2 876.9H198.9V880.2H194.2ZM212.4 876.9H217.1V880.2H212.4ZM216.9 876.9H221.7V880.2H216.9ZM166.4 880.0H171.1V883.3H166.4ZM175.5 880.0H180.3V883.3H175.5ZM189.2 880.0H194.0V883.3H189.2ZM193.8 880.0H198.5V883.3H193.8ZM198.3 880.0H203.1V883.3H198.3ZM202.9 880.0H207.7V883.3H202.9ZM317.1 880.0H321.9V883.3H317.1ZM344.5 880.0H349.3V883.3H344.5ZM156.7 883.1H161.5V886.5H156.7ZM161.3 883.1H166.0V886.5H161.3ZM193.4 883.1H198.1V886.5H193.4ZM308.0 883.1H312.8V886.5H308.0ZM340.1 883.1H344.9V886.5H340.1ZM344.7 883.1H349.5V886.5H344.7ZM169.9 886.2H174.7V889.6H169.9ZM174.5 886.2H179.3V889.6H174.5ZM179.1 886.2H183.9V889.6H179.1ZM183.7 886.2H188.5V889.6H183.7ZM206.8 886.2H211.6V889.6H206.8ZM211.4 886.2H216.2V889.6H211.4ZM216.0 886.2H220.8V889.6H216.0ZM303.4 886.2H308.3V889.6H303.4ZM308.1 886.2H312.9V889.6H308.1ZM178.7 889.4H183.5V892.7H178.7ZM206.4 889.4H211.2V892.7H206.4ZM322.0 889.4H326.8V892.7H322.0ZM178.2 892.5H183.0V895.8H178.2ZM192.1 892.5H197.0V895.8H192.1ZM210.7 892.5H215.5V895.8H210.7ZM215.3 892.5H220.2V895.8H215.3ZM229.2 892.5H234.1V895.8H229.2ZM233.9 892.5H238.7V895.8H233.9ZM238.5 892.5H243.4V895.8H238.5ZM252.4 892.5H257.3V895.8H252.4ZM257.1 892.5H261.9V895.8H257.1ZM261.7 892.5H266.6V895.8H261.7ZM275.7 892.5H280.5V895.8H275.7ZM284.9 892.5H289.8V895.8H284.9ZM275.6 895.6H280.4V899.0H275.6ZM280.2 895.6H285.1V899.0H280.2ZM284.9 895.6H289.7V899.0H284.9ZM196.0 898.8H200.8V902.1H196.0ZM200.6 898.8H205.5V902.1H200.6ZM266.1 898.8H271.0V902.1H266.1ZM190.9 901.9H195.8V905.2H190.9ZM195.6 901.9H200.5V905.2H195.6ZM181.0 905.0H185.9V908.4H181.0ZM218.7 905.0H223.7V908.4H218.7ZM223.5 905.0H228.4V908.4H223.5ZM232.9 905.0H237.8V908.4H232.9ZM237.6 905.0H242.5V908.4H237.6ZM190.0 908.2H195.0V911.5H190.0ZM194.8 908.2H199.7V911.5H194.8ZM199.5 908.2H204.4V911.5H199.5ZM209.0 908.2H213.9V911.5H209.0ZM189.6 911.3H194.6V914.6H189.6Z"/>
<path fill="#f9881e" d="M328.1 817.4H332.5V820.7H328.1ZM264.9 820.5H269.4V823.9H264.9ZM269.2 820.5H273.6V823.9H269.2ZM226.7 823.6H231.1V827.0H226.7ZM260.6 823.6H265.0V827.0H260.6ZM264.8 823.6H269.2V827.0H264.8ZM281.8 823.6H286.2V827.0H281.8ZM209.3 826.8H213.8V830.1H209.3ZM268.8 829.9H273.3V833.2H268.8ZM208.6 833.0H213.1V836.4H208.6ZM212.9 833.0H217.4V836.4H212.9ZM217.2 833.0H221.6V836.4H217.2ZM285.9 833.0H290.3V836.4H285.9ZM234.1 836.2H238.6V839.5H234.1ZM238.4 836.2H242.9V839.5H238.4ZM264.2 836.2H268.8V839.5H264.2ZM294.4 836.2H298.9V839.5H294.4ZM298.7 836.2H303.3V839.5H298.7ZM303.1 836.2H307.6V839.5H303.1ZM216.5 839.3H221.0V842.6H216.5ZM281.4 839.3H286.0V842.6H281.4ZM211.8 842.4H216.3V845.8H211.8ZM216.1 842.4H220.7V845.8H216.1ZM242.2 842.4H246.8V845.8H242.2ZM246.6 842.4H251.1V845.8H246.6ZM250.9 842.4H255.5V845.8H250.9ZM268.3 842.4H272.9V845.8H268.3ZM272.7 842.4H277.2V845.8H272.7ZM224.5 845.6H229.1V848.9H224.5ZM228.9 845.6H233.5V848.9H228.9ZM246.4 845.6H250.9V848.9H246.4ZM255.1 845.6H259.7V848.9H255.1ZM259.5 845.6H264.0V848.9H259.5ZM272.6 845.6H277.1V848.9H272.6ZM333.7 845.6H338.3V848.9H333.7ZM197.9 848.7H202.5V852.0H197.9ZM206.7 848.7H211.3V852.0H206.7ZM224.2 848.7H228.8V852.0H224.2ZM237.4 848.7H242.0V852.0H237.4ZM206.3 851.8H210.9V855.2H206.3ZM228.3 851.8H232.9V855.2H228.3ZM276.8 851.8H281.4V855.2H276.8ZM281.2 851.8H285.8V855.2H281.2ZM307.6 851.8H312.2V855.2H307.6ZM197.1 855.0H201.7V858.3H197.1ZM241.3 855.0H245.9V858.3H241.3ZM281.1 855.0H285.7V858.3H281.1ZM285.5 855.0H290.1V858.3H285.5ZM289.9 855.0H294.6V858.3H289.9ZM294.4 855.0H299.0V858.3H294.4ZM298.8 855.0H303.4V858.3H298.8ZM303.2 855.0H307.8V858.3H303.2ZM307.6 855.0H312.2V858.3H307.6ZM312.0 855.0H316.7V858.3H312.0ZM205.5 858.1H210.2V861.4H205.5ZM210.0 858.1H214.6V861.4H210.0ZM236.6 858.1H241.3V861.4H236.6ZM276.6 858.1H281.2V861.4H276.6ZM289.9 858.1H294.5V861.4H289.9ZM294.3 858.1H299.0V861.4H294.3ZM209.6 861.2H214.3V864.5H209.6ZM214.1 861.2H218.7V864.5H214.1ZM218.5 861.2H223.2V864.5H218.5ZM236.4 861.2H241.0V864.5H236.4ZM240.8 861.2H245.5V864.5H240.8ZM298.8 861.2H303.4V864.5H298.8ZM303.2 861.2H307.9V864.5H303.2ZM307.7 861.2H312.4V864.5H307.7ZM312.2 861.2H316.8V864.5H312.2ZM330.0 861.2H334.7V864.5H330.0ZM209.3 864.3H213.9V867.7H209.3ZM218.2 864.3H222.9V867.7H218.2ZM263.0 864.3H267.7V867.7H263.0ZM217.9 867.5H222.6V870.8H217.9ZM303.3 867.5H308.0V870.8H303.3ZM307.8 867.5H312.5V870.8H307.8ZM334.8 867.5H339.5V870.8H334.8ZM190.5 870.6H195.2V873.9H190.5ZM195.0 870.6H199.7V873.9H195.0ZM199.5 870.6H204.2V873.9H199.5ZM204.0 870.6H208.8V873.9H204.0ZM298.8 870.6H303.5V873.9H298.8ZM330.4 870.6H335.1V873.9H330.4ZM190.1 873.7H194.8V877.1H190.1ZM194.6 873.7H199.3V877.1H194.6ZM230.8 873.7H235.6V877.1H230.8ZM235.4 873.7H240.1V877.1H235.4ZM316.9 873.7H321.7V877.1H316.9ZM157.8 876.9H162.5V880.2H157.8ZM162.3 876.9H167.1V880.2H162.3ZM185.1 876.9H189.8V880.2H185.1ZM221.5 876.9H226.2V880.2H221.5ZM207.5 880.0H212.2V883.3H207.5ZM221.2 880.0H225.9V883.3H221.2ZM303.4 880.0H308.2V883.3H303.4ZM308.0 880.0H312.7V883.3H308.0ZM312.5 880.0H317.3V883.3H312.5ZM326.2 880.0H331.0V883.3H326.2ZM330.8 880.0H335.6V883.3H330.8ZM339.9 880.0H344.7V883.3H339.9ZM165.8 883.1H170.6V886.5H165.8ZM197.9 883.1H202.7V886.5H197.9ZM202.5 883.1H207.3V886.5H202.5ZM207.1 883.1H211.9V886.5H207.1ZM211.7 883.1H216.5V886.5H211.7ZM321.8 883.1H326.6V886.5H321.8ZM326.4 883.1H331.1V886.5H326.4ZM335.5 883.1H340.3V886.5H335.5ZM220.6 886.2H225.4V889.6H220.6ZM285.0 886.2H289.8V889.6H285.0ZM298.8 886.2H303.6V889.6H298.8ZM312.7 886.2H317.5V889.6H312.7ZM238.8 889.4H243.6V892.7H238.8ZM248.0 889.4H252.8V892.7H248.0ZM280.4 889.4H285.2V892.7H280.4ZM289.6 889.4H294.4V892.7H289.6ZM294.2 889.4H299.1V892.7H294.2ZM298.9 889.4H303.7V892.7H298.9ZM312.7 889.4H317.5V892.7H312.7ZM317.3 889.4H322.2V892.7H317.3ZM182.8 892.5H187.7V895.8H182.8ZM187.5 892.5H192.3V895.8H187.5ZM196.8 892.5H201.6V895.8H196.8ZM201.4 892.5H206.2V895.8H201.4ZM206.0 892.5H210.9V895.8H206.0ZM224.6 892.5H229.4V895.8H224.6ZM243.2 892.5H248.0V895.8H243.2ZM247.8 892.5H252.6V895.8H247.8ZM294.2 892.5H299.1V895.8H294.2ZM298.9 892.5H303.7V895.8H298.9ZM177.7 895.6H182.6V899.0H177.7ZM187.0 895.6H191.9V899.0H187.0ZM210.3 895.6H215.2V899.0H210.3ZM256.9 895.6H261.8V899.0H256.9ZM261.6 895.6H266.4V899.0H261.6ZM266.2 895.6H271.1V899.0H266.2ZM270.9 895.6H275.8V899.0H270.9ZM289.5 895.6H294.4V899.0H289.5ZM205.3 898.8H210.2V902.1H205.3ZM214.7 898.8H219.6V902.1H214.7ZM242.7 898.8H247.6V902.1H242.7ZM247.4 898.8H252.3V902.1H247.4ZM261.5 898.8H266.3V902.1H261.5ZM200.3 901.9H205.2V905.2H200.3ZM205.0 901.9H209.9V905.2H205.0ZM209.7 901.9H214.6V905.2H209.7ZM214.4 901.9H219.2V905.2H214.4ZM233.1 901.9H238.0V905.2H233.1ZM242.5 901.9H247.4V905.2H242.5ZM195.2 905.0H200.1V908.4H195.2ZM199.9 905.0H204.8V908.4H199.9ZM204.6 905.0H209.5V908.4H204.6ZM228.2 905.0H233.1V908.4H228.2ZM204.2 908.2H209.2V911.5H204.2Z"/>
<path fill="#f45e1e" d="M230.9 823.6H235.3V827.0H230.9ZM273.2 826.8H277.6V830.1H273.2ZM277.4 826.8H281.9V830.1H277.4ZM281.7 826.8H286.1V830.1H281.7ZM238.9 829.9H243.3V833.2H238.9ZM243.1 829.9H247.6V833.2H243.1ZM251.5 833.0H256.0V836.4H251.5ZM242.7 836.2H247.2V839.5H242.7ZM247.0 836.2H251.5V839.5H247.0ZM251.3 836.2H255.8V839.5H251.3ZM220.8 839.3H225.3V842.6H220.8ZM229.5 839.3H234.0V842.6H229.5ZM233.8 839.3H238.3V842.6H233.8ZM238.1 839.3H242.7V842.6H238.1ZM242.5 839.3H247.0V842.6H242.5ZM246.8 839.3H251.3V842.6H246.8ZM259.8 839.3H264.3V842.6H259.8ZM294.4 839.3H298.9V842.6H294.4ZM233.5 842.4H238.1V845.8H233.5ZM237.9 842.4H242.4V845.8H237.9ZM255.3 842.4H259.8V845.8H255.3ZM259.6 842.4H264.2V845.8H259.6ZM277.0 842.4H281.6V845.8H277.0ZM281.4 842.4H285.9V845.8H281.4ZM198.3 845.6H202.9V848.9H198.3ZM250.7 845.6H255.3V848.9H250.7ZM268.2 845.6H272.8V848.9H268.2ZM202.3 848.7H206.9V852.0H202.3ZM211.1 848.7H215.6V852.0H211.1ZM259.3 848.7H263.9V852.0H259.3ZM285.6 848.7H290.2V852.0H285.6ZM290.0 848.7H294.6V852.0H290.0ZM245.9 851.8H250.5V855.2H245.9ZM250.3 851.8H254.9V855.2H250.3ZM254.7 851.8H259.3V855.2H254.7ZM290.0 851.8H294.6V855.2H290.0ZM236.9 855.0H241.5V858.3H236.9ZM245.7 855.0H250.3V858.3H245.7ZM214.4 858.1H219.1V861.4H214.4ZM218.9 858.1H223.5V861.4H218.9ZM249.9 858.1H254.6V861.4H249.9ZM285.5 858.1H290.1V861.4H285.5ZM303.2 858.1H307.9V861.4H303.2ZM307.7 858.1H312.3V861.4H307.7ZM316.5 858.1H321.2V861.4H316.5ZM231.9 861.2H236.6V864.5H231.9ZM254.2 861.2H258.9V864.5H254.2ZM258.7 861.2H263.3V864.5H258.7ZM294.3 861.2H299.0V864.5H294.3ZM285.4 864.3H290.0V867.7H285.4ZM316.7 864.3H321.4V867.7H316.7ZM199.9 867.5H204.6V870.8H199.9ZM222.4 867.5H227.1V870.8H222.4ZM226.9 867.5H231.6V870.8H226.9ZM276.3 867.5H281.0V870.8H276.3ZM280.8 867.5H285.5V870.8H280.8ZM285.3 867.5H290.0V870.8H285.3ZM289.8 867.5H294.5V870.8H289.8ZM294.3 867.5H299.0V870.8H294.3ZM298.8 867.5H303.5V870.8H298.8ZM177.0 870.6H181.7V873.9H177.0ZM208.6 870.6H213.3V873.9H208.6ZM213.1 870.6H217.8V873.9H213.1ZM217.6 870.6H222.3V873.9H217.6ZM222.1 870.6H226.8V873.9H222.1ZM289.8 870.6H294.5V873.9H289.8ZM303.3 870.6H308.0V873.9H303.3ZM321.4 870.6H326.1V873.9H321.4ZM325.9 870.6H330.6V873.9H325.9ZM199.1 873.7H203.9V877.1H199.1ZM217.3 873.7H222.0V877.1H217.3ZM221.8 873.7H226.5V877.1H221.8ZM303.3 873.7H308.1V877.1H303.3ZM307.9 873.7H312.6V877.1H307.9ZM312.4 873.7H317.1V877.1H312.4ZM330.5 873.7H335.3V877.1H330.5ZM198.7 876.9H203.5V880.2H198.7ZM226.0 876.9H230.8V880.2H226.0ZM280.6 876.9H285.4V880.2H280.6ZM285.2 876.9H289.9V880.2H285.2ZM289.7 876.9H294.5V880.2H289.7ZM303.4 876.9H308.1V880.2H303.4ZM307.9 876.9H312.7V880.2H307.9ZM312.5 876.9H317.2V880.2H312.5ZM317.0 876.9H321.8V880.2H317.0ZM321.6 876.9H326.3V880.2H321.6ZM212.0 880.0H216.8V883.3H212.0ZM216.6 880.0H221.4V883.3H216.6ZM294.3 880.0H299.0V883.3H294.3ZM298.8 880.0H303.6V883.3H298.8ZM179.6 883.1H184.4V886.5H179.6ZM216.3 883.1H221.1V886.5H216.3ZM220.9 883.1H225.7V886.5H220.9ZM225.5 883.1H230.2V886.5H225.5ZM271.3 883.1H276.1V886.5H271.3ZM275.9 883.1H280.7V886.5H275.9ZM280.5 883.1H285.3V886.5H280.5ZM285.1 883.1H289.9V886.5H285.1ZM289.7 883.1H294.5V886.5H289.7ZM294.3 883.1H299.0V886.5H294.3ZM280.4 886.2H285.2V889.6H280.4ZM294.2 886.2H299.0V889.6H294.2ZM211.0 889.4H215.8V892.7H211.0ZM266.5 889.4H271.3V892.7H266.5ZM271.1 889.4H275.9V892.7H271.1ZM285.0 889.4H289.8V892.7H285.0ZM303.5 889.4H308.3V892.7H303.5ZM308.1 889.4H312.9V892.7H308.1ZM220.0 892.5H224.8V895.8H220.0ZM280.3 892.5H285.1V895.8H280.3ZM289.6 892.5H294.4V895.8H289.6ZM205.7 895.6H210.5V899.0H205.7ZM177.3 898.8H182.1V902.1H177.3ZM219.4 898.8H224.2V902.1H219.4ZM228.7 898.8H233.6V902.1H228.7ZM252.1 898.8H257.0V902.1H252.1ZM256.8 898.8H261.7V902.1H256.8ZM219.0 901.9H223.9V905.2H219.0ZM223.7 901.9H228.6V905.2H223.7ZM228.4 901.9H233.3V905.2H228.4ZM218.4 908.2H223.4V911.5H218.4ZM223.2 908.2H228.1V911.5H223.2Z"/>
<path fill="#ef3a1e" d="M268.9 826.8H273.4V830.1H268.9ZM307.4 836.2H311.9V839.5H307.4ZM264.1 839.3H268.6V842.6H264.1ZM298.8 845.6H303.3V848.9H298.8ZM303.1 845.6H307.7V848.9H303.1ZM215.4 848.7H220.0V852.0H215.4ZM219.8 848.7H224.4V852.0H219.8ZM241.8 848.7H246.3V852.0H241.8ZM268.1 848.7H272.7V852.0H268.1ZM272.5 848.7H277.0V852.0H272.5ZM276.8 848.7H281.4V852.0H276.8ZM232.7 851.8H237.3V855.2H232.7ZM237.1 851.8H241.7V855.2H237.1ZM241.5 851.8H246.1V855.2H241.5ZM285.6 851.8H290.2V855.2H285.6ZM228.0 855.0H232.7V858.3H228.0ZM232.5 855.0H237.1V858.3H232.5ZM276.7 855.0H281.3V858.3H276.7ZM223.3 858.1H227.9V861.4H223.3ZM227.7 858.1H232.4V861.4H227.7ZM232.2 858.1H236.8V861.4H232.2ZM241.1 858.1H245.7V861.4H241.1ZM245.5 858.1H250.1V861.4H245.5ZM281.0 858.1H285.7V861.4H281.0ZM298.8 858.1H303.4V861.4H298.8ZM312.1 858.1H316.7V861.4H312.1ZM245.3 861.2H250.0V864.5H245.3ZM249.8 861.2H254.4V864.5H249.8ZM272.0 861.2H276.7V864.5H272.0ZM276.5 861.2H281.2V864.5H276.5ZM285.4 861.2H290.1V864.5H285.4ZM289.9 861.2H294.5V864.5H289.9ZM200.3 864.3H205.0V867.7H200.3ZM213.7 864.3H218.4V867.7H213.7ZM222.7 864.3H227.4V867.7H222.7ZM236.1 864.3H240.8V867.7H236.1ZM240.6 864.3H245.3V867.7H240.6ZM280.9 864.3H285.6V867.7H280.9ZM186.4 867.5H191.1V870.8H186.4ZM190.9 867.5H195.6V870.8H190.9ZM195.4 867.5H200.1V870.8H195.4ZM204.4 867.5H209.1V870.8H204.4ZM267.3 867.5H272.0V870.8H267.3ZM271.8 867.5H276.5V870.8H271.8ZM330.3 867.5H335.0V870.8H330.3ZM226.6 870.6H231.3V873.9H226.6ZM235.6 870.6H240.3V873.9H235.6ZM253.7 870.6H258.4V873.9H253.7ZM258.2 870.6H262.9V873.9H258.2ZM262.7 870.6H267.4V873.9H262.7ZM307.8 870.6H312.5V873.9H307.8ZM203.7 873.7H208.4V877.1H203.7ZM208.2 873.7H212.9V877.1H208.2ZM271.6 873.7H276.4V877.1H271.6ZM294.3 873.7H299.0V877.1H294.3ZM298.8 873.7H303.5V877.1H298.8ZM203.3 876.9H208.0V880.2H203.3ZM230.6 876.9H235.3V880.2H230.6ZM235.1 876.9H239.9V880.2H235.1ZM267.0 876.9H271.7V880.2H267.0ZM271.5 876.9H276.3V880.2H271.5ZM276.1 876.9H280.8V880.2H276.1ZM276.0 880.0H280.8V883.3H276.0ZM280.6 880.0H285.3V883.3H280.6ZM285.1 880.0H289.9V883.3H285.1ZM289.7 880.0H294.5V883.3H289.7ZM230.0 883.1H234.8V886.5H230.0ZM234.6 883.1H239.4V886.5H234.6ZM239.2 883.1H244.0V886.5H239.2ZM243.8 883.1H248.6V886.5H243.8ZM317.2 883.1H322.0V886.5H317.2ZM248.2 886.2H253.0V889.6H248.2ZM252.8 886.2H257.6V889.6H252.8ZM271.2 886.2H276.0V889.6H271.2ZM275.8 886.2H280.6V889.6H275.8ZM215.6 889.4H220.5V892.7H215.6ZM220.3 889.4H225.1V892.7H220.3ZM224.9 889.4H229.7V892.7H224.9ZM243.4 889.4H248.2V892.7H243.4ZM201.0 895.6H205.9V899.0H201.0ZM215.0 895.6H219.9V899.0H215.0ZM219.7 895.6H224.5V899.0H219.7ZM247.6 895.6H252.5V899.0H247.6ZM224.0 898.8H228.9V902.1H224.0ZM233.4 898.8H238.3V902.1H233.4ZM238.1 898.8H242.9V902.1H238.1ZM209.3 905.0H214.2V908.4H209.3ZM214.0 905.0H218.9V908.4H214.0ZM227.9 908.2H232.8V911.5H227.9Z"/>
<path fill="#e9301e" d="M233.3 845.6H237.8V848.9H233.3ZM237.6 845.6H242.2V848.9H237.6ZM246.1 848.7H250.7V852.0H246.1ZM250.5 848.7H255.1V852.0H250.5ZM254.9 848.7H259.5V852.0H254.9ZM263.7 848.7H268.3V852.0H263.7ZM259.1 851.8H263.7V855.2H259.1ZM263.5 851.8H268.1V855.2H263.5ZM298.8 851.8H303.4V855.2H298.8ZM303.2 851.8H307.8V855.2H303.2ZM254.6 855.0H259.2V858.3H254.6ZM259.0 855.0H263.6V858.3H259.0ZM263.4 855.0H268.0V858.3H263.4ZM267.8 855.0H272.4V858.3H267.8ZM272.2 855.0H276.9V858.3H272.2ZM254.4 858.1H259.0V861.4H254.4ZM258.8 858.1H263.5V861.4H258.8ZM263.3 858.1H267.9V861.4H263.3ZM267.7 858.1H272.3V861.4H267.7ZM272.1 858.1H276.8V861.4H272.1ZM281.0 861.2H285.6V864.5H281.0ZM227.2 864.3H231.9V867.7H227.2ZM249.6 864.3H254.2V867.7H249.6ZM325.7 864.3H330.3V867.7H325.7ZM213.4 867.5H218.1V870.8H213.4ZM231.4 867.5H236.1V870.8H231.4ZM235.9 867.5H240.6V870.8H235.9ZM240.4 867.5H245.1V870.8H240.4ZM244.9 867.5H249.6V870.8H244.9ZM249.4 867.5H254.1V870.8H249.4ZM262.8 867.5H267.5V870.8H262.8ZM240.1 870.6H244.9V873.9H240.1ZM244.7 870.6H249.4V873.9H244.7ZM249.2 870.6H253.9V873.9H249.2ZM271.7 870.6H276.4V873.9H271.7ZM276.2 870.6H281.0V873.9H276.2ZM280.8 870.6H285.5V873.9H280.8ZM285.3 870.6H290.0V873.9H285.3ZM294.3 870.6H299.0V873.9H294.3ZM239.9 873.7H244.6V877.1H239.9ZM258.0 873.7H262.8V877.1H258.0ZM262.6 873.7H267.3V877.1H262.6ZM267.1 873.7H271.8V877.1H267.1ZM207.8 876.9H212.6V880.2H207.8ZM239.7 876.9H244.4V880.2H239.7ZM248.8 876.9H253.5V880.2H248.8ZM253.3 876.9H258.1V880.2H253.3ZM257.9 876.9H262.6V880.2H257.9ZM262.4 876.9H267.2V880.2H262.4ZM271.4 880.0H276.2V883.3H271.4ZM248.4 883.1H253.2V886.5H248.4ZM253.0 883.1H257.8V886.5H253.0ZM298.8 883.1H303.6V886.5H298.8ZM303.4 883.1H308.2V886.5H303.4ZM312.6 883.1H317.4V886.5H312.6ZM225.2 886.2H230.0V889.6H225.2ZM229.8 886.2H234.6V889.6H229.8ZM289.6 886.2H294.4V889.6H289.6ZM197.2 889.4H202.0V892.7H197.2ZM201.8 889.4H206.6V892.7H201.8ZM229.5 889.4H234.3V892.7H229.5ZM275.7 889.4H280.6V892.7H275.7ZM266.4 892.5H271.2V895.8H266.4ZM271.0 892.5H275.9V895.8H271.0ZM224.3 895.6H229.2V899.0H224.3ZM229.0 895.6H233.8V899.0H229.0ZM233.6 895.6H238.5V899.0H233.6ZM238.3 895.6H243.2V899.0H238.3ZM243.0 895.6H247.8V899.0H243.0Z"/>
<path fill="#e3261e" d="M294.4 851.8H299.0V855.2H294.4ZM227.5 861.2H232.1V864.5H227.5ZM231.7 864.3H236.3V867.7H231.7ZM231.1 870.6H235.8V873.9H231.1ZM212.7 873.7H217.5V877.1H212.7ZM226.3 873.7H231.0V877.1H226.3ZM244.4 873.7H249.2V877.1H244.4ZM249.0 873.7H253.7V877.1H249.0ZM253.5 873.7H258.2V877.1H253.5ZM244.2 876.9H249.0V880.2H244.2ZM294.3 876.9H299.0V880.2H294.3ZM298.8 876.9H303.6V880.2H298.8ZM257.7 880.0H262.5V883.3H257.7ZM257.6 883.1H262.3V886.5H257.6ZM262.1 883.1H266.9V886.5H262.1ZM266.7 883.1H271.5V886.5H266.7ZM234.4 886.2H239.2V889.6H234.4ZM239.0 886.2H243.8V889.6H239.0ZM243.6 886.2H248.4V889.6H243.6ZM234.1 889.4H239.0V892.7H234.1ZM252.6 889.4H257.4V892.7H252.6ZM257.2 889.4H262.1V892.7H257.2ZM261.9 889.4H266.7V892.7H261.9ZM237.8 901.9H242.7V905.2H237.8Z"/>
<path fill="#48bec2" d="M120.5 861.2H125.1V864.5H120.5ZM124.9 861.2H129.6V864.5H124.9ZM133.8 861.2H138.5V864.5H133.8ZM137.6 864.3H142.3V867.7H137.6ZM112.3 876.9H117.0V880.2H112.3ZM121.4 876.9H126.1V880.2H121.4ZM137.7 886.2H142.5V889.6H137.7ZM108.6 892.5H113.4V895.8H108.6ZM127.1 892.5H132.0V895.8H127.1ZM326.7 892.5H331.5V895.8H326.7ZM331.3 892.5H336.2V895.8H331.3ZM107.8 895.6H112.7V899.0H107.8ZM131.1 895.6H136.0V899.0H131.1ZM135.8 895.6H140.7V899.0H135.8ZM294.2 895.6H299.1V899.0H294.2ZM298.9 895.6H303.7V899.0H298.9ZM312.8 895.6H317.7V899.0H312.8ZM107.1 898.8H112.0V902.1H107.1ZM111.8 898.8H116.7V902.1H111.8ZM163.2 898.8H168.1V902.1H163.2ZM331.6 898.8H336.5V902.1H331.6ZM336.3 898.8H341.2V902.1H336.3ZM134.5 901.9H139.4V905.2H134.5ZM139.2 901.9H144.1V905.2H139.2ZM162.7 901.9H167.6V905.2H162.7ZM167.4 901.9H172.3V905.2H167.4ZM251.9 901.9H256.8V905.2H251.9ZM256.6 901.9H261.5V905.2H256.6ZM261.3 901.9H266.2V905.2H261.3ZM313.0 901.9H317.9V905.2H313.0ZM138.6 905.0H143.5V908.4H138.6ZM143.3 905.0H148.2V908.4H143.3ZM152.8 905.0H157.7V908.4H152.8ZM157.5 905.0H162.4V908.4H157.5ZM261.2 905.0H266.1V908.4H261.2ZM284.7 905.0H289.7V908.4H284.7ZM289.5 905.0H294.4V908.4H289.5ZM336.6 905.0H341.5V908.4H336.6ZM104.9 908.2H109.8V911.5H104.9ZM123.8 908.2H128.7V911.5H123.8ZM128.5 908.2H133.5V911.5H128.5ZM237.4 908.2H242.3V911.5H237.4ZM242.1 908.2H247.0V911.5H242.1ZM246.8 908.2H251.8V911.5H246.8ZM251.6 908.2H256.5V911.5H251.6ZM256.3 908.2H261.2V911.5H256.3ZM261.0 908.2H266.0V911.5H261.0ZM265.8 908.2H270.7V911.5H265.8ZM270.5 908.2H275.4V911.5H270.5ZM294.2 908.2H299.1V911.5H294.2ZM298.9 908.2H303.8V911.5H298.9ZM303.6 908.2H308.6V911.5H303.6ZM308.4 908.2H313.3V911.5H308.4ZM313.1 908.2H318.0V911.5H313.1ZM317.8 908.2H322.8V911.5H317.8ZM322.6 908.2H327.5V911.5H322.6ZM132.6 911.3H137.6V914.6H132.6ZM308.4 911.3H313.3V914.6H308.4ZM313.1 911.3H318.1V914.6H313.1ZM317.9 911.3H322.8V914.6H317.9ZM232.1 914.4H237.1V917.8H232.1ZM241.7 914.4H246.6V917.8H241.7ZM251.2 914.4H256.2V917.8H251.2ZM256.0 914.4H261.0V917.8H256.0ZM303.7 914.4H308.6V917.8H303.7ZM332.3 914.4H337.3V917.8H332.3ZM341.8 914.4H346.8V917.8H341.8ZM227.1 917.6H232.1V920.9H227.1ZM231.9 917.6H236.9V920.9H231.9ZM246.3 917.6H251.2V920.9H246.3ZM125.9 920.7H130.9V924.0H125.9ZM130.7 920.7H135.7V924.0H130.7ZM159.6 920.7H164.6V924.0H159.6ZM164.4 920.7H169.4V924.0H164.4ZM169.2 920.7H174.2V924.0H169.2ZM183.6 920.7H188.6V924.0H183.6ZM188.4 920.7H193.4V924.0H188.4ZM212.4 920.7H217.4V924.0H212.4ZM231.6 920.7H236.6V924.0H231.6ZM284.5 920.7H289.5V924.0H284.5ZM289.3 920.7H294.3V924.0H289.3ZM294.1 920.7H299.1V924.0H294.1ZM308.5 920.7H313.5V924.0H308.5ZM313.3 920.7H318.3V924.0H313.3ZM318.1 920.7H323.1V924.0H318.1ZM322.9 920.7H327.9V924.0H322.9ZM327.7 920.7H332.8V924.0H327.7ZM101.2 923.8H106.2V927.1H101.2ZM130.1 923.8H135.1V927.1H130.1ZM134.9 923.8H139.9V927.1H134.9ZM154.2 923.8H159.2V927.1H154.2ZM159.0 923.8H164.1V927.1H159.0ZM212.1 923.8H217.1V927.1H212.1ZM216.9 923.8H221.9V927.1H216.9ZM221.7 923.8H226.8V927.1H221.7ZM231.4 923.8H236.4V927.1H231.4ZM260.3 923.8H265.4V927.1H260.3ZM289.3 923.8H294.3V927.1H289.3ZM294.1 923.8H299.1V927.1H294.1ZM298.9 923.8H303.9V927.1H298.9ZM303.7 923.8H308.8V927.1H303.7ZM308.6 923.8H313.6V927.1H308.6ZM313.4 923.8H318.4V927.1H313.4ZM318.2 923.8H323.2V927.1H318.2ZM347.2 923.8H352.2V927.1H347.2ZM105.3 926.9H110.3V930.3H105.3ZM110.1 926.9H115.1V930.3H110.1ZM129.5 926.9H134.5V930.3H129.5ZM177.9 926.9H182.9V930.3H177.9ZM182.7 926.9H187.8V930.3H182.7ZM187.6 926.9H192.6V930.3H187.6ZM192.4 926.9H197.5V930.3H192.4ZM221.5 926.9H226.5V930.3H221.5ZM231.1 926.9H236.2V930.3H231.1ZM265.0 926.9H270.1V930.3H265.0ZM269.9 926.9H274.9V930.3H269.9ZM274.7 926.9H279.8V930.3H274.7ZM279.6 926.9H284.6V930.3H279.6ZM284.4 926.9H289.4V930.3H284.4ZM294.1 926.9H299.1V930.3H294.1ZM298.9 926.9H304.0V930.3H298.9ZM347.3 926.9H352.4V930.3H347.3ZM158.0 930.1H163.1V933.4H158.0ZM162.9 930.1H167.9V933.4H162.9ZM167.7 930.1H172.8V933.4H167.7ZM172.6 930.1H177.6V933.4H172.6ZM182.3 930.1H187.4V933.4H182.3ZM192.0 930.1H197.1V933.4H192.0ZM196.9 930.1H201.9V933.4H196.9ZM201.7 930.1H206.8V933.4H201.7ZM206.6 930.1H211.7V933.4H206.6ZM260.1 930.1H265.1V933.4H260.1ZM294.1 930.1H299.1V933.4H294.1Z"/>
<path fill="#c31b1c" d="M263.1 861.2H267.8V864.5H263.1ZM267.6 861.2H272.2V864.5H267.6ZM254.0 864.3H258.7V867.7H254.0ZM258.5 864.3H263.2V867.7H258.5ZM267.5 864.3H272.1V867.7H267.5ZM271.9 864.3H276.6V867.7H271.9ZM276.4 864.3H281.1V867.7H276.4ZM253.9 867.5H258.6V870.8H253.9ZM267.2 870.6H271.9V873.9H267.2ZM285.2 873.7H290.0V877.1H285.2ZM289.8 873.7H294.5V877.1H289.8ZM225.7 880.0H230.5V883.3H225.7ZM257.4 886.2H262.2V889.6H257.4ZM262.0 886.2H266.8V889.6H262.0ZM266.6 886.2H271.4V889.6H266.6Z"/>
<path fill="#960f19" d="M258.4 867.5H263.0V870.8H258.4ZM276.2 873.7H280.9V877.1H276.2ZM280.7 873.7H285.4V877.1H280.7ZM230.3 880.0H235.1V883.3H230.3ZM234.9 880.0H239.6V883.3H234.9ZM239.4 880.0H244.2V883.3H239.4ZM244.0 880.0H248.8V883.3H244.0ZM248.6 880.0H253.4V883.3H248.6ZM253.2 880.0H257.9V883.3H253.2ZM262.3 880.0H267.1V883.3H262.3ZM266.9 880.0H271.6V883.3H266.9Z"/>
<path fill="#51beac" d="M138.3 883.1H143.1V886.5H138.3ZM123.9 886.2H128.7V889.6H123.9ZM123.2 889.4H128.0V892.7H123.2ZM127.8 889.4H132.6V892.7H127.8ZM131.8 892.5H136.6V895.8H131.8ZM136.4 892.5H141.3V895.8H136.4ZM117.2 895.6H122.0V899.0H117.2ZM121.8 895.6H126.7V899.0H121.8ZM126.5 895.6H131.3V899.0H126.5ZM303.5 895.6H308.4V899.0H303.5ZM308.2 895.6H313.0V899.0H308.2ZM345.5 895.6H350.3V899.0H345.5ZM116.5 898.8H121.3V902.1H116.5ZM130.5 898.8H135.4V902.1H130.5ZM135.2 898.8H140.0V902.1H135.2ZM139.8 898.8H144.7V902.1H139.8ZM270.8 898.8H275.7V902.1H270.8ZM275.5 898.8H280.4V902.1H275.5ZM280.2 898.8H285.0V902.1H280.2ZM289.5 898.8H294.4V902.1H289.5ZM294.2 898.8H299.1V902.1H294.2ZM298.9 898.8H303.7V902.1H298.9ZM317.6 898.8H322.5V902.1H317.6ZM326.9 898.8H331.8V902.1H326.9ZM111.0 901.9H115.9V905.2H111.0ZM115.7 901.9H120.6V905.2H115.7ZM120.4 901.9H125.3V905.2H120.4ZM125.1 901.9H130.0V905.2H125.1ZM129.8 901.9H134.7V905.2H129.8ZM280.1 901.9H285.0V905.2H280.1ZM284.8 901.9H289.7V905.2H284.8ZM289.5 901.9H294.4V905.2H289.5ZM294.2 901.9H299.1V905.2H294.2ZM308.3 901.9H313.2V905.2H308.3ZM162.2 905.0H167.1V908.4H162.2ZM256.5 905.0H261.4V908.4H256.5ZM265.9 905.0H270.8V908.4H265.9ZM270.6 905.0H275.5V908.4H270.6ZM303.6 905.0H308.5V908.4H303.6ZM308.3 905.0H313.2V908.4H308.3ZM313.0 905.0H317.9V908.4H313.0ZM317.7 905.0H322.7V908.4H317.7ZM322.5 905.0H327.4V908.4H322.5ZM327.2 905.0H332.1V908.4H327.2ZM331.9 905.0H336.8V908.4H331.9ZM341.3 905.0H346.2V908.4H341.3ZM138.0 908.2H142.9V911.5H138.0ZM147.5 908.2H152.4V911.5H147.5ZM275.2 908.2H280.2V911.5H275.2ZM327.3 908.2H332.2V911.5H327.3ZM336.7 908.2H341.7V911.5H336.7ZM161.1 911.3H166.1V914.6H161.1ZM237.1 911.3H242.1V914.6H237.1ZM241.9 911.3H246.8V914.6H241.9ZM256.1 911.3H261.1V914.6H256.1ZM260.9 911.3H265.8V914.6H260.9ZM265.6 911.3H270.6V914.6H265.6ZM275.1 911.3H280.1V914.6H275.1ZM289.4 911.3H294.3V914.6H289.4ZM303.6 911.3H308.6V914.6H303.6ZM336.9 911.3H341.9V914.6H336.9ZM346.4 911.3H351.4V914.6H346.4ZM108.2 914.4H113.1V917.8H108.2ZM112.9 914.4H117.9V917.8H112.9ZM117.7 914.4H122.7V917.8H117.7ZM122.5 914.4H127.4V917.8H122.5ZM127.2 914.4H132.2V917.8H127.2ZM151.1 914.4H156.0V917.8H151.1ZM155.8 914.4H160.8V917.8H155.8ZM160.6 914.4H165.6V917.8H160.6ZM165.4 914.4H170.3V917.8H165.4ZM170.1 914.4H175.1V917.8H170.1ZM174.9 914.4H179.9V917.8H174.9ZM217.8 914.4H222.8V917.8H217.8ZM222.6 914.4H227.6V917.8H222.6ZM227.4 914.4H232.3V917.8H227.4ZM260.8 914.4H265.7V917.8H260.8ZM265.5 914.4H270.5V917.8H265.5ZM327.5 914.4H332.5V917.8H327.5ZM102.6 917.6H107.6V920.9H102.6ZM107.4 917.6H112.4V920.9H107.4ZM126.6 917.6H131.6V920.9H126.6ZM136.2 917.6H141.1V920.9H136.2ZM145.7 917.6H150.7V920.9H145.7ZM150.5 917.6H155.5V920.9H150.5ZM155.3 917.6H160.3V920.9H155.3ZM208.0 917.6H212.9V920.9H208.0ZM212.7 917.6H217.7V920.9H212.7ZM222.3 917.6H227.3V920.9H222.3ZM289.3 917.6H294.3V920.9H289.3ZM294.1 917.6H299.1V920.9H294.1ZM308.5 917.6H313.5V920.9H308.5ZM318.1 917.6H323.0V920.9H318.1ZM322.8 917.6H327.8V920.9H322.8ZM327.6 917.6H332.6V920.9H327.6ZM332.4 917.6H337.4V920.9H332.4ZM337.2 917.6H342.2V920.9H337.2ZM101.9 920.7H106.9V924.0H101.9ZM106.7 920.7H111.7V924.0H106.7ZM111.5 920.7H116.5V924.0H111.5ZM116.3 920.7H121.3V924.0H116.3ZM121.1 920.7H126.1V924.0H121.1ZM145.1 920.7H150.2V924.0H145.1ZM150.0 920.7H155.0V924.0H150.0ZM154.8 920.7H159.8V924.0H154.8ZM174.0 920.7H179.0V924.0H174.0ZM178.8 920.7H183.8V924.0H178.8ZM193.2 920.7H198.2V924.0H193.2ZM207.6 920.7H212.6V924.0H207.6ZM241.3 920.7H246.3V924.0H241.3ZM332.6 920.7H337.6V924.0H332.6ZM337.4 920.7H342.4V924.0H337.4ZM342.2 920.7H347.2V924.0H342.2ZM347.0 920.7H352.0V924.0H347.0ZM110.8 923.8H115.8V927.1H110.8ZM115.6 923.8H120.7V927.1H115.6ZM125.3 923.8H130.3V927.1H125.3ZM144.6 923.8H149.6V927.1H144.6ZM163.9 923.8H168.9V927.1H163.9ZM168.7 923.8H173.7V927.1H168.7ZM173.5 923.8H178.5V927.1H173.5ZM178.3 923.8H183.4V927.1H178.3ZM183.2 923.8H188.2V927.1H183.2ZM236.2 923.8H241.2V927.1H236.2ZM250.7 923.8H255.7V927.1H250.7ZM255.5 923.8H260.5V927.1H255.5ZM265.2 923.8H270.2V927.1H265.2ZM270.0 923.8H275.0V927.1H270.0ZM274.8 923.8H279.8V927.1H274.8ZM279.6 923.8H284.7V927.1H279.6ZM114.9 926.9H120.0V930.3H114.9ZM153.7 926.9H158.7V930.3H153.7ZM158.5 926.9H163.6V930.3H158.5ZM163.4 926.9H168.4V930.3H163.4ZM168.2 926.9H173.2V930.3H168.2ZM226.3 926.9H231.3V930.3H226.3ZM245.7 926.9H250.7V930.3H245.7ZM250.5 926.9H255.6V930.3H250.5ZM255.4 926.9H260.4V930.3H255.4ZM260.2 926.9H265.2V930.3H260.2ZM323.1 926.9H328.2V930.3H323.1ZM328.0 926.9H333.0V930.3H328.0ZM337.7 926.9H342.7V930.3H337.7ZM99.7 930.1H104.7V933.4H99.7ZM104.5 930.1H109.6V933.4H104.5ZM124.0 930.1H129.0V933.4H124.0ZM128.8 930.1H133.9V933.4H128.8ZM148.3 930.1H153.3V933.4H148.3ZM153.1 930.1H158.2V933.4H153.1ZM313.5 930.1H318.6V933.4H313.5ZM333.0 930.1H338.0V933.4H333.0ZM337.8 930.1H342.9V933.4H337.8ZM342.7 930.1H347.7V933.4H342.7ZM347.5 930.1H352.6V933.4H347.5Z"/>
</g>
<polyline points="203.2,810.1 193.4,823.5 187.0,841.6 183.1,858.3 170.2,864.8 140.6,882.3 147.0,888.0 167.7,898.3 180.5,916.3 193.4,922.8 224.4,913.7 245.0,904.7 275.9,899.6 306.9,895.7 340.4,891.8 349.9,890.5" fill="none" stroke="#fff" stroke-width="2.6" stroke-dasharray="2.6 2.6"/>
<rect x="397.4" y="807.8" width="20.2" height="126" fill="url(#geb)" stroke="#2f3a3a" stroke-width="1.4"/>
<text x="422.4" y="829.2" font-size="21" textLength="32.0" lengthAdjust="spacingAndGlyphs" font-weight="bold" class="sf">-0.8</text>
<text x="422.4" y="861.2" font-size="21" textLength="32.0" lengthAdjust="spacingAndGlyphs" font-weight="bold" class="sf">-1.6</text>
<text x="422.4" y="893.2" font-size="21" textLength="32.0" lengthAdjust="spacingAndGlyphs" font-weight="bold" class="sf">-2.4</text>
<text x="422.4" y="925.2" font-size="21" textLength="32.0" lengthAdjust="spacingAndGlyphs" font-weight="bold" class="sf">-3.2</text>
<text x="361.5" y="791.3" font-size="25" font-weight="bold" class="sf" textLength="115.8" lengthAdjust="spacingAndGlyphs"><tspan font-style="italic">i</tspan> / mA cm<tspan font-size="14" dy="-10">-2</tspan></text>
<polygon points="115.6,1006.6 329.5,1006.6 349.4,1130.6 96.0,1130.6" fill="#c49868"/>
<polygon points="113.5,971.2 339.1,971.2 348.1,1024.1 345.5,1038.3 352.0,1095.0 94.2,1095.0" fill="url(#hex)"/>
<polygon points="196.0,945.5 333.9,945.0 348.1,1024.1 328.8,1029.3 257.9,1033.1 224.4,1046.0 181.8,1058.9 168.9,1033.1 138.0,1017.7 180.5,989.3" fill="url(#hex2)" opacity=".9"/>
<polygon points="115.6,1006.6 329.5,1006.6 343.7,1095.2 101.5,1095.2" fill="url(#hex3)"/>
<polygon points="115.6,1006.6 329.5,1006.6 349.4,1130.6 96.0,1130.6" fill="none" stroke="#1c1410" stroke-width="1.8"/>
<polygon points="196.0,945.5 333.9,945.0 348.1,1024.1 328.8,1029.3 257.9,1033.1 224.4,1046.0 181.8,1058.9 168.9,1033.1 138.0,1017.7 180.5,989.3" fill="none" stroke="#ea4444" stroke-width="2.3" stroke-dasharray="2.6 1.6"/>
<polyline points="329.5,1006.6 189.6,1006.6 183.1,1020.2 174.1,1048.6 167.7,1058.9 132.8,1079.5 157.3,1088.5 167.7,1100.1 176.7,1118.2 188.3,1118.2 224.4,1105.3 257.9,1095.0 304.3,1093.7 341.7,1086.0" fill="none" stroke="#111" stroke-width="1.9" stroke-linejoin="round"/>
<polyline points="329.5,1006.6 341.7,1086.0" fill="none" stroke="#111" stroke-width="3"/>
<text x="380.8" y="989.6" font-size="25" textLength="98.4" lengthAdjust="spacingAndGlyphs" font-weight="bold" class="sf">bilayer B</text>
<text x="380.8" y="1054.4" font-size="25" textLength="137.6" lengthAdjust="spacingAndGlyphs" font-weight="bold" class="sf">monolayer A</text>
<text x="380.8" y="1116.0" font-size="25" textLength="73.6" lengthAdjust="spacingAndGlyphs" font-weight="bold" class="sf">Cu foil</text>
<text x="36.2" y="808.0" font-size="36">e</text>
</g>
<g>
<defs><pattern id="hat" width="4.2" height="4.2" patternUnits="userSpaceOnUse" patternTransform="rotate(45)"><rect width="4.2" height="4.2" fill="#fff" fill-opacity=".75"/><rect width="4.2" height="1.2" fill="#f07a7c"/></pattern></defs>
<rect x="839.7" y="1056.5" width="11" height="16.9" fill="#c0c0c0"/>
<rect x="853.1" y="1031.2" width="11" height="42.2" fill="#c0c0c0"/>
<rect x="866.5" y="989.0" width="11" height="84.4" fill="#c0c0c0"/>
<rect x="879.9" y="949.6" width="11" height="123.8" fill="#c0c0c0"/>
<rect x="893.3" y="972.1" width="11" height="101.3" fill="#c0c0c0"/>
<rect x="906.7" y="1003.1" width="11" height="70.3" fill="#c0c0c0"/>
<rect x="920.1" y="1039.6" width="11" height="33.8" fill="#c0c0c0"/>
<rect x="933.5" y="1053.7" width="11" height="19.7" fill="#c0c0c0"/>
<rect x="946.9" y="1070.6" width="11" height="2.8" fill="#c0c0c0"/>
<rect x="718.9" y="1070.6" width="11.6" height="2.8" fill="url(#hat)" stroke="#ec5a5e" stroke-width="1.2"/>
<rect x="732.3" y="1067.8" width="11.6" height="5.6" fill="url(#hat)" stroke="#ec5a5e" stroke-width="1.2"/>
<rect x="745.7" y="1070.6" width="11.6" height="2.8" fill="url(#hat)" stroke="#ec5a5e" stroke-width="1.2"/>
<rect x="759.1" y="1042.5" width="11.6" height="30.9" fill="url(#hat)" stroke="#ec5a5e" stroke-width="1.2"/>
<rect x="772.5" y="1003.1" width="11.6" height="70.3" fill="url(#hat)" stroke="#ec5a5e" stroke-width="1.2"/>
<rect x="785.9" y="887.7" width="11.6" height="185.7" fill="url(#hat)" stroke="#ec5a5e" stroke-width="1.2"/>
<rect x="799.3" y="854.0" width="11.6" height="219.4" fill="url(#hat)" stroke="#ec5a5e" stroke-width="1.2"/>
<rect x="812.7" y="896.2" width="11.6" height="177.2" fill="url(#hat)" stroke="#ec5a5e" stroke-width="1.2"/>
<rect x="826.1" y="974.9" width="11.6" height="98.5" fill="url(#hat)" stroke="#ec5a5e" stroke-width="1.2"/>
<rect x="839.5" y="1017.1" width="11.6" height="56.3" fill="url(#hat)" stroke="#ec5a5e" stroke-width="1.2"/>
<rect x="852.9" y="1062.1" width="11.6" height="11.3" fill="url(#hat)" stroke="#ec5a5e" stroke-width="1.2"/>
<rect x="866.3" y="1070.6" width="11.6" height="2.8" fill="url(#hat)" stroke="#ec5a5e" stroke-width="1.2"/>
<rect x="879.7" y="1070.6" width="11.6" height="2.8" fill="url(#hat)" stroke="#ec5a5e" stroke-width="1.2"/>
<rect x="691.6" y="792.1" width="348.1" height="281.3" fill="none" stroke="#707070" stroke-width="1.5"/>
<text x="681.5" y="1079.6" font-size="19" text-anchor="end" fill="#2a2a2a" textLength="10.4" lengthAdjust="spacingAndGlyphs">0</text>
<text x="681.5" y="1009.3" font-size="19" text-anchor="end" fill="#2a2a2a" textLength="20.8" lengthAdjust="spacingAndGlyphs">25</text>
<text x="681.5" y="939.0" font-size="19" text-anchor="end" fill="#2a2a2a" textLength="20.8" lengthAdjust="spacingAndGlyphs">50</text>
<text x="681.5" y="868.6" font-size="19" text-anchor="end" fill="#2a2a2a" textLength="20.8" lengthAdjust="spacingAndGlyphs">75</text>
<text x="681.5" y="798.3" font-size="19" text-anchor="end" fill="#2a2a2a" textLength="31.2" lengthAdjust="spacingAndGlyphs">100</text>
<text x="743.3" y="1098.5" font-size="19" text-anchor="middle" fill="#2a2a2a" textLength="40.0" lengthAdjust="spacingAndGlyphs">-0.42</text>
<text x="823.7" y="1098.5" font-size="19" text-anchor="middle" fill="#2a2a2a" textLength="40.0" lengthAdjust="spacingAndGlyphs">-0.36</text>
<text x="904.1" y="1098.5" font-size="19" text-anchor="middle" fill="#2a2a2a" textLength="40.0" lengthAdjust="spacingAndGlyphs">-0.30</text>
<text x="984.5" y="1098.5" font-size="19" text-anchor="middle" fill="#2a2a2a" textLength="40.0" lengthAdjust="spacingAndGlyphs">-0.24</text>
<path d="M691.6 1073.4h-5M691.6 1003.1h-5M691.6 932.8h-5M691.6 862.4h-5M691.6 792.1h-5M691.6 1038.2h-3M691.6 967.9h-3M691.6 897.6h-3M691.6 827.3h-3M744.8 1073.4v5M825.2 1073.4v5M905.6 1073.4v5M986.0 1073.4v5M704.6 1073.4v3M785.0 1073.4v3M865.4 1073.4v3M945.8 1073.4v3M1026.2 1073.4v3" stroke="#707070" stroke-width="1.3" fill="none"/>
<rect x="888.5" y="801.7" width="43.7" height="21.1" fill="#c0c0c0"/>
<rect x="889" y="825.8" width="43" height="21.4" fill="url(#hat)" stroke="#ec5a5e" stroke-width="1.2"/>
<text x="937.7" y="817.6" font-size="17" fill="#222" textLength="90.0" lengthAdjust="spacingAndGlyphs">monolayer</text>
<text x="937.7" y="841.8" font-size="17" fill="#222" textLength="57.0" lengthAdjust="spacingAndGlyphs">bilayer</text>
<text x="940.2" y="943.5" font-size="16" fill="#222" textLength="86.0" lengthAdjust="spacingAndGlyphs">reversible</text>
<line x1="1025.6" y1="971" x2="1025.6" y2="1073" stroke="#444" stroke-width="1.5" stroke-dasharray="5.5 3.5"/>
<path d="M996 957.4L1013 979" stroke="#222" stroke-width="1.1" fill="none"/><path d="M1015.4 982L1008.6 977.6L1012.6 974.6Z" fill="#222"/>
<text x="640.5" y="932.8" font-size="21" text-anchor="middle" fill="#222" textLength="116.0" lengthAdjust="spacingAndGlyphs" transform="rotate(-90 640.5 932.8)">Pixel count</text>
<text x="761.5" y="1126" font-size="22.5" fill="#222" textLength="207" lengthAdjust="spacingAndGlyphs"><tspan font-style="italic">E</tspan><tspan font-size="13" dy="5">1/2</tspan><tspan dy="-5"> vs. Ag/AgCl (V)</tspan></text>
<text x="605.3" y="803.6" font-size="34.5">f</text>
</g>
</svg>
</body></html>
